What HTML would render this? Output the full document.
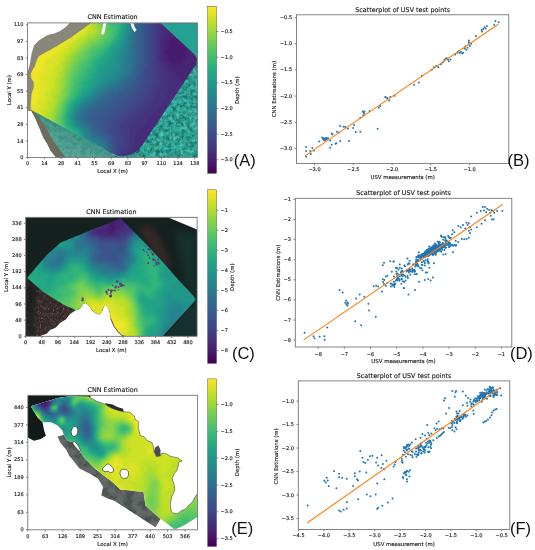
<!DOCTYPE html>
<html><head><meta charset="utf-8"><title>CNN Estimation figure</title>
<style>html,body{margin:0;padding:0;background:#fff;}svg{display:block}
text{font-family:'DejaVu Sans','Liberation Sans',sans-serif;fill:#1a1a1a;stroke:#1a1a1a;stroke-width:0.14px;text-anchor:middle}
.k{font-size:5.02px}.l{font-size:5.4px}.h{font-size:6.42px}
.b{font-family:'Liberation Sans',sans-serif;font-size:16.5px;fill:#111;stroke:none}
.e{text-anchor:end}.s{text-anchor:start}</style></head>
<body><svg width="535" height="550" viewBox="0 0 535 550">
<rect width="535" height="550" fill="#fff"/>
<defs>
<linearGradient id="vir" x1="0" y1="1" x2="0" y2="0"><stop offset="0.0" stop-color="#440154"/><stop offset="0.1" stop-color="#482475"/><stop offset="0.2" stop-color="#414487"/><stop offset="0.3" stop-color="#355f8d"/><stop offset="0.4" stop-color="#2a788e"/><stop offset="0.5" stop-color="#21918c"/><stop offset="0.6" stop-color="#22a884"/><stop offset="0.7" stop-color="#44bf70"/><stop offset="0.8" stop-color="#7ad151"/><stop offset="0.9" stop-color="#bddf26"/><stop offset="1.0" stop-color="#fde725"/></linearGradient>
<filter id="blurA" x="-5%" y="-5%" width="110%" height="110%" color-interpolation-filters="sRGB"><feGaussianBlur stdDeviation="1.3"/></filter>
<filter id="texA1" x="0" y="0" width="1" height="1" color-interpolation-filters="sRGB"><feTurbulence type="fractalNoise" baseFrequency="0.22" numOctaves="3" seed="4"/><feColorMatrix type="matrix" values="0 0 0 0 0.08  0 0 0 0 0.40  0 0 0 0 0.38  2.4 0 0 0 -0.9"/><feComposite in2="SourceGraphic" operator="in"/></filter>
<filter id="texA2" x="0" y="0" width="1" height="1" color-interpolation-filters="sRGB"><feTurbulence type="fractalNoise" baseFrequency="0.3" numOctaves="2" seed="11"/><feColorMatrix type="matrix" values="0 0 0 0 0.38  0 0 0 0 0.85  0 0 0 0 0.76  0 1.9 0 0 -0.85"/><feComposite in2="SourceGraphic" operator="in"/></filter>
<filter id="blurC" x="-20%" y="-20%" width="140%" height="140%" color-interpolation-filters="sRGB"><feGaussianBlur stdDeviation="3"/></filter>
<filter id="texC1" x="0" y="0" width="1" height="1" color-interpolation-filters="sRGB"><feTurbulence type="fractalNoise" baseFrequency="0.3" numOctaves="3" seed="7"/><feColorMatrix type="matrix" values="0 0 0 0 0.44  0 0 0 0 0.29  0 0 0 0 0.30  1.5 0 0 0 -0.62"/><feComposite in2="SourceGraphic" operator="in"/></filter>
<filter id="texC2" x="0" y="0" width="1" height="1" color-interpolation-filters="sRGB"><feTurbulence type="fractalNoise" baseFrequency="0.6" numOctaves="2" seed="3"/><feColorMatrix type="matrix" values="0 0 0 0 0.62  0 0 0 0 0.42  0 0 0 0 0.43  3 0 0 0 -1.8"/><feComposite in2="SourceGraphic" operator="in"/></filter>
<filter id="texE1" x="0" y="0" width="1" height="1" color-interpolation-filters="sRGB"><feTurbulence type="fractalNoise" baseFrequency="0.12" numOctaves="3" seed="2"/><feColorMatrix type="matrix" values="0 0 0 0 0.25  0 0 0 0 0.29  0 0 0 0 0.28  2.2 0 0 0 -0.85"/><feComposite in2="SourceGraphic" operator="in"/></filter>

</defs>
<g id="mapA"><clipPath id="axA"><rect x="27.6" y="22.9" width="169.9" height="134.5"/></clipPath>
<clipPath id="dpA"><polygon points="91.3,22.9 160.5,22.9 193.5,53.5 196.3,57.0 197.0,60.5 196.0,64.5 142.5,145.0 138.5,150.0 134.0,153.2 128.0,155.6 122.0,156.3 116.0,155.3 112.0,153.6 30.5,109.6 30.5,104.0 31.1,98.6 31.6,93.2 33.6,87.7 33.6,82.3 31.1,77.9 30.5,74.6 32.5,70.0 34.9,65.9 36.5,60.5 39.0,56.0 50.9,49.4 69.4,38.5 80.0,31.0"/></clipPath>
<g clip-path="url(#axA)">
<polygon points="69.8,22.9 66.0,26.7 60.2,30.9 54.3,33.5 47.6,35.1 39.1,40.2 34.1,45.2 31.6,53.6 29.9,63.7 28.7,68.8 27.6,72.0 27.6,111.0 31.5,111.0 40.0,90.0 60.0,60.0 95.0,22.9" fill="#898779"/>
<polygon points="158,22.9 197.5,22.9 197.5,64 190,56" fill="#25a193"/>
<polygon points="197.5,58.0 197.5,157.4 112.0,157.4 118.0,150.0 145.0,140.0 194.0,62.0" fill="#2fa697"/>
<polygon points="197.5,58.0 197.5,157.4 112.0,157.4 118.0,150.0 145.0,140.0 194.0,62.0" fill="#0e5a55" filter="url(#texA1)"/>
<polygon points="197.5,58.0 197.5,157.4 112.0,157.4 118.0,150.0 145.0,140.0 194.0,62.0" fill="#6fe3cf" filter="url(#texA2)"/>
<linearGradient id="gwA" gradientUnits="userSpaceOnUse" x1="72" y1="131" x2="60" y2="154"><stop offset="0" stop-color="#44988a"/><stop offset="1" stop-color="#60ad9e"/></linearGradient>
<polygon points="30.7,109.0 112.0,153.0 116.0,157.4 56.0,157.4 50.2,150.0 47.9,144.9 43.4,137.4 39.0,126.9 35.2,117.9" fill="url(#gwA)"/>
<polygon points="30.7,109.0 112.0,153.0 116.0,157.4 56.0,157.4 50.2,150.0 47.9,144.9 43.4,137.4 39.0,126.9 35.2,117.9" fill="#0e5a55" filter="url(#texA1)" opacity="0.35"/>
<polygon points="30.5,109.5 34.5,112.0 40.4,119.4 44.9,125.4 48.7,132.9 53.9,141.9 59.9,150.0 66.0,157.4 56.0,157.4 50.2,150.0 47.9,144.9 43.4,137.4 39.0,126.9 35.2,117.9" fill="#6d6b5c"/>
<g clip-path="url(#dpA)" filter="url(#blurA)">
<path fill="#471b6d" d="M174 34h3.3v3.3h-3.3zM171 37h9.3v3.3h-9.3zM168 40h15.3v3.3h-15.3zM168 43h18.3v3.3h-18.3zM168 46h21.3v3.3h-21.3zM165 49h21.3v3.3h-21.3zM165 52h21.3v3.3h-21.3zM168 55h18.3v3.3h-18.3zM168 58h15.3v3.3h-15.3zM171 61h12.3v3.3h-12.3z"/>
<path fill="#482475" d="M168 28h3.3v3.3h-3.3zM165 31h9.3v3.3h-9.3zM165 34h9.3v3.3h-9.3zM165 37h6.3v3.3h-6.3zM162 40h6.3v3.3h-6.3zM162 43h6.3v3.3h-6.3zM162 46h6.3v3.3h-6.3zM162 49h3.3v3.3h-3.3zM186 49h6.3v3.3h-6.3zM162 52h3.3v3.3h-3.3zM186 52h9.3v3.3h-9.3zM162 55h6.3v3.3h-6.3zM186 55h12.3v3.3h-12.3zM162 58h6.3v3.3h-6.3zM183 58h15.3v3.3h-15.3zM165 61h6.3v3.3h-6.3zM183 61h15.3v3.3h-15.3zM168 64h30.3v3.3h-30.3zM171 67h24.3v3.3h-24.3zM174 70h18.3v3.3h-18.3zM177 73h15.3v3.3h-15.3zM180 76h9.3v3.3h-9.3zM180 79h6.3v3.3h-6.3zM183 82h3.3v3.3h-3.3zM144 142h3.3v3.3h-3.3zM141 145h3.3v3.3h-3.3z"/>
<path fill="#462c7a" d="M162 22h3.3v3.3h-3.3zM162 25h6.3v3.3h-6.3zM162 28h6.3v3.3h-6.3zM162 31h3.3v3.3h-3.3zM159 34h6.3v3.3h-6.3zM159 37h6.3v3.3h-6.3zM159 40h3.3v3.3h-3.3zM159 43h3.3v3.3h-3.3zM159 46h3.3v3.3h-3.3zM159 49h3.3v3.3h-3.3zM159 52h3.3v3.3h-3.3zM159 55h3.3v3.3h-3.3zM159 58h3.3v3.3h-3.3zM162 61h3.3v3.3h-3.3zM162 64h6.3v3.3h-6.3zM165 67h6.3v3.3h-6.3zM165 70h9.3v3.3h-9.3zM168 73h9.3v3.3h-9.3zM168 76h12.3v3.3h-12.3zM168 79h12.3v3.3h-12.3zM168 82h15.3v3.3h-15.3zM168 85h15.3v3.3h-15.3zM168 88h12.3v3.3h-12.3zM168 91h12.3v3.3h-12.3zM165 94h12.3v3.3h-12.3zM165 97h12.3v3.3h-12.3zM162 100h12.3v3.3h-12.3zM159 103h12.3v3.3h-12.3zM159 106h12.3v3.3h-12.3zM156 109h12.3v3.3h-12.3zM153 112h12.3v3.3h-12.3zM150 115h15.3v3.3h-15.3zM147 118h15.3v3.3h-15.3zM147 121h12.3v3.3h-12.3zM144 124h15.3v3.3h-15.3zM138 127h18.3v3.3h-18.3zM135 130h18.3v3.3h-18.3zM135 133h18.3v3.3h-18.3zM135 136h15.3v3.3h-15.3zM135 139h12.3v3.3h-12.3zM135 142h9.3v3.3h-9.3zM135 145h6.3v3.3h-6.3zM132 148h9.3v3.3h-9.3zM129 151h9.3v3.3h-9.3zM129 154h3.3v3.3h-3.3z"/>
<path fill="#44347e" d="M159 22h3.3v3.3h-3.3zM156 25h6.3v3.3h-6.3zM156 28h6.3v3.3h-6.3zM156 31h6.3v3.3h-6.3zM156 34h3.3v3.3h-3.3zM156 37h3.3v3.3h-3.3zM156 40h3.3v3.3h-3.3zM156 43h3.3v3.3h-3.3zM156 46h3.3v3.3h-3.3zM156 49h3.3v3.3h-3.3zM156 52h3.3v3.3h-3.3zM156 55h3.3v3.3h-3.3zM156 58h3.3v3.3h-3.3zM156 61h6.3v3.3h-6.3zM159 64h3.3v3.3h-3.3zM159 67h6.3v3.3h-6.3zM159 70h6.3v3.3h-6.3zM159 73h9.3v3.3h-9.3zM159 76h9.3v3.3h-9.3zM159 79h9.3v3.3h-9.3zM159 82h9.3v3.3h-9.3zM159 85h9.3v3.3h-9.3zM156 88h12.3v3.3h-12.3zM156 91h12.3v3.3h-12.3zM153 94h12.3v3.3h-12.3zM153 97h12.3v3.3h-12.3zM150 100h12.3v3.3h-12.3zM150 103h9.3v3.3h-9.3zM147 106h12.3v3.3h-12.3zM144 109h12.3v3.3h-12.3zM141 112h12.3v3.3h-12.3zM138 115h12.3v3.3h-12.3zM135 118h12.3v3.3h-12.3zM132 121h15.3v3.3h-15.3zM129 124h15.3v3.3h-15.3zM129 127h9.3v3.3h-9.3zM129 130h6.3v3.3h-6.3zM129 133h6.3v3.3h-6.3zM129 136h6.3v3.3h-6.3zM129 139h6.3v3.3h-6.3zM129 142h6.3v3.3h-6.3zM129 145h6.3v3.3h-6.3zM126 148h6.3v3.3h-6.3zM123 151h6.3v3.3h-6.3zM120 154h9.3v3.3h-9.3z"/>
<path fill="#433c82" d="M153 22h6.3v3.3h-6.3zM153 25h3.3v3.3h-3.3zM153 28h3.3v3.3h-3.3zM153 31h3.3v3.3h-3.3zM153 34h3.3v3.3h-3.3zM153 37h3.3v3.3h-3.3zM153 40h3.3v3.3h-3.3zM153 43h3.3v3.3h-3.3zM153 46h3.3v3.3h-3.3zM153 49h3.3v3.3h-3.3zM153 52h3.3v3.3h-3.3zM153 55h3.3v3.3h-3.3zM153 58h3.3v3.3h-3.3zM153 61h3.3v3.3h-3.3zM153 64h6.3v3.3h-6.3zM153 67h6.3v3.3h-6.3zM153 70h6.3v3.3h-6.3zM153 73h6.3v3.3h-6.3zM153 76h6.3v3.3h-6.3zM153 79h6.3v3.3h-6.3zM153 82h6.3v3.3h-6.3zM150 85h9.3v3.3h-9.3zM150 88h6.3v3.3h-6.3zM147 91h9.3v3.3h-9.3zM147 94h6.3v3.3h-6.3zM144 97h9.3v3.3h-9.3zM144 100h6.3v3.3h-6.3zM141 103h9.3v3.3h-9.3zM138 106h9.3v3.3h-9.3zM135 109h9.3v3.3h-9.3zM132 112h9.3v3.3h-9.3zM129 115h9.3v3.3h-9.3zM126 118h9.3v3.3h-9.3zM123 121h9.3v3.3h-9.3zM120 124h9.3v3.3h-9.3zM120 127h9.3v3.3h-9.3zM120 130h9.3v3.3h-9.3zM120 133h9.3v3.3h-9.3zM123 136h6.3v3.3h-6.3zM123 139h6.3v3.3h-6.3zM123 142h6.3v3.3h-6.3zM120 145h9.3v3.3h-9.3zM120 148h6.3v3.3h-6.3zM117 151h6.3v3.3h-6.3zM117 154h3.3v3.3h-3.3z"/>
<path fill="#414487" d="M150 22h3.3v3.3h-3.3zM150 25h3.3v3.3h-3.3zM150 28h3.3v3.3h-3.3zM150 31h3.3v3.3h-3.3zM150 34h3.3v3.3h-3.3zM150 37h3.3v3.3h-3.3zM150 40h3.3v3.3h-3.3zM150 43h3.3v3.3h-3.3zM150 46h3.3v3.3h-3.3zM150 49h3.3v3.3h-3.3zM150 52h3.3v3.3h-3.3zM150 55h3.3v3.3h-3.3zM150 58h3.3v3.3h-3.3zM150 61h3.3v3.3h-3.3zM150 64h3.3v3.3h-3.3zM150 67h3.3v3.3h-3.3zM150 70h3.3v3.3h-3.3zM147 73h6.3v3.3h-6.3zM147 76h6.3v3.3h-6.3zM147 79h6.3v3.3h-6.3zM147 82h6.3v3.3h-6.3zM144 85h6.3v3.3h-6.3zM144 88h6.3v3.3h-6.3zM141 91h6.3v3.3h-6.3zM141 94h6.3v3.3h-6.3zM138 97h6.3v3.3h-6.3zM135 100h9.3v3.3h-9.3zM132 103h9.3v3.3h-9.3zM129 106h9.3v3.3h-9.3zM126 109h9.3v3.3h-9.3zM123 112h9.3v3.3h-9.3zM120 115h9.3v3.3h-9.3zM117 118h9.3v3.3h-9.3zM114 121h9.3v3.3h-9.3zM114 124h6.3v3.3h-6.3zM114 127h6.3v3.3h-6.3zM114 130h6.3v3.3h-6.3zM114 133h6.3v3.3h-6.3zM117 136h6.3v3.3h-6.3zM117 139h6.3v3.3h-6.3zM117 142h6.3v3.3h-6.3zM117 145h3.3v3.3h-3.3zM117 148h3.3v3.3h-3.3z"/>
<path fill="#3e4b88" d="M147 22h3.3v3.3h-3.3zM147 25h3.3v3.3h-3.3zM147 28h3.3v3.3h-3.3zM147 31h3.3v3.3h-3.3zM147 34h3.3v3.3h-3.3zM147 37h3.3v3.3h-3.3zM147 40h3.3v3.3h-3.3zM147 43h3.3v3.3h-3.3zM147 46h3.3v3.3h-3.3zM147 49h3.3v3.3h-3.3zM147 52h3.3v3.3h-3.3zM147 55h3.3v3.3h-3.3zM147 58h3.3v3.3h-3.3zM147 61h3.3v3.3h-3.3zM147 64h3.3v3.3h-3.3zM144 67h6.3v3.3h-6.3zM144 70h6.3v3.3h-6.3zM144 73h3.3v3.3h-3.3zM144 76h3.3v3.3h-3.3zM141 79h6.3v3.3h-6.3zM141 82h6.3v3.3h-6.3zM138 85h6.3v3.3h-6.3zM138 88h6.3v3.3h-6.3zM135 91h6.3v3.3h-6.3zM135 94h6.3v3.3h-6.3zM132 97h6.3v3.3h-6.3zM129 100h6.3v3.3h-6.3zM126 103h6.3v3.3h-6.3zM123 106h6.3v3.3h-6.3zM120 109h6.3v3.3h-6.3zM117 112h6.3v3.3h-6.3zM114 115h6.3v3.3h-6.3zM111 118h6.3v3.3h-6.3zM108 121h6.3v3.3h-6.3zM108 124h6.3v3.3h-6.3zM108 127h6.3v3.3h-6.3zM108 130h6.3v3.3h-6.3zM111 133h3.3v3.3h-3.3zM114 136h3.3v3.3h-3.3zM114 139h3.3v3.3h-3.3zM114 142h3.3v3.3h-3.3zM114 145h3.3v3.3h-3.3zM114 148h3.3v3.3h-3.3zM114 151h3.3v3.3h-3.3zM114 154h3.3v3.3h-3.3z"/>
<path fill="#3b528a" d="M144 22h3.3v3.3h-3.3zM144 25h3.3v3.3h-3.3zM144 28h3.3v3.3h-3.3zM144 31h3.3v3.3h-3.3zM144 34h3.3v3.3h-3.3zM144 37h3.3v3.3h-3.3zM144 40h3.3v3.3h-3.3zM144 43h3.3v3.3h-3.3zM144 46h3.3v3.3h-3.3zM144 49h3.3v3.3h-3.3zM144 52h3.3v3.3h-3.3zM144 55h3.3v3.3h-3.3zM144 58h3.3v3.3h-3.3zM144 61h3.3v3.3h-3.3zM141 64h6.3v3.3h-6.3zM141 67h3.3v3.3h-3.3zM141 70h3.3v3.3h-3.3zM141 73h3.3v3.3h-3.3zM138 76h6.3v3.3h-6.3zM138 79h3.3v3.3h-3.3zM135 82h6.3v3.3h-6.3zM135 85h3.3v3.3h-3.3zM132 88h6.3v3.3h-6.3zM132 91h3.3v3.3h-3.3zM129 94h6.3v3.3h-6.3zM123 97h9.3v3.3h-9.3zM120 100h9.3v3.3h-9.3zM117 103h9.3v3.3h-9.3zM117 106h6.3v3.3h-6.3zM114 109h6.3v3.3h-6.3zM108 112h9.3v3.3h-9.3zM105 115h9.3v3.3h-9.3zM102 118h9.3v3.3h-9.3zM102 121h6.3v3.3h-6.3zM102 124h6.3v3.3h-6.3zM102 127h6.3v3.3h-6.3zM105 130h3.3v3.3h-3.3zM108 133h3.3v3.3h-3.3zM111 136h3.3v3.3h-3.3zM111 139h3.3v3.3h-3.3zM111 142h3.3v3.3h-3.3zM111 145h3.3v3.3h-3.3zM111 148h3.3v3.3h-3.3zM111 151h3.3v3.3h-3.3zM111 154h3.3v3.3h-3.3z"/>
<path fill="#38588c" d="M141 22h3.3v3.3h-3.3zM141 25h3.3v3.3h-3.3zM141 28h3.3v3.3h-3.3zM141 31h3.3v3.3h-3.3zM141 34h3.3v3.3h-3.3zM141 37h3.3v3.3h-3.3zM141 40h3.3v3.3h-3.3zM141 43h3.3v3.3h-3.3zM141 46h3.3v3.3h-3.3zM141 49h3.3v3.3h-3.3zM141 52h3.3v3.3h-3.3zM141 55h3.3v3.3h-3.3zM141 58h3.3v3.3h-3.3zM141 61h3.3v3.3h-3.3zM138 64h3.3v3.3h-3.3zM138 67h3.3v3.3h-3.3zM138 70h3.3v3.3h-3.3zM138 73h3.3v3.3h-3.3zM135 76h3.3v3.3h-3.3zM135 79h3.3v3.3h-3.3zM132 82h3.3v3.3h-3.3zM129 85h6.3v3.3h-6.3zM126 88h6.3v3.3h-6.3zM123 91h9.3v3.3h-9.3zM117 94h12.3v3.3h-12.3zM114 97h9.3v3.3h-9.3zM111 100h9.3v3.3h-9.3zM111 103h6.3v3.3h-6.3zM105 106h12.3v3.3h-12.3zM102 109h12.3v3.3h-12.3zM96 112h12.3v3.3h-12.3zM93 115h12.3v3.3h-12.3zM93 118h9.3v3.3h-9.3zM96 121h6.3v3.3h-6.3zM96 124h6.3v3.3h-6.3zM99 127h3.3v3.3h-3.3zM99 130h6.3v3.3h-6.3zM102 133h6.3v3.3h-6.3zM108 136h3.3v3.3h-3.3zM108 139h3.3v3.3h-3.3z"/>
<path fill="#355f8d" d="M138 22h3.3v3.3h-3.3zM138 25h3.3v3.3h-3.3zM138 28h3.3v3.3h-3.3zM138 31h3.3v3.3h-3.3zM138 34h3.3v3.3h-3.3zM138 37h3.3v3.3h-3.3zM138 40h3.3v3.3h-3.3zM138 43h3.3v3.3h-3.3zM138 46h3.3v3.3h-3.3zM138 49h3.3v3.3h-3.3zM138 52h3.3v3.3h-3.3zM138 55h3.3v3.3h-3.3zM138 58h3.3v3.3h-3.3zM138 61h3.3v3.3h-3.3zM135 64h3.3v3.3h-3.3zM135 67h3.3v3.3h-3.3zM135 70h3.3v3.3h-3.3zM135 73h3.3v3.3h-3.3zM132 76h3.3v3.3h-3.3zM132 79h3.3v3.3h-3.3zM129 82h3.3v3.3h-3.3zM126 85h3.3v3.3h-3.3zM123 88h3.3v3.3h-3.3zM117 91h6.3v3.3h-6.3zM111 94h6.3v3.3h-6.3zM108 97h6.3v3.3h-6.3zM105 100h6.3v3.3h-6.3zM102 103h9.3v3.3h-9.3zM96 106h9.3v3.3h-9.3zM93 109h9.3v3.3h-9.3zM90 112h6.3v3.3h-6.3zM87 115h6.3v3.3h-6.3zM87 118h6.3v3.3h-6.3zM90 121h6.3v3.3h-6.3zM93 124h3.3v3.3h-3.3zM96 127h3.3v3.3h-3.3zM96 130h3.3v3.3h-3.3zM99 133h3.3v3.3h-3.3zM105 136h3.3v3.3h-3.3zM108 142h3.3v3.3h-3.3zM108 145h3.3v3.3h-3.3zM108 148h3.3v3.3h-3.3zM108 151h3.3v3.3h-3.3z"/>
<path fill="#32658d" d="M135 22h3.3v3.3h-3.3zM135 25h3.3v3.3h-3.3zM135 28h3.3v3.3h-3.3zM135 31h3.3v3.3h-3.3zM135 34h3.3v3.3h-3.3zM135 37h3.3v3.3h-3.3zM135 40h3.3v3.3h-3.3zM135 43h3.3v3.3h-3.3zM135 46h3.3v3.3h-3.3zM135 49h3.3v3.3h-3.3zM135 52h3.3v3.3h-3.3zM135 55h3.3v3.3h-3.3zM135 58h3.3v3.3h-3.3zM135 61h3.3v3.3h-3.3zM132 70h3.3v3.3h-3.3zM132 73h3.3v3.3h-3.3zM129 76h3.3v3.3h-3.3zM126 79h6.3v3.3h-6.3zM123 82h6.3v3.3h-6.3zM120 85h6.3v3.3h-6.3zM117 88h6.3v3.3h-6.3zM111 91h6.3v3.3h-6.3zM108 94h3.3v3.3h-3.3zM102 97h6.3v3.3h-6.3zM99 100h6.3v3.3h-6.3zM96 103h6.3v3.3h-6.3zM90 106h6.3v3.3h-6.3zM87 109h6.3v3.3h-6.3zM84 112h6.3v3.3h-6.3zM84 115h3.3v3.3h-3.3zM84 118h3.3v3.3h-3.3zM87 121h3.3v3.3h-3.3zM90 124h3.3v3.3h-3.3zM90 127h6.3v3.3h-6.3zM93 130h3.3v3.3h-3.3zM96 133h3.3v3.3h-3.3zM99 136h6.3v3.3h-6.3zM105 139h3.3v3.3h-3.3zM105 142h3.3v3.3h-3.3z"/>
<path fill="#306c8e" d="M132 40h3.3v3.3h-3.3zM132 43h3.3v3.3h-3.3zM132 46h3.3v3.3h-3.3zM132 49h3.3v3.3h-3.3zM132 52h3.3v3.3h-3.3zM132 55h3.3v3.3h-3.3zM132 58h3.3v3.3h-3.3zM132 61h3.3v3.3h-3.3zM132 64h3.3v3.3h-3.3zM132 67h3.3v3.3h-3.3zM129 73h3.3v3.3h-3.3zM126 76h3.3v3.3h-3.3zM123 79h3.3v3.3h-3.3zM120 82h3.3v3.3h-3.3zM117 85h3.3v3.3h-3.3zM111 88h6.3v3.3h-6.3zM108 91h3.3v3.3h-3.3zM102 94h6.3v3.3h-6.3zM99 97h3.3v3.3h-3.3zM96 100h3.3v3.3h-3.3zM93 103h3.3v3.3h-3.3zM87 106h3.3v3.3h-3.3zM84 109h3.3v3.3h-3.3zM81 112h3.3v3.3h-3.3zM81 115h3.3v3.3h-3.3zM81 118h3.3v3.3h-3.3zM84 121h3.3v3.3h-3.3zM87 124h3.3v3.3h-3.3zM90 130h3.3v3.3h-3.3zM93 133h3.3v3.3h-3.3zM96 136h3.3v3.3h-3.3zM102 139h3.3v3.3h-3.3zM105 145h3.3v3.3h-3.3zM105 148h3.3v3.3h-3.3zM105 151h3.3v3.3h-3.3z"/>
<path fill="#2d728e" d="M132 22h3.3v3.3h-3.3zM132 25h3.3v3.3h-3.3zM132 28h3.3v3.3h-3.3zM132 31h3.3v3.3h-3.3zM132 34h3.3v3.3h-3.3zM132 37h3.3v3.3h-3.3zM129 46h3.3v3.3h-3.3zM129 49h3.3v3.3h-3.3zM129 52h3.3v3.3h-3.3zM129 55h3.3v3.3h-3.3zM129 58h3.3v3.3h-3.3zM129 61h3.3v3.3h-3.3zM129 64h3.3v3.3h-3.3zM129 67h3.3v3.3h-3.3zM129 70h3.3v3.3h-3.3zM126 73h3.3v3.3h-3.3zM123 76h3.3v3.3h-3.3zM120 79h3.3v3.3h-3.3zM117 82h3.3v3.3h-3.3zM111 85h6.3v3.3h-6.3zM108 88h3.3v3.3h-3.3zM102 91h6.3v3.3h-6.3zM99 94h3.3v3.3h-3.3zM96 97h3.3v3.3h-3.3zM93 100h3.3v3.3h-3.3zM87 103h6.3v3.3h-6.3zM84 106h3.3v3.3h-3.3zM81 109h3.3v3.3h-3.3zM78 115h3.3v3.3h-3.3zM78 118h3.3v3.3h-3.3zM81 121h3.3v3.3h-3.3zM84 124h3.3v3.3h-3.3zM87 127h3.3v3.3h-3.3zM90 133h3.3v3.3h-3.3zM93 136h3.3v3.3h-3.3zM99 139h3.3v3.3h-3.3zM102 142h3.3v3.3h-3.3z"/>
<path fill="#2a788e" d="M129 37h3.3v3.3h-3.3zM129 40h3.3v3.3h-3.3zM129 43h3.3v3.3h-3.3zM126 52h3.3v3.3h-3.3zM126 55h3.3v3.3h-3.3zM126 58h3.3v3.3h-3.3zM126 61h3.3v3.3h-3.3zM126 64h3.3v3.3h-3.3zM126 67h3.3v3.3h-3.3zM126 70h3.3v3.3h-3.3zM123 73h3.3v3.3h-3.3zM120 76h3.3v3.3h-3.3zM117 79h3.3v3.3h-3.3zM114 82h3.3v3.3h-3.3zM108 85h3.3v3.3h-3.3zM105 88h3.3v3.3h-3.3zM99 91h3.3v3.3h-3.3zM96 94h3.3v3.3h-3.3zM93 97h3.3v3.3h-3.3zM90 100h3.3v3.3h-3.3zM84 103h3.3v3.3h-3.3zM81 106h3.3v3.3h-3.3zM78 109h3.3v3.3h-3.3zM78 112h3.3v3.3h-3.3zM78 121h3.3v3.3h-3.3zM81 124h3.3v3.3h-3.3zM84 127h3.3v3.3h-3.3zM87 130h3.3v3.3h-3.3zM90 136h3.3v3.3h-3.3zM96 139h3.3v3.3h-3.3zM99 142h3.3v3.3h-3.3zM102 145h3.3v3.3h-3.3zM102 148h3.3v3.3h-3.3z"/>
<path fill="#287e8e" d="M129 22h3.3v3.3h-3.3zM129 25h3.3v3.3h-3.3zM129 28h3.3v3.3h-3.3zM129 31h3.3v3.3h-3.3zM129 34h3.3v3.3h-3.3zM126 43h3.3v3.3h-3.3zM126 46h3.3v3.3h-3.3zM126 49h3.3v3.3h-3.3zM123 55h3.3v3.3h-3.3zM123 58h3.3v3.3h-3.3zM123 61h3.3v3.3h-3.3zM123 64h3.3v3.3h-3.3zM123 67h3.3v3.3h-3.3zM123 70h3.3v3.3h-3.3zM120 73h3.3v3.3h-3.3zM117 76h3.3v3.3h-3.3zM114 79h3.3v3.3h-3.3zM108 82h6.3v3.3h-6.3zM105 85h3.3v3.3h-3.3zM102 88h3.3v3.3h-3.3zM96 91h3.3v3.3h-3.3zM93 94h3.3v3.3h-3.3zM90 97h3.3v3.3h-3.3zM87 100h3.3v3.3h-3.3zM75 112h3.3v3.3h-3.3zM75 115h3.3v3.3h-3.3zM75 118h3.3v3.3h-3.3zM84 130h3.3v3.3h-3.3zM87 133h3.3v3.3h-3.3zM93 139h3.3v3.3h-3.3zM96 142h3.3v3.3h-3.3zM99 145h3.3v3.3h-3.3z"/>
<path fill="#26848d" d="M126 34h3.3v3.3h-3.3zM126 37h3.3v3.3h-3.3zM126 40h3.3v3.3h-3.3zM123 46h3.3v3.3h-3.3zM123 49h3.3v3.3h-3.3zM123 52h3.3v3.3h-3.3zM120 55h3.3v3.3h-3.3zM120 58h3.3v3.3h-3.3zM120 61h3.3v3.3h-3.3zM120 64h3.3v3.3h-3.3zM120 67h3.3v3.3h-3.3zM120 70h3.3v3.3h-3.3zM117 73h3.3v3.3h-3.3zM114 76h3.3v3.3h-3.3zM108 79h6.3v3.3h-6.3zM105 82h3.3v3.3h-3.3zM102 85h3.3v3.3h-3.3zM99 88h3.3v3.3h-3.3zM93 91h3.3v3.3h-3.3zM90 94h3.3v3.3h-3.3zM87 97h3.3v3.3h-3.3zM84 100h3.3v3.3h-3.3zM81 103h3.3v3.3h-3.3zM78 106h3.3v3.3h-3.3zM75 109h3.3v3.3h-3.3zM75 121h3.3v3.3h-3.3zM78 124h3.3v3.3h-3.3zM81 127h3.3v3.3h-3.3zM84 133h3.3v3.3h-3.3zM87 136h3.3v3.3h-3.3zM90 139h3.3v3.3h-3.3zM93 142h3.3v3.3h-3.3zM96 145h3.3v3.3h-3.3z"/>
<path fill="#238b8c" d="M126 25h3.3v3.3h-3.3zM126 28h3.3v3.3h-3.3zM126 31h3.3v3.3h-3.3zM123 40h3.3v3.3h-3.3zM123 43h3.3v3.3h-3.3zM120 49h3.3v3.3h-3.3zM120 52h3.3v3.3h-3.3zM117 55h3.3v3.3h-3.3zM117 58h3.3v3.3h-3.3zM117 61h3.3v3.3h-3.3zM117 64h3.3v3.3h-3.3zM117 67h3.3v3.3h-3.3zM114 70h6.3v3.3h-6.3zM111 73h6.3v3.3h-6.3zM108 76h6.3v3.3h-6.3zM105 79h3.3v3.3h-3.3zM102 82h3.3v3.3h-3.3zM99 85h3.3v3.3h-3.3zM96 88h3.3v3.3h-3.3zM84 97h3.3v3.3h-3.3zM81 100h3.3v3.3h-3.3zM78 103h3.3v3.3h-3.3zM75 106h3.3v3.3h-3.3zM72 112h3.3v3.3h-3.3zM72 115h3.3v3.3h-3.3zM72 118h3.3v3.3h-3.3zM75 124h3.3v3.3h-3.3zM81 130h3.3v3.3h-3.3zM84 136h3.3v3.3h-3.3zM87 139h3.3v3.3h-3.3zM90 142h3.3v3.3h-3.3z"/>
<path fill="#21918c" d="M126 22h3.3v3.3h-3.3zM123 34h3.3v3.3h-3.3zM123 37h3.3v3.3h-3.3zM120 43h3.3v3.3h-3.3zM120 46h3.3v3.3h-3.3zM117 49h3.3v3.3h-3.3zM117 52h3.3v3.3h-3.3zM114 55h3.3v3.3h-3.3zM114 58h3.3v3.3h-3.3zM114 61h3.3v3.3h-3.3zM111 64h6.3v3.3h-6.3zM111 67h6.3v3.3h-6.3zM108 70h6.3v3.3h-6.3zM105 73h6.3v3.3h-6.3zM102 76h6.3v3.3h-6.3zM102 79h3.3v3.3h-3.3zM99 82h3.3v3.3h-3.3zM96 85h3.3v3.3h-3.3zM93 88h3.3v3.3h-3.3zM90 91h3.3v3.3h-3.3zM87 94h3.3v3.3h-3.3zM72 109h3.3v3.3h-3.3zM72 121h3.3v3.3h-3.3zM78 127h3.3v3.3h-3.3zM84 139h3.3v3.3h-3.3z"/>
<path fill="#21978a" d="M123 28h3.3v3.3h-3.3zM123 31h3.3v3.3h-3.3zM120 40h3.3v3.3h-3.3zM117 46h3.3v3.3h-3.3zM114 49h3.3v3.3h-3.3zM114 52h3.3v3.3h-3.3zM111 55h3.3v3.3h-3.3zM111 58h3.3v3.3h-3.3zM108 61h6.3v3.3h-6.3zM108 64h3.3v3.3h-3.3zM105 67h6.3v3.3h-6.3zM102 70h6.3v3.3h-6.3zM99 73h6.3v3.3h-6.3zM99 76h3.3v3.3h-3.3zM96 79h6.3v3.3h-6.3zM96 82h3.3v3.3h-3.3zM93 85h3.3v3.3h-3.3zM90 88h3.3v3.3h-3.3zM87 91h3.3v3.3h-3.3zM84 94h3.3v3.3h-3.3zM81 97h3.3v3.3h-3.3zM78 100h3.3v3.3h-3.3zM75 103h3.3v3.3h-3.3zM72 106h3.3v3.3h-3.3zM69 115h3.3v3.3h-3.3zM69 118h3.3v3.3h-3.3zM72 124h3.3v3.3h-3.3zM81 133h3.3v3.3h-3.3zM81 136h3.3v3.3h-3.3z"/>
<path fill="#229c88" d="M123 22h3.3v3.3h-3.3zM123 25h3.3v3.3h-3.3zM120 37h3.3v3.3h-3.3zM117 43h3.3v3.3h-3.3zM114 46h3.3v3.3h-3.3zM111 49h3.3v3.3h-3.3zM111 52h3.3v3.3h-3.3zM108 55h3.3v3.3h-3.3zM105 58h6.3v3.3h-6.3zM105 61h3.3v3.3h-3.3zM102 64h6.3v3.3h-6.3zM99 67h6.3v3.3h-6.3zM99 70h3.3v3.3h-3.3zM96 73h3.3v3.3h-3.3zM96 76h3.3v3.3h-3.3zM93 79h3.3v3.3h-3.3zM93 82h3.3v3.3h-3.3zM90 85h3.3v3.3h-3.3zM87 88h3.3v3.3h-3.3zM84 91h3.3v3.3h-3.3zM81 94h3.3v3.3h-3.3zM78 97h3.3v3.3h-3.3zM75 100h3.3v3.3h-3.3zM69 112h3.3v3.3h-3.3zM69 121h3.3v3.3h-3.3zM75 127h3.3v3.3h-3.3zM78 130h3.3v3.3h-3.3z"/>
<path fill="#22a286" d="M120 31h3.3v3.3h-3.3zM120 34h3.3v3.3h-3.3zM117 40h3.3v3.3h-3.3zM114 43h3.3v3.3h-3.3zM111 46h3.3v3.3h-3.3zM108 52h3.3v3.3h-3.3zM105 55h3.3v3.3h-3.3zM102 58h3.3v3.3h-3.3zM102 61h3.3v3.3h-3.3zM99 64h3.3v3.3h-3.3zM96 67h3.3v3.3h-3.3zM96 70h3.3v3.3h-3.3zM93 73h3.3v3.3h-3.3zM93 76h3.3v3.3h-3.3zM90 79h3.3v3.3h-3.3zM90 82h3.3v3.3h-3.3zM87 85h3.3v3.3h-3.3zM84 88h3.3v3.3h-3.3zM81 91h3.3v3.3h-3.3zM72 103h3.3v3.3h-3.3zM69 109h3.3v3.3h-3.3zM69 124h3.3v3.3h-3.3zM72 127h3.3v3.3h-3.3zM78 133h3.3v3.3h-3.3z"/>
<path fill="#22a884" d="M120 22h3.3v3.3h-3.3zM120 25h3.3v3.3h-3.3zM120 28h3.3v3.3h-3.3zM117 34h3.3v3.3h-3.3zM117 37h3.3v3.3h-3.3zM114 40h3.3v3.3h-3.3zM111 43h3.3v3.3h-3.3zM108 46h3.3v3.3h-3.3zM108 49h3.3v3.3h-3.3zM105 52h3.3v3.3h-3.3zM102 55h3.3v3.3h-3.3zM99 58h3.3v3.3h-3.3zM96 61h6.3v3.3h-6.3zM96 64h3.3v3.3h-3.3zM93 67h3.3v3.3h-3.3zM93 70h3.3v3.3h-3.3zM90 73h3.3v3.3h-3.3zM90 76h3.3v3.3h-3.3zM87 79h3.3v3.3h-3.3zM84 82h6.3v3.3h-6.3zM84 85h3.3v3.3h-3.3zM81 88h3.3v3.3h-3.3zM78 94h3.3v3.3h-3.3zM75 97h3.3v3.3h-3.3zM72 100h3.3v3.3h-3.3zM69 106h3.3v3.3h-3.3zM66 112h3.3v3.3h-3.3zM66 115h3.3v3.3h-3.3zM66 118h3.3v3.3h-3.3zM66 121h3.3v3.3h-3.3zM75 130h3.3v3.3h-3.3zM78 136h3.3v3.3h-3.3z"/>
<path fill="#2aae7f" d="M117 22h3.3v3.3h-3.3zM117 28h3.3v3.3h-3.3zM117 31h3.3v3.3h-3.3zM114 37h3.3v3.3h-3.3zM111 40h3.3v3.3h-3.3zM105 49h3.3v3.3h-3.3zM102 52h3.3v3.3h-3.3zM99 55h3.3v3.3h-3.3zM96 58h3.3v3.3h-3.3zM93 61h3.3v3.3h-3.3zM93 64h3.3v3.3h-3.3zM90 67h3.3v3.3h-3.3zM87 70h6.3v3.3h-6.3zM87 73h3.3v3.3h-3.3zM84 76h6.3v3.3h-6.3zM84 79h3.3v3.3h-3.3zM81 82h3.3v3.3h-3.3zM81 85h3.3v3.3h-3.3zM78 88h3.3v3.3h-3.3zM78 91h3.3v3.3h-3.3zM75 94h3.3v3.3h-3.3zM69 103h3.3v3.3h-3.3zM66 109h3.3v3.3h-3.3zM66 124h3.3v3.3h-3.3zM69 127h3.3v3.3h-3.3zM72 130h3.3v3.3h-3.3zM75 133h3.3v3.3h-3.3z"/>
<path fill="#33b47a" d="M114 22h3.3v3.3h-3.3zM117 25h3.3v3.3h-3.3zM114 34h3.3v3.3h-3.3zM108 43h3.3v3.3h-3.3zM105 46h3.3v3.3h-3.3zM102 49h3.3v3.3h-3.3zM99 52h3.3v3.3h-3.3zM96 55h3.3v3.3h-3.3zM93 58h3.3v3.3h-3.3zM90 61h3.3v3.3h-3.3zM90 64h3.3v3.3h-3.3zM87 67h3.3v3.3h-3.3zM84 70h3.3v3.3h-3.3zM84 73h3.3v3.3h-3.3zM81 76h3.3v3.3h-3.3zM81 79h3.3v3.3h-3.3zM78 82h3.3v3.3h-3.3zM78 85h3.3v3.3h-3.3zM75 91h3.3v3.3h-3.3zM72 97h3.3v3.3h-3.3zM69 100h3.3v3.3h-3.3zM66 106h3.3v3.3h-3.3zM63 115h3.3v3.3h-3.3zM63 118h3.3v3.3h-3.3zM63 121h3.3v3.3h-3.3zM66 127h3.3v3.3h-3.3zM69 130h3.3v3.3h-3.3zM72 133h3.3v3.3h-3.3z"/>
<path fill="#3cb975" d="M108 22h6.3v3.3h-6.3zM114 25h3.3v3.3h-3.3zM114 28h3.3v3.3h-3.3zM114 31h3.3v3.3h-3.3zM111 37h3.3v3.3h-3.3zM108 40h3.3v3.3h-3.3zM105 43h3.3v3.3h-3.3zM102 46h3.3v3.3h-3.3zM99 49h3.3v3.3h-3.3zM96 52h3.3v3.3h-3.3zM93 55h3.3v3.3h-3.3zM90 58h3.3v3.3h-3.3zM87 61h3.3v3.3h-3.3zM87 64h3.3v3.3h-3.3zM84 67h3.3v3.3h-3.3zM81 70h3.3v3.3h-3.3zM81 73h3.3v3.3h-3.3zM78 76h3.3v3.3h-3.3zM78 79h3.3v3.3h-3.3zM75 82h3.3v3.3h-3.3zM75 85h3.3v3.3h-3.3zM75 88h3.3v3.3h-3.3zM72 91h3.3v3.3h-3.3zM72 94h3.3v3.3h-3.3zM69 97h3.3v3.3h-3.3zM66 103h3.3v3.3h-3.3zM63 112h3.3v3.3h-3.3zM63 124h3.3v3.3h-3.3z"/>
<path fill="#44bf70" d="M108 25h6.3v3.3h-6.3zM111 28h3.3v3.3h-3.3zM111 31h3.3v3.3h-3.3zM111 34h3.3v3.3h-3.3zM108 37h3.3v3.3h-3.3zM105 40h3.3v3.3h-3.3zM102 43h3.3v3.3h-3.3zM99 46h3.3v3.3h-3.3zM93 49h6.3v3.3h-6.3zM90 52h6.3v3.3h-6.3zM90 55h3.3v3.3h-3.3zM87 58h3.3v3.3h-3.3zM84 61h3.3v3.3h-3.3zM81 64h6.3v3.3h-6.3zM81 67h3.3v3.3h-3.3zM78 70h3.3v3.3h-3.3zM78 73h3.3v3.3h-3.3zM75 76h3.3v3.3h-3.3zM75 79h3.3v3.3h-3.3zM72 85h3.3v3.3h-3.3zM72 88h3.3v3.3h-3.3zM69 94h3.3v3.3h-3.3zM66 100h3.3v3.3h-3.3zM63 106h3.3v3.3h-3.3zM63 109h3.3v3.3h-3.3zM60 118h3.3v3.3h-3.3zM63 127h3.3v3.3h-3.3zM66 130h3.3v3.3h-3.3z"/>
<path fill="#52c468" d="M105 22h3.3v3.3h-3.3zM108 28h3.3v3.3h-3.3zM108 31h3.3v3.3h-3.3zM108 34h3.3v3.3h-3.3zM105 37h3.3v3.3h-3.3zM102 40h3.3v3.3h-3.3zM99 43h3.3v3.3h-3.3zM93 46h6.3v3.3h-6.3zM90 49h3.3v3.3h-3.3zM87 52h3.3v3.3h-3.3zM87 55h3.3v3.3h-3.3zM84 58h3.3v3.3h-3.3zM81 61h3.3v3.3h-3.3zM78 64h3.3v3.3h-3.3zM78 67h3.3v3.3h-3.3zM75 70h3.3v3.3h-3.3zM75 73h3.3v3.3h-3.3zM72 76h3.3v3.3h-3.3zM72 79h3.3v3.3h-3.3zM72 82h3.3v3.3h-3.3zM69 88h3.3v3.3h-3.3zM69 91h3.3v3.3h-3.3zM66 97h3.3v3.3h-3.3zM63 103h3.3v3.3h-3.3zM60 112h3.3v3.3h-3.3zM60 115h3.3v3.3h-3.3zM60 121h3.3v3.3h-3.3zM60 124h3.3v3.3h-3.3z"/>
<path fill="#5fc860" d="M102 22h3.3v3.3h-3.3zM105 25h3.3v3.3h-3.3zM105 28h3.3v3.3h-3.3zM105 31h3.3v3.3h-3.3zM105 34h3.3v3.3h-3.3zM102 37h3.3v3.3h-3.3zM99 40h3.3v3.3h-3.3zM93 43h6.3v3.3h-6.3zM90 46h3.3v3.3h-3.3zM87 49h3.3v3.3h-3.3zM84 52h3.3v3.3h-3.3zM84 55h3.3v3.3h-3.3zM81 58h3.3v3.3h-3.3zM78 61h3.3v3.3h-3.3zM75 64h3.3v3.3h-3.3zM75 67h3.3v3.3h-3.3zM72 70h3.3v3.3h-3.3zM72 73h3.3v3.3h-3.3zM69 79h3.3v3.3h-3.3zM69 82h3.3v3.3h-3.3zM69 85h3.3v3.3h-3.3zM66 94h3.3v3.3h-3.3zM63 100h3.3v3.3h-3.3zM60 109h3.3v3.3h-3.3zM57 118h3.3v3.3h-3.3zM57 121h3.3v3.3h-3.3z"/>
<path fill="#6ccc59" d="M102 25h3.3v3.3h-3.3zM102 28h3.3v3.3h-3.3zM102 34h3.3v3.3h-3.3zM99 37h3.3v3.3h-3.3zM96 40h3.3v3.3h-3.3zM90 43h3.3v3.3h-3.3zM87 46h3.3v3.3h-3.3zM84 49h3.3v3.3h-3.3zM81 52h3.3v3.3h-3.3zM78 55h6.3v3.3h-6.3zM78 58h3.3v3.3h-3.3zM75 61h3.3v3.3h-3.3zM72 64h3.3v3.3h-3.3zM72 67h3.3v3.3h-3.3zM69 73h3.3v3.3h-3.3zM69 76h3.3v3.3h-3.3zM66 82h3.3v3.3h-3.3zM66 85h3.3v3.3h-3.3zM66 88h3.3v3.3h-3.3zM66 91h3.3v3.3h-3.3zM63 97h3.3v3.3h-3.3zM60 103h3.3v3.3h-3.3zM60 106h3.3v3.3h-3.3zM57 112h3.3v3.3h-3.3zM57 115h3.3v3.3h-3.3zM57 124h3.3v3.3h-3.3z"/>
<path fill="#7ad151" d="M99 22h3.3v3.3h-3.3zM99 25h3.3v3.3h-3.3zM102 31h3.3v3.3h-3.3zM99 34h3.3v3.3h-3.3zM96 37h3.3v3.3h-3.3zM90 40h6.3v3.3h-6.3zM87 43h3.3v3.3h-3.3zM84 46h3.3v3.3h-3.3zM81 49h3.3v3.3h-3.3zM78 52h3.3v3.3h-3.3zM75 55h3.3v3.3h-3.3zM75 58h3.3v3.3h-3.3zM72 61h3.3v3.3h-3.3zM69 67h3.3v3.3h-3.3zM69 70h3.3v3.3h-3.3zM66 73h3.3v3.3h-3.3zM66 76h3.3v3.3h-3.3zM66 79h3.3v3.3h-3.3zM63 88h3.3v3.3h-3.3zM63 91h3.3v3.3h-3.3zM63 94h3.3v3.3h-3.3zM60 100h3.3v3.3h-3.3zM57 106h3.3v3.3h-3.3zM57 109h3.3v3.3h-3.3zM54 115h3.3v3.3h-3.3zM54 118h3.3v3.3h-3.3zM54 121h3.3v3.3h-3.3z"/>
<path fill="#8bd446" d="M96 22h3.3v3.3h-3.3zM99 28h3.3v3.3h-3.3zM99 31h3.3v3.3h-3.3zM96 34h3.3v3.3h-3.3zM93 37h3.3v3.3h-3.3zM87 40h3.3v3.3h-3.3zM84 43h3.3v3.3h-3.3zM81 46h3.3v3.3h-3.3zM78 49h3.3v3.3h-3.3zM75 52h3.3v3.3h-3.3zM72 55h3.3v3.3h-3.3zM72 58h3.3v3.3h-3.3zM69 61h3.3v3.3h-3.3zM69 64h3.3v3.3h-3.3zM66 67h3.3v3.3h-3.3zM66 70h3.3v3.3h-3.3zM63 76h3.3v3.3h-3.3zM63 79h3.3v3.3h-3.3zM63 82h3.3v3.3h-3.3zM63 85h3.3v3.3h-3.3zM60 91h3.3v3.3h-3.3zM60 94h3.3v3.3h-3.3zM60 97h3.3v3.3h-3.3zM57 100h3.3v3.3h-3.3zM57 103h3.3v3.3h-3.3zM54 109h3.3v3.3h-3.3zM54 112h3.3v3.3h-3.3z"/>
<path fill="#9cd83c" d="M96 25h3.3v3.3h-3.3zM96 28h3.3v3.3h-3.3zM96 31h3.3v3.3h-3.3zM93 34h3.3v3.3h-3.3zM87 37h6.3v3.3h-6.3zM84 40h3.3v3.3h-3.3zM81 43h3.3v3.3h-3.3zM78 46h3.3v3.3h-3.3zM75 49h3.3v3.3h-3.3zM72 52h3.3v3.3h-3.3zM69 55h3.3v3.3h-3.3zM69 58h3.3v3.3h-3.3zM66 61h3.3v3.3h-3.3zM66 64h3.3v3.3h-3.3zM63 67h3.3v3.3h-3.3zM63 70h3.3v3.3h-3.3zM63 73h3.3v3.3h-3.3zM60 79h3.3v3.3h-3.3zM60 82h3.3v3.3h-3.3zM60 85h3.3v3.3h-3.3zM60 88h3.3v3.3h-3.3zM57 94h3.3v3.3h-3.3zM57 97h3.3v3.3h-3.3zM54 103h3.3v3.3h-3.3zM54 106h3.3v3.3h-3.3zM51 112h3.3v3.3h-3.3zM51 115h3.3v3.3h-3.3zM51 118h3.3v3.3h-3.3zM51 121h3.3v3.3h-3.3z"/>
<path fill="#acdc31" d="M93 22h3.3v3.3h-3.3zM93 25h3.3v3.3h-3.3zM93 28h3.3v3.3h-3.3zM93 31h3.3v3.3h-3.3zM87 34h6.3v3.3h-6.3zM84 37h3.3v3.3h-3.3zM81 40h3.3v3.3h-3.3zM78 43h3.3v3.3h-3.3zM75 46h3.3v3.3h-3.3zM72 49h3.3v3.3h-3.3zM69 52h3.3v3.3h-3.3zM66 55h3.3v3.3h-3.3zM66 58h3.3v3.3h-3.3zM63 61h3.3v3.3h-3.3zM63 64h3.3v3.3h-3.3zM60 70h3.3v3.3h-3.3zM60 73h3.3v3.3h-3.3zM60 76h3.3v3.3h-3.3zM57 79h3.3v3.3h-3.3zM57 82h3.3v3.3h-3.3zM57 85h3.3v3.3h-3.3zM57 88h3.3v3.3h-3.3zM57 91h3.3v3.3h-3.3zM54 94h3.3v3.3h-3.3zM54 97h3.3v3.3h-3.3zM54 100h3.3v3.3h-3.3zM51 103h3.3v3.3h-3.3zM51 106h3.3v3.3h-3.3zM51 109h3.3v3.3h-3.3zM48 112h3.3v3.3h-3.3zM48 115h3.3v3.3h-3.3zM48 118h3.3v3.3h-3.3z"/>
<path fill="#bddf26" d="M90 22h3.3v3.3h-3.3zM90 25h3.3v3.3h-3.3zM90 28h3.3v3.3h-3.3zM87 31h6.3v3.3h-6.3zM84 34h3.3v3.3h-3.3zM78 37h6.3v3.3h-6.3zM75 40h6.3v3.3h-6.3zM72 43h6.3v3.3h-6.3zM69 46h6.3v3.3h-6.3zM69 49h3.3v3.3h-3.3zM66 52h3.3v3.3h-3.3zM63 55h3.3v3.3h-3.3zM63 58h3.3v3.3h-3.3zM60 61h3.3v3.3h-3.3zM60 64h3.3v3.3h-3.3zM57 67h6.3v3.3h-6.3zM57 70h3.3v3.3h-3.3zM57 73h3.3v3.3h-3.3zM54 76h6.3v3.3h-6.3zM54 79h3.3v3.3h-3.3zM54 82h3.3v3.3h-3.3zM54 85h3.3v3.3h-3.3zM51 88h6.3v3.3h-6.3zM51 91h6.3v3.3h-6.3zM51 94h3.3v3.3h-3.3zM51 97h3.3v3.3h-3.3zM48 100h6.3v3.3h-6.3zM48 103h3.3v3.3h-3.3zM48 106h3.3v3.3h-3.3zM45 109h6.3v3.3h-6.3zM45 112h3.3v3.3h-3.3zM45 115h3.3v3.3h-3.3zM45 118h3.3v3.3h-3.3z"/>
<path fill="#cde126" d="M87 22h3.3v3.3h-3.3zM87 25h3.3v3.3h-3.3zM87 28h3.3v3.3h-3.3zM84 31h3.3v3.3h-3.3zM78 34h6.3v3.3h-6.3zM75 37h3.3v3.3h-3.3zM72 40h3.3v3.3h-3.3zM69 43h3.3v3.3h-3.3zM66 46h3.3v3.3h-3.3zM63 49h6.3v3.3h-6.3zM60 52h6.3v3.3h-6.3zM60 55h3.3v3.3h-3.3zM57 58h6.3v3.3h-6.3zM57 61h3.3v3.3h-3.3zM54 64h6.3v3.3h-6.3zM54 67h3.3v3.3h-3.3zM51 70h6.3v3.3h-6.3zM51 73h6.3v3.3h-6.3zM48 76h6.3v3.3h-6.3zM48 79h6.3v3.3h-6.3zM48 82h6.3v3.3h-6.3zM48 85h6.3v3.3h-6.3zM48 88h3.3v3.3h-3.3zM45 91h6.3v3.3h-6.3zM45 94h6.3v3.3h-6.3zM45 97h6.3v3.3h-6.3zM45 100h3.3v3.3h-3.3zM42 103h6.3v3.3h-6.3zM42 106h6.3v3.3h-6.3zM39 109h6.3v3.3h-6.3zM39 112h6.3v3.3h-6.3zM39 115h6.3v3.3h-6.3z"/>
<path fill="#dde326" d="M84 25h3.3v3.3h-3.3zM81 28h6.3v3.3h-6.3zM78 31h6.3v3.3h-6.3zM75 34h3.3v3.3h-3.3zM69 37h6.3v3.3h-6.3zM66 40h6.3v3.3h-6.3zM63 43h6.3v3.3h-6.3zM60 46h6.3v3.3h-6.3zM57 49h6.3v3.3h-6.3zM54 52h6.3v3.3h-6.3zM51 55h9.3v3.3h-9.3zM45 58h12.3v3.3h-12.3zM45 61h12.3v3.3h-12.3zM42 64h12.3v3.3h-12.3zM42 67h12.3v3.3h-12.3zM42 70h9.3v3.3h-9.3zM39 73h12.3v3.3h-12.3zM39 76h9.3v3.3h-9.3zM39 79h9.3v3.3h-9.3zM39 82h9.3v3.3h-9.3zM39 85h9.3v3.3h-9.3zM39 88h9.3v3.3h-9.3zM39 91h6.3v3.3h-6.3zM39 94h6.3v3.3h-6.3zM39 97h6.3v3.3h-6.3zM36 100h9.3v3.3h-9.3zM36 103h6.3v3.3h-6.3zM33 106h9.3v3.3h-9.3zM33 109h6.3v3.3h-6.3zM33 112h6.3v3.3h-6.3z"/>
<path fill="#ede525" d="M78 28h3.3v3.3h-3.3zM75 31h3.3v3.3h-3.3zM72 34h3.3v3.3h-3.3zM66 37h3.3v3.3h-3.3zM60 40h6.3v3.3h-6.3zM57 43h6.3v3.3h-6.3zM51 46h9.3v3.3h-9.3zM45 49h12.3v3.3h-12.3zM39 52h15.3v3.3h-15.3zM36 55h15.3v3.3h-15.3zM36 58h9.3v3.3h-9.3zM33 61h12.3v3.3h-12.3zM33 64h9.3v3.3h-9.3zM30 67h12.3v3.3h-12.3zM30 70h12.3v3.3h-12.3zM30 73h9.3v3.3h-9.3zM30 76h9.3v3.3h-9.3zM30 79h9.3v3.3h-9.3zM33 82h6.3v3.3h-6.3zM33 85h6.3v3.3h-6.3zM30 88h9.3v3.3h-9.3zM30 91h9.3v3.3h-9.3zM30 94h9.3v3.3h-9.3zM30 97h9.3v3.3h-9.3zM30 100h6.3v3.3h-6.3zM30 103h6.3v3.3h-6.3zM30 106h3.3v3.3h-3.3zM30 109h3.3v3.3h-3.3z"/>
</g>
<line x1="105.1" y1="22.3" x2="102.6" y2="34.3" stroke="#fff" stroke-width="2.8"/>
<path d="M131.8,22 Q132.3,27.5 135.6,31" stroke="#fff" stroke-width="2.9" fill="none"/>
</g></g>
<rect x="27.60" y="22.90" width="169.90" height="134.50" fill="none" stroke="#6e6e6e" stroke-width="0.85"/>
<line x1="27.70" y1="157.40" x2="27.70" y2="159.20" stroke="#6e6e6e" stroke-width="0.85"/>
<text x="27.70" y="165.30" class="k">0</text>
<line x1="44.40" y1="157.40" x2="44.40" y2="159.20" stroke="#6e6e6e" stroke-width="0.85"/>
<text x="44.40" y="165.30" class="k">14</text>
<line x1="61.10" y1="157.40" x2="61.10" y2="159.20" stroke="#6e6e6e" stroke-width="0.85"/>
<text x="61.10" y="165.30" class="k">28</text>
<line x1="77.80" y1="157.40" x2="77.80" y2="159.20" stroke="#6e6e6e" stroke-width="0.85"/>
<text x="77.80" y="165.30" class="k">41</text>
<line x1="94.50" y1="157.40" x2="94.50" y2="159.20" stroke="#6e6e6e" stroke-width="0.85"/>
<text x="94.50" y="165.30" class="k">55</text>
<line x1="111.20" y1="157.40" x2="111.20" y2="159.20" stroke="#6e6e6e" stroke-width="0.85"/>
<text x="111.20" y="165.30" class="k">69</text>
<line x1="127.90" y1="157.40" x2="127.90" y2="159.20" stroke="#6e6e6e" stroke-width="0.85"/>
<text x="127.90" y="165.30" class="k">83</text>
<line x1="144.60" y1="157.40" x2="144.60" y2="159.20" stroke="#6e6e6e" stroke-width="0.85"/>
<text x="144.60" y="165.30" class="k">97</text>
<line x1="161.30" y1="157.40" x2="161.30" y2="159.20" stroke="#6e6e6e" stroke-width="0.85"/>
<text x="161.30" y="165.30" class="k">110</text>
<line x1="178.00" y1="157.40" x2="178.00" y2="159.20" stroke="#6e6e6e" stroke-width="0.85"/>
<text x="178.00" y="165.30" class="k">124</text>
<line x1="194.70" y1="157.40" x2="194.70" y2="159.20" stroke="#6e6e6e" stroke-width="0.85"/>
<text x="194.70" y="165.30" class="k">138</text>
<line x1="25.80" y1="157.50" x2="27.60" y2="157.50" stroke="#6e6e6e" stroke-width="0.85"/>
<text x="23.50" y="159.08" class="k e">0</text>
<line x1="25.80" y1="140.92" x2="27.60" y2="140.92" stroke="#6e6e6e" stroke-width="0.85"/>
<text x="23.50" y="142.50" class="k e">14</text>
<line x1="25.80" y1="124.34" x2="27.60" y2="124.34" stroke="#6e6e6e" stroke-width="0.85"/>
<text x="23.50" y="125.92" class="k e">28</text>
<line x1="25.80" y1="107.76" x2="27.60" y2="107.76" stroke="#6e6e6e" stroke-width="0.85"/>
<text x="23.50" y="109.34" class="k e">41</text>
<line x1="25.80" y1="91.18" x2="27.60" y2="91.18" stroke="#6e6e6e" stroke-width="0.85"/>
<text x="23.50" y="92.76" class="k e">55</text>
<line x1="25.80" y1="74.60" x2="27.60" y2="74.60" stroke="#6e6e6e" stroke-width="0.85"/>
<text x="23.50" y="76.18" class="k e">69</text>
<line x1="25.80" y1="58.02" x2="27.60" y2="58.02" stroke="#6e6e6e" stroke-width="0.85"/>
<text x="23.50" y="59.60" class="k e">83</text>
<line x1="25.80" y1="41.44" x2="27.60" y2="41.44" stroke="#6e6e6e" stroke-width="0.85"/>
<text x="23.50" y="43.02" class="k e">97</text>
<line x1="25.80" y1="24.86" x2="27.60" y2="24.86" stroke="#6e6e6e" stroke-width="0.85"/>
<text x="23.50" y="26.44" class="k e">110</text>
<text x="112.55" y="19.30" class="h">CNN Estimation</text>
<text x="112.55" y="172.90" class="l">Local X (m)</text>
<text x="10.80" y="90.15" class="l" transform="rotate(-90 10.80 90.15)">Local Y (m)</text>
<rect x="207.70" y="6.30" width="8.80" height="167.00" fill="url(#vir)" stroke="#333" stroke-width="0.4"/>
<line x1="216.50" y1="31.50" x2="218.30" y2="31.50" stroke="#6e6e6e" stroke-width="0.85"/>
<text x="220.50" y="33.08" class="k s">−0.5</text>
<line x1="216.50" y1="57.15" x2="218.30" y2="57.15" stroke="#6e6e6e" stroke-width="0.85"/>
<text x="220.50" y="58.73" class="k s">−1.0</text>
<line x1="216.50" y1="82.80" x2="218.30" y2="82.80" stroke="#6e6e6e" stroke-width="0.85"/>
<text x="220.50" y="84.38" class="k s">−1.5</text>
<line x1="216.50" y1="108.45" x2="218.30" y2="108.45" stroke="#6e6e6e" stroke-width="0.85"/>
<text x="220.50" y="110.03" class="k s">−2.0</text>
<line x1="216.50" y1="134.10" x2="218.30" y2="134.10" stroke="#6e6e6e" stroke-width="0.85"/>
<text x="220.50" y="135.68" class="k s">−2.5</text>
<line x1="216.50" y1="159.75" x2="218.30" y2="159.75" stroke="#6e6e6e" stroke-width="0.85"/>
<text x="220.50" y="161.33" class="k s">−3.0</text>
<text x="238.60" y="90.30" class="l" transform="rotate(-90 238.60 90.30)">Depth (m)</text>
<text x="233.70" y="165.80" class="b s">(A)</text>
<rect x="296.50" y="14.80" width="212.30" height="148.60" fill="none" stroke="#6e6e6e" stroke-width="0.85"/>
<line x1="314.50" y1="163.40" x2="314.50" y2="165.20" stroke="#6e6e6e" stroke-width="0.85"/>
<text x="314.50" y="171.10" class="k">−3.0</text>
<line x1="353.30" y1="163.40" x2="353.30" y2="165.20" stroke="#6e6e6e" stroke-width="0.85"/>
<text x="353.30" y="171.10" class="k">−2.5</text>
<line x1="392.10" y1="163.40" x2="392.10" y2="165.20" stroke="#6e6e6e" stroke-width="0.85"/>
<text x="392.10" y="171.10" class="k">−2.0</text>
<line x1="430.90" y1="163.40" x2="430.90" y2="165.20" stroke="#6e6e6e" stroke-width="0.85"/>
<text x="430.90" y="171.10" class="k">−1.5</text>
<line x1="469.70" y1="163.40" x2="469.70" y2="165.20" stroke="#6e6e6e" stroke-width="0.85"/>
<text x="469.70" y="171.10" class="k">−1.0</text>
<line x1="294.70" y1="17.50" x2="296.50" y2="17.50" stroke="#6e6e6e" stroke-width="0.85"/>
<text x="292.10" y="19.08" class="k e">−0.5</text>
<line x1="294.70" y1="43.70" x2="296.50" y2="43.70" stroke="#6e6e6e" stroke-width="0.85"/>
<text x="292.10" y="45.28" class="k e">−1.0</text>
<line x1="294.70" y1="69.90" x2="296.50" y2="69.90" stroke="#6e6e6e" stroke-width="0.85"/>
<text x="292.10" y="71.48" class="k e">−1.5</text>
<line x1="294.70" y1="96.10" x2="296.50" y2="96.10" stroke="#6e6e6e" stroke-width="0.85"/>
<text x="292.10" y="97.68" class="k e">−2.0</text>
<line x1="294.70" y1="122.30" x2="296.50" y2="122.30" stroke="#6e6e6e" stroke-width="0.85"/>
<text x="292.10" y="123.88" class="k e">−2.5</text>
<line x1="294.70" y1="148.50" x2="296.50" y2="148.50" stroke="#6e6e6e" stroke-width="0.85"/>
<text x="292.10" y="150.08" class="k e">−3.0</text>
<text x="402.65" y="11.60" class="h">Scatterplot of USV test points</text>
<text x="402.65" y="179.20" class="l">USV measurements (m)</text>
<text x="276.40" y="89.10" class="l" transform="rotate(-90 276.40 89.10)">CNN Estimations (m)</text>
<g id="ptsB" fill="#1f77b4"><circle cx="306.1" cy="146.9" r="1.0"/><circle cx="306.1" cy="150.9" r="1.0"/><circle cx="306.1" cy="156.8" r="1.0"/><circle cx="310.3" cy="150.9" r="1.0"/><circle cx="310.8" cy="153.9" r="1.0"/><circle cx="312.3" cy="148.0" r="1.0"/><circle cx="314.0" cy="150.6" r="1.0"/><circle cx="319.2" cy="141.5" r="1.0"/><circle cx="322.1" cy="137.6" r="1.0"/><circle cx="322.9" cy="138.8" r="1.0"/><circle cx="323.8" cy="138.3" r="1.0"/><circle cx="324.6" cy="139.1" r="1.0"/><circle cx="325.4" cy="138.5" r="1.0"/><circle cx="326.3" cy="137.9" r="1.0"/><circle cx="327.1" cy="138.8" r="1.0"/><circle cx="323.8" cy="140.0" r="1.0"/><circle cx="324.9" cy="140.5" r="1.0"/><circle cx="325.9" cy="139.6" r="1.0"/><circle cx="328.0" cy="138.3" r="1.0"/><circle cx="330.2" cy="140.5" r="1.0"/><circle cx="330.2" cy="147.7" r="1.0"/><circle cx="331.7" cy="144.7" r="1.0"/><circle cx="331.7" cy="133.4" r="1.0"/><circle cx="332.5" cy="134.6" r="1.0"/><circle cx="335.5" cy="143.8" r="1.0"/><circle cx="336.4" cy="143.2" r="1.0"/><circle cx="336.9" cy="131.7" r="1.0"/><circle cx="338.9" cy="132.4" r="1.0"/><circle cx="340.2" cy="141.0" r="1.0"/><circle cx="340.2" cy="126.0" r="1.0"/><circle cx="343.6" cy="126.7" r="1.0"/><circle cx="345.3" cy="127.0" r="1.0"/><circle cx="347.8" cy="128.4" r="1.0"/><circle cx="349.0" cy="141.0" r="1.0"/><circle cx="353.2" cy="127.9" r="1.0"/><circle cx="354.0" cy="125.0" r="1.0"/><circle cx="355.7" cy="132.1" r="1.0"/><circle cx="360.4" cy="131.7" r="1.0"/><circle cx="360.4" cy="117.8" r="1.0"/><circle cx="362.8" cy="111.5" r="1.0"/><circle cx="363.6" cy="112.4" r="1.0"/><circle cx="364.1" cy="113.6" r="1.0"/><circle cx="363.3" cy="115.2" r="1.0"/><circle cx="364.5" cy="111.5" r="1.0"/><circle cx="369.5" cy="111.0" r="1.0"/><circle cx="377.6" cy="128.7" r="1.0"/><circle cx="378.9" cy="107.7" r="1.0"/><circle cx="380.1" cy="106.0" r="1.0"/><circle cx="385.7" cy="97.6" r="1.0"/><circle cx="385.3" cy="97.1" r="1.0"/><circle cx="387.3" cy="98.1" r="1.0"/><circle cx="389.2" cy="100.5" r="1.0"/><circle cx="390.2" cy="97.1" r="1.0"/><circle cx="394.6" cy="95.7" r="1.0"/><circle cx="414.0" cy="84.7" r="1.0"/><circle cx="418.9" cy="82.6" r="1.0"/><circle cx="421.8" cy="75.8" r="1.0"/><circle cx="431.8" cy="69.7" r="1.0"/><circle cx="433.9" cy="67.2" r="1.0"/><circle cx="436.4" cy="66.0" r="1.0"/><circle cx="438.3" cy="67.2" r="1.0"/><circle cx="440.8" cy="64.3" r="1.0"/><circle cx="442.7" cy="62.4" r="1.0"/><circle cx="444.4" cy="60.0" r="1.0"/><circle cx="445.6" cy="58.7" r="1.0"/><circle cx="446.8" cy="58.3" r="1.0"/><circle cx="448.0" cy="59.5" r="1.0"/><circle cx="448.8" cy="61.2" r="1.0"/><circle cx="450.5" cy="59.5" r="1.0"/><circle cx="455.3" cy="54.4" r="1.0"/><circle cx="457.3" cy="52.7" r="1.0"/><circle cx="458.3" cy="51.5" r="1.0"/><circle cx="459.7" cy="52.7" r="1.0"/><circle cx="460.9" cy="51.9" r="1.0"/><circle cx="462.1" cy="53.4" r="1.0"/><circle cx="463.1" cy="52.7" r="1.0"/><circle cx="464.6" cy="48.5" r="1.0"/><circle cx="465.1" cy="46.6" r="1.0"/><circle cx="466.3" cy="49.8" r="1.0"/><circle cx="467.5" cy="47.8" r="1.0"/><circle cx="468.7" cy="44.2" r="1.0"/><circle cx="468.9" cy="40.5" r="1.0"/><circle cx="468.9" cy="42.2" r="1.0"/><circle cx="469.9" cy="46.1" r="1.0"/><circle cx="471.1" cy="43.7" r="1.0"/><circle cx="476.0" cy="36.1" r="1.0"/><circle cx="481.6" cy="30.1" r="1.0"/><circle cx="482.1" cy="31.5" r="1.0"/><circle cx="483.3" cy="29.1" r="1.0"/><circle cx="484.5" cy="27.2" r="1.0"/><circle cx="485.7" cy="28.4" r="1.0"/><circle cx="486.9" cy="25.9" r="1.0"/><circle cx="494.2" cy="24.7" r="1.0"/><circle cx="495.4" cy="21.1" r="1.0"/><circle cx="498.6" cy="22.3" r="1.0"/></g>
<line x1="305.40" y1="155.60" x2="497.90" y2="24.50" stroke="#ff7f0e" stroke-width="1.1" stroke-linecap="round"/>
<text x="507.50" y="165.60" class="b s">(B)</text>
<g id="mapC"><clipPath id="axC"><rect x="25.7" y="217.3" width="171.4" height="119.0"/></clipPath>
<clipPath id="dpC"><polygon points="27.0,277.7 47.2,254.4 60.7,242.6 89.3,230.8 120.6,218.2 141.6,239.2 163.5,262.8 175.3,276.2 193.8,296.3 195.7,299.2 193.8,302.3 163.5,335.4 163.0,336.3 125.0,336.3 121.5,335.6 117.6,331.6 113.7,326.4 110.4,318.6 109.7,312.0 107.8,306.8 105.2,304.8 103.8,306.8 101.9,312.0 99.3,314.4 95.3,313.3 91.4,309.4 88.1,304.8 85.5,302.9 82.9,304.2 80.5,308.0 77.7,310.0 75.8,310.2 64.0,305.1 43.9,292.5"/></clipPath>
<g clip-path="url(#axC)">
<rect x="25.7" y="217.3" width="171.4" height="119.0" fill="#15211f"/>
<polygon points="138.0,228.0 150.0,226.0 160.0,238.0 166.0,252.0 172.0,268.0 166.0,268.0 150.0,250.0" fill="#3a2b29" filter="url(#blurC)" opacity="0.85"/>
<polygon points="175,230 197.1,232 197.1,300 185,285" fill="#17302c" filter="url(#blurC)"/>
<polygon points="165,336.3 197.1,300 197.1,336.3" fill="#16312d"/>
<polygon points="25.7,277.0 27.0,277.7 43.9,292.5 64.0,305.1 75.8,310.2 70.0,314.0 65.7,319.4 60.0,323.0 55.6,327.8 50.0,330.0 47.0,333.5 41.3,335.4 41.0,336.3 25.7,336.3" fill="#2d2928"/>
<polygon points="25.7,277.0 27.0,277.7 43.9,292.5 64.0,305.1 75.8,310.2 70.0,314.0 65.7,319.4 60.0,323.0 55.6,327.8 50.0,330.0 47.0,333.5 41.3,335.4 41.0,336.3 25.7,336.3" fill="#c47a78" filter="url(#texC1)"/>
<polygon points="38,300 64,305.1 75.8,310.2 65.7,319.4 55.6,327.8 41.3,335.4 36,336.3 34,318" fill="#c47a78" filter="url(#texC2)"/>
<polygon points="25.7,277 27,277.7 36,286 32,336.3 25.7,336.3" fill="#121b1a" opacity="0.8" filter="url(#blurC)"/>
<polygon points="79,310.8 81,308.8 82.8,309.6 82,312 79.8,312.3" fill="#0c1414"/>
<polygon points="41.0,336.4 41.3,335.4 47.0,333.5 50.0,330.0 55.6,327.8 60.0,323.0 65.7,319.4 70.0,314.0 75.8,310.2 77.7,310.0 80.5,308.0 82.9,304.2 85.5,302.9 88.1,304.8 91.4,309.4 95.3,313.3 99.3,314.4 101.9,312.0 103.8,306.8 105.2,304.8 107.8,306.8 109.7,312.0 110.4,318.6 113.7,326.4 117.6,331.6 121.5,335.6 125.0,336.3 125.0,336.4" fill="#fff"/>
<polygon points="167.7,217.3 197.1,217.3 197.1,229.4" fill="#fff"/>
<g clip-path="url(#dpC)" filter="url(#blurA)">
<path fill="#471b6d" d="M112 219h3.3v3.3h-3.3zM109 222h6.3v3.3h-6.3zM109 225h6.3v3.3h-6.3zM109 228h6.3v3.3h-6.3zM109 231h3.3v3.3h-3.3z"/>
<path fill="#482475" d="M118 216h3.3v3.3h-3.3zM109 219h3.3v3.3h-3.3zM115 219h9.3v3.3h-9.3zM106 222h3.3v3.3h-3.3zM115 222h9.3v3.3h-9.3zM106 225h3.3v3.3h-3.3zM115 225h6.3v3.3h-6.3zM100 228h9.3v3.3h-9.3zM115 228h3.3v3.3h-3.3zM97 231h12.3v3.3h-12.3zM112 231h3.3v3.3h-3.3z"/>
<path fill="#462c7a" d="M124 222h3.3v3.3h-3.3zM103 225h3.3v3.3h-3.3zM121 225h6.3v3.3h-6.3zM94 228h6.3v3.3h-6.3zM118 228h6.3v3.3h-6.3zM91 231h6.3v3.3h-6.3zM115 231h3.3v3.3h-3.3zM103 234h12.3v3.3h-12.3z"/>
<path fill="#44347e" d="M103 222h3.3v3.3h-3.3zM97 225h6.3v3.3h-6.3zM127 225h3.3v3.3h-3.3zM91 228h3.3v3.3h-3.3zM124 228h6.3v3.3h-6.3zM118 231h9.3v3.3h-9.3zM97 234h6.3v3.3h-6.3zM115 234h6.3v3.3h-6.3z"/>
<path fill="#433c82" d="M94 225h3.3v3.3h-3.3zM130 228h3.3v3.3h-3.3zM127 231h3.3v3.3h-3.3zM91 234h6.3v3.3h-6.3zM121 234h6.3v3.3h-6.3zM100 237h21.3v3.3h-21.3z"/>
<path fill="#414487" d="M88 231h3.3v3.3h-3.3zM130 231h3.3v3.3h-3.3zM121 237h3.3v3.3h-3.3zM118 240h3.3v3.3h-3.3z"/>
<path fill="#3e4b88" d="M88 228h3.3v3.3h-3.3zM88 234h3.3v3.3h-3.3zM127 234h3.3v3.3h-3.3zM97 237h3.3v3.3h-3.3zM124 237h3.3v3.3h-3.3zM100 240h18.3v3.3h-18.3zM121 240h3.3v3.3h-3.3zM118 243h3.3v3.3h-3.3z"/>
<path fill="#3b528a" d="M91 237h6.3v3.3h-6.3zM97 240h3.3v3.3h-3.3zM124 240h3.3v3.3h-3.3zM97 243h15.3v3.3h-15.3zM115 243h3.3v3.3h-3.3zM121 243h3.3v3.3h-3.3zM100 246h9.3v3.3h-9.3zM115 246h9.3v3.3h-9.3zM103 249h9.3v3.3h-9.3zM118 249h6.3v3.3h-6.3zM106 252h6.3v3.3h-6.3zM106 255h9.3v3.3h-9.3zM112 258h6.3v3.3h-6.3z"/>
<path fill="#38588c" d="M85 231h3.3v3.3h-3.3zM133 231h3.3v3.3h-3.3zM85 234h3.3v3.3h-3.3zM130 234h3.3v3.3h-3.3zM88 237h3.3v3.3h-3.3zM127 237h3.3v3.3h-3.3zM94 240h3.3v3.3h-3.3zM112 243h3.3v3.3h-3.3zM124 243h3.3v3.3h-3.3zM97 246h3.3v3.3h-3.3zM109 246h6.3v3.3h-6.3zM124 246h3.3v3.3h-3.3zM100 249h3.3v3.3h-3.3zM112 249h6.3v3.3h-6.3zM100 252h6.3v3.3h-6.3zM112 252h12.3v3.3h-12.3zM97 255h9.3v3.3h-9.3zM115 255h6.3v3.3h-6.3zM97 258h15.3v3.3h-15.3zM118 258h3.3v3.3h-3.3zM112 261h9.3v3.3h-9.3z"/>
<path fill="#355f8d" d="M85 237h3.3v3.3h-3.3zM91 240h3.3v3.3h-3.3zM94 243h3.3v3.3h-3.3zM94 246h3.3v3.3h-3.3zM97 249h3.3v3.3h-3.3zM124 249h3.3v3.3h-3.3zM94 252h6.3v3.3h-6.3zM124 252h3.3v3.3h-3.3zM94 255h3.3v3.3h-3.3zM121 255h3.3v3.3h-3.3zM94 258h3.3v3.3h-3.3zM109 261h3.3v3.3h-3.3zM112 264h9.3v3.3h-9.3z"/>
<path fill="#32658d" d="M88 240h3.3v3.3h-3.3zM127 240h3.3v3.3h-3.3zM91 243h3.3v3.3h-3.3zM94 249h3.3v3.3h-3.3zM91 255h3.3v3.3h-3.3zM124 255h3.3v3.3h-3.3zM121 258h3.3v3.3h-3.3zM97 261h12.3v3.3h-12.3zM121 261h3.3v3.3h-3.3zM109 264h3.3v3.3h-3.3zM121 264h3.3v3.3h-3.3zM118 267h3.3v3.3h-3.3z"/>
<path fill="#306c8e" d="M82 231h3.3v3.3h-3.3zM82 234h3.3v3.3h-3.3zM133 234h3.3v3.3h-3.3zM82 237h3.3v3.3h-3.3zM130 237h3.3v3.3h-3.3zM82 240h6.3v3.3h-6.3zM88 243h3.3v3.3h-3.3zM127 243h3.3v3.3h-3.3zM91 246h3.3v3.3h-3.3zM91 249h3.3v3.3h-3.3zM91 252h3.3v3.3h-3.3zM127 252h3.3v3.3h-3.3zM127 255h3.3v3.3h-3.3zM91 258h3.3v3.3h-3.3zM124 258h3.3v3.3h-3.3zM94 261h3.3v3.3h-3.3zM124 261h3.3v3.3h-3.3zM106 264h3.3v3.3h-3.3zM112 267h6.3v3.3h-6.3zM121 267h3.3v3.3h-3.3z"/>
<path fill="#2d728e" d="M79 237h3.3v3.3h-3.3zM79 240h3.3v3.3h-3.3zM79 243h9.3v3.3h-9.3zM88 246h3.3v3.3h-3.3zM127 246h3.3v3.3h-3.3zM88 249h3.3v3.3h-3.3zM127 249h3.3v3.3h-3.3zM88 252h3.3v3.3h-3.3zM58 255h3.3v3.3h-3.3zM55 258h6.3v3.3h-6.3zM127 258h3.3v3.3h-3.3zM55 261h3.3v3.3h-3.3zM91 261h3.3v3.3h-3.3zM94 264h12.3v3.3h-12.3zM124 264h3.3v3.3h-3.3zM106 267h6.3v3.3h-6.3z"/>
<path fill="#2a788e" d="M79 234h3.3v3.3h-3.3zM76 240h3.3v3.3h-3.3zM130 240h3.3v3.3h-3.3zM76 243h3.3v3.3h-3.3zM76 246h12.3v3.3h-12.3zM58 252h6.3v3.3h-6.3zM55 255h3.3v3.3h-3.3zM61 255h3.3v3.3h-3.3zM88 255h3.3v3.3h-3.3zM130 255h3.3v3.3h-3.3zM52 258h3.3v3.3h-3.3zM61 258h3.3v3.3h-3.3zM88 258h3.3v3.3h-3.3zM52 261h3.3v3.3h-3.3zM58 261h3.3v3.3h-3.3zM127 261h3.3v3.3h-3.3zM52 264h6.3v3.3h-6.3zM100 267h6.3v3.3h-6.3zM124 267h3.3v3.3h-3.3zM106 270h18.3v3.3h-18.3z"/>
<path fill="#287e8e" d="M136 234h3.3v3.3h-3.3zM76 237h3.3v3.3h-3.3zM133 237h3.3v3.3h-3.3zM130 243h3.3v3.3h-3.3zM76 249h12.3v3.3h-12.3zM55 252h3.3v3.3h-3.3zM64 252h3.3v3.3h-3.3zM85 252h3.3v3.3h-3.3zM130 252h3.3v3.3h-3.3zM49 255h6.3v3.3h-6.3zM64 255h3.3v3.3h-3.3zM46 258h6.3v3.3h-6.3zM130 258h3.3v3.3h-3.3zM49 261h3.3v3.3h-3.3zM61 261h3.3v3.3h-3.3zM88 261h3.3v3.3h-3.3zM49 264h3.3v3.3h-3.3zM58 264h3.3v3.3h-3.3zM91 264h3.3v3.3h-3.3zM127 264h3.3v3.3h-3.3zM94 267h6.3v3.3h-6.3zM103 270h3.3v3.3h-3.3zM178 309h3.3v3.3h-3.3zM178 315h3.3v3.3h-3.3zM178 318h3.3v3.3h-3.3zM175 321h3.3v3.3h-3.3zM172 324h3.3v3.3h-3.3zM166 327h6.3v3.3h-6.3zM166 330h3.3v3.3h-3.3zM163 333h3.3v3.3h-3.3z"/>
<path fill="#26848d" d="M76 234h3.3v3.3h-3.3zM73 237h3.3v3.3h-3.3zM73 240h3.3v3.3h-3.3zM133 240h3.3v3.3h-3.3zM73 243h3.3v3.3h-3.3zM73 246h3.3v3.3h-3.3zM130 246h3.3v3.3h-3.3zM55 249h12.3v3.3h-12.3zM73 249h3.3v3.3h-3.3zM130 249h3.3v3.3h-3.3zM49 252h6.3v3.3h-6.3zM67 252h3.3v3.3h-3.3zM73 252h12.3v3.3h-12.3zM43 255h6.3v3.3h-6.3zM67 255h3.3v3.3h-3.3zM85 255h3.3v3.3h-3.3zM43 258h3.3v3.3h-3.3zM64 258h3.3v3.3h-3.3zM43 261h6.3v3.3h-6.3zM130 261h3.3v3.3h-3.3zM46 264h3.3v3.3h-3.3zM88 264h3.3v3.3h-3.3zM52 267h6.3v3.3h-6.3zM91 267h3.3v3.3h-3.3zM127 267h3.3v3.3h-3.3zM97 270h6.3v3.3h-6.3zM124 270h3.3v3.3h-3.3zM103 273h18.3v3.3h-18.3zM172 306h9.3v3.3h-9.3zM169 309h9.3v3.3h-9.3zM181 309h3.3v3.3h-3.3zM169 312h15.3v3.3h-15.3zM169 315h9.3v3.3h-9.3zM181 315h3.3v3.3h-3.3zM169 318h9.3v3.3h-9.3zM169 321h6.3v3.3h-6.3zM166 324h6.3v3.3h-6.3zM163 327h3.3v3.3h-3.3zM163 330h3.3v3.3h-3.3z"/>
<path fill="#238b8c" d="M73 234h3.3v3.3h-3.3zM70 237h3.3v3.3h-3.3zM136 237h3.3v3.3h-3.3zM70 240h3.3v3.3h-3.3zM70 246h3.3v3.3h-3.3zM49 249h6.3v3.3h-6.3zM67 249h6.3v3.3h-6.3zM46 252h3.3v3.3h-3.3zM70 252h3.3v3.3h-3.3zM70 255h15.3v3.3h-15.3zM133 255h3.3v3.3h-3.3zM85 258h3.3v3.3h-3.3zM133 258h3.3v3.3h-3.3zM64 261h3.3v3.3h-3.3zM43 264h3.3v3.3h-3.3zM61 264h3.3v3.3h-3.3zM49 267h3.3v3.3h-3.3zM58 267h3.3v3.3h-3.3zM94 270h3.3v3.3h-3.3zM100 273h3.3v3.3h-3.3zM121 273h3.3v3.3h-3.3zM109 276h3.3v3.3h-3.3zM172 303h12.3v3.3h-12.3zM169 306h3.3v3.3h-3.3zM181 306h3.3v3.3h-3.3zM166 309h3.3v3.3h-3.3zM184 309h3.3v3.3h-3.3zM166 312h3.3v3.3h-3.3zM184 312h3.3v3.3h-3.3zM166 315h3.3v3.3h-3.3zM166 318h3.3v3.3h-3.3zM166 321h3.3v3.3h-3.3zM163 324h3.3v3.3h-3.3zM160 330h3.3v3.3h-3.3zM160 333h3.3v3.3h-3.3zM160 336h3.3v3.3h-3.3z"/>
<path fill="#21918c" d="M139 237h3.3v3.3h-3.3zM136 240h3.3v3.3h-3.3zM67 243h6.3v3.3h-6.3zM133 243h3.3v3.3h-3.3zM52 246h18.3v3.3h-18.3zM133 252h3.3v3.3h-3.3zM40 258h3.3v3.3h-3.3zM67 258h3.3v3.3h-3.3zM82 258h3.3v3.3h-3.3zM40 261h3.3v3.3h-3.3zM85 261h3.3v3.3h-3.3zM133 261h3.3v3.3h-3.3zM130 264h3.3v3.3h-3.3zM43 267h6.3v3.3h-6.3zM88 267h3.3v3.3h-3.3zM49 270h9.3v3.3h-9.3zM91 270h3.3v3.3h-3.3zM127 270h3.3v3.3h-3.3zM97 273h3.3v3.3h-3.3zM124 273h3.3v3.3h-3.3zM106 276h3.3v3.3h-3.3zM112 276h3.3v3.3h-3.3zM178 279h3.3v3.3h-3.3zM178 282h6.3v3.3h-6.3zM181 285h6.3v3.3h-6.3zM187 288h3.3v3.3h-3.3zM166 294h6.3v3.3h-6.3zM166 297h12.3v3.3h-12.3zM166 300h18.3v3.3h-18.3zM187 300h3.3v3.3h-3.3zM166 303h6.3v3.3h-6.3zM184 303h9.3v3.3h-9.3zM166 306h3.3v3.3h-3.3zM184 306h6.3v3.3h-6.3zM187 309h3.3v3.3h-3.3zM163 312h3.3v3.3h-3.3zM163 315h3.3v3.3h-3.3zM163 318h3.3v3.3h-3.3zM163 321h3.3v3.3h-3.3zM160 327h3.3v3.3h-3.3zM157 336h3.3v3.3h-3.3z"/>
<path fill="#21978a" d="M67 237h3.3v3.3h-3.3zM64 240h6.3v3.3h-6.3zM139 240h6.3v3.3h-6.3zM64 243h3.3v3.3h-3.3zM136 243h3.3v3.3h-3.3zM133 246h3.3v3.3h-3.3zM133 249h3.3v3.3h-3.3zM70 258h12.3v3.3h-12.3zM67 261h3.3v3.3h-3.3zM82 261h3.3v3.3h-3.3zM40 264h3.3v3.3h-3.3zM64 264h3.3v3.3h-3.3zM85 264h3.3v3.3h-3.3zM61 267h3.3v3.3h-3.3zM130 267h3.3v3.3h-3.3zM46 270h3.3v3.3h-3.3zM163 270h9.3v3.3h-9.3zM94 273h3.3v3.3h-3.3zM163 273h9.3v3.3h-9.3zM103 276h3.3v3.3h-3.3zM115 276h6.3v3.3h-6.3zM163 276h9.3v3.3h-9.3zM175 282h3.3v3.3h-3.3zM172 285h9.3v3.3h-9.3zM169 288h18.3v3.3h-18.3zM163 291h30.3v3.3h-30.3zM163 294h3.3v3.3h-3.3zM172 294h24.3v3.3h-24.3zM163 297h3.3v3.3h-3.3zM178 297h18.3v3.3h-18.3zM163 300h3.3v3.3h-3.3zM184 300h3.3v3.3h-3.3zM190 300h6.3v3.3h-6.3zM163 303h3.3v3.3h-3.3zM163 306h3.3v3.3h-3.3zM163 309h3.3v3.3h-3.3zM160 312h3.3v3.3h-3.3zM160 315h3.3v3.3h-3.3zM160 318h3.3v3.3h-3.3zM160 321h3.3v3.3h-3.3zM160 324h3.3v3.3h-3.3zM157 330h3.3v3.3h-3.3zM157 333h3.3v3.3h-3.3zM154 336h3.3v3.3h-3.3z"/>
<path fill="#229c88" d="M61 240h3.3v3.3h-3.3zM55 243h9.3v3.3h-9.3zM139 243h9.3v3.3h-9.3zM136 246h3.3v3.3h-3.3zM136 252h3.3v3.3h-3.3zM136 255h3.3v3.3h-3.3zM136 258h3.3v3.3h-3.3zM160 258h3.3v3.3h-3.3zM37 261h3.3v3.3h-3.3zM79 261h3.3v3.3h-3.3zM136 261h3.3v3.3h-3.3zM163 261h3.3v3.3h-3.3zM37 264h3.3v3.3h-3.3zM133 264h3.3v3.3h-3.3zM166 264h3.3v3.3h-3.3zM40 267h3.3v3.3h-3.3zM85 267h3.3v3.3h-3.3zM163 267h9.3v3.3h-9.3zM43 270h3.3v3.3h-3.3zM58 270h3.3v3.3h-3.3zM88 270h3.3v3.3h-3.3zM130 270h3.3v3.3h-3.3zM49 273h6.3v3.3h-6.3zM91 273h3.3v3.3h-3.3zM127 273h3.3v3.3h-3.3zM160 273h3.3v3.3h-3.3zM172 273h3.3v3.3h-3.3zM94 276h9.3v3.3h-9.3zM121 276h3.3v3.3h-3.3zM172 276h6.3v3.3h-6.3zM106 279h6.3v3.3h-6.3zM163 279h15.3v3.3h-15.3zM166 282h9.3v3.3h-9.3zM166 285h6.3v3.3h-6.3zM163 288h6.3v3.3h-6.3zM160 291h3.3v3.3h-3.3zM160 294h3.3v3.3h-3.3zM160 297h3.3v3.3h-3.3zM157 300h6.3v3.3h-6.3zM160 303h3.3v3.3h-3.3zM160 306h3.3v3.3h-3.3zM157 309h6.3v3.3h-6.3zM157 312h3.3v3.3h-3.3zM157 324h3.3v3.3h-3.3zM157 327h3.3v3.3h-3.3zM154 330h3.3v3.3h-3.3zM151 333h6.3v3.3h-6.3zM151 336h3.3v3.3h-3.3z"/>
<path fill="#22a286" d="M58 240h3.3v3.3h-3.3zM139 246h12.3v3.3h-12.3zM136 249h6.3v3.3h-6.3zM139 255h3.3v3.3h-3.3zM157 255h3.3v3.3h-3.3zM139 258h3.3v3.3h-3.3zM157 258h3.3v3.3h-3.3zM70 261h9.3v3.3h-9.3zM139 261h3.3v3.3h-3.3zM157 261h6.3v3.3h-6.3zM34 264h3.3v3.3h-3.3zM67 264h3.3v3.3h-3.3zM82 264h3.3v3.3h-3.3zM136 264h3.3v3.3h-3.3zM163 264h3.3v3.3h-3.3zM37 267h3.3v3.3h-3.3zM64 267h3.3v3.3h-3.3zM133 267h6.3v3.3h-6.3zM160 267h3.3v3.3h-3.3zM37 270h6.3v3.3h-6.3zM61 270h3.3v3.3h-3.3zM133 270h6.3v3.3h-6.3zM160 270h3.3v3.3h-3.3zM28 273h3.3v3.3h-3.3zM37 273h12.3v3.3h-12.3zM55 273h3.3v3.3h-3.3zM130 273h9.3v3.3h-9.3zM49 276h3.3v3.3h-3.3zM124 276h6.3v3.3h-6.3zM160 276h3.3v3.3h-3.3zM46 279h3.3v3.3h-3.3zM103 279h3.3v3.3h-3.3zM112 279h3.3v3.3h-3.3zM46 282h3.3v3.3h-3.3zM163 282h3.3v3.3h-3.3zM163 285h3.3v3.3h-3.3zM160 288h3.3v3.3h-3.3zM157 291h3.3v3.3h-3.3zM157 294h3.3v3.3h-3.3zM139 297h6.3v3.3h-6.3zM154 297h6.3v3.3h-6.3zM142 300h15.3v3.3h-15.3zM145 303h15.3v3.3h-15.3zM148 306h12.3v3.3h-12.3zM148 309h9.3v3.3h-9.3zM154 312h3.3v3.3h-3.3zM157 315h3.3v3.3h-3.3zM157 318h3.3v3.3h-3.3zM157 321h3.3v3.3h-3.3zM154 324h3.3v3.3h-3.3zM151 327h6.3v3.3h-6.3zM148 330h6.3v3.3h-6.3zM148 333h3.3v3.3h-3.3zM148 336h3.3v3.3h-3.3z"/>
<path fill="#22a884" d="M142 249h12.3v3.3h-12.3zM139 252h6.3v3.3h-6.3zM154 255h3.3v3.3h-3.3zM154 258h3.3v3.3h-3.3zM142 261h3.3v3.3h-3.3zM154 261h3.3v3.3h-3.3zM79 264h3.3v3.3h-3.3zM139 264h3.3v3.3h-3.3zM157 264h6.3v3.3h-6.3zM34 267h3.3v3.3h-3.3zM67 267h3.3v3.3h-3.3zM82 267h3.3v3.3h-3.3zM139 267h3.3v3.3h-3.3zM31 270h6.3v3.3h-6.3zM64 270h3.3v3.3h-3.3zM85 270h3.3v3.3h-3.3zM139 270h6.3v3.3h-6.3zM157 270h3.3v3.3h-3.3zM31 273h6.3v3.3h-6.3zM58 273h3.3v3.3h-3.3zM88 273h3.3v3.3h-3.3zM139 273h6.3v3.3h-6.3zM157 273h3.3v3.3h-3.3zM25 276h24.3v3.3h-24.3zM52 276h6.3v3.3h-6.3zM91 276h3.3v3.3h-3.3zM130 276h15.3v3.3h-15.3zM157 276h3.3v3.3h-3.3zM34 279h12.3v3.3h-12.3zM49 279h6.3v3.3h-6.3zM94 279h9.3v3.3h-9.3zM115 279h6.3v3.3h-6.3zM139 279h9.3v3.3h-9.3zM160 279h3.3v3.3h-3.3zM37 282h9.3v3.3h-9.3zM49 282h6.3v3.3h-6.3zM145 282h3.3v3.3h-3.3zM160 282h3.3v3.3h-3.3zM37 285h15.3v3.3h-15.3zM160 285h3.3v3.3h-3.3zM37 288h15.3v3.3h-15.3zM157 288h3.3v3.3h-3.3zM154 291h3.3v3.3h-3.3zM139 294h6.3v3.3h-6.3zM154 294h3.3v3.3h-3.3zM145 297h9.3v3.3h-9.3zM139 300h3.3v3.3h-3.3zM142 303h3.3v3.3h-3.3zM142 306h6.3v3.3h-6.3zM145 309h3.3v3.3h-3.3zM145 312h9.3v3.3h-9.3zM154 315h3.3v3.3h-3.3zM154 321h3.3v3.3h-3.3zM151 324h3.3v3.3h-3.3zM148 327h3.3v3.3h-3.3zM145 330h3.3v3.3h-3.3zM145 333h3.3v3.3h-3.3zM145 336h3.3v3.3h-3.3z"/>
<path fill="#2aae7f" d="M145 252h12.3v3.3h-12.3zM142 255h3.3v3.3h-3.3zM151 255h3.3v3.3h-3.3zM142 258h3.3v3.3h-3.3zM151 258h3.3v3.3h-3.3zM145 261h3.3v3.3h-3.3zM151 261h3.3v3.3h-3.3zM70 264h9.3v3.3h-9.3zM142 264h6.3v3.3h-6.3zM154 264h3.3v3.3h-3.3zM70 267h3.3v3.3h-3.3zM79 267h3.3v3.3h-3.3zM142 267h6.3v3.3h-6.3zM157 267h3.3v3.3h-3.3zM67 270h3.3v3.3h-3.3zM82 270h3.3v3.3h-3.3zM145 270h3.3v3.3h-3.3zM61 273h12.3v3.3h-12.3zM145 273h6.3v3.3h-6.3zM58 276h6.3v3.3h-6.3zM67 276h6.3v3.3h-6.3zM88 276h3.3v3.3h-3.3zM145 276h9.3v3.3h-9.3zM28 279h6.3v3.3h-6.3zM55 279h9.3v3.3h-9.3zM91 279h3.3v3.3h-3.3zM121 279h18.3v3.3h-18.3zM148 279h3.3v3.3h-3.3zM157 279h3.3v3.3h-3.3zM31 282h6.3v3.3h-6.3zM55 282h9.3v3.3h-9.3zM106 282h6.3v3.3h-6.3zM139 282h6.3v3.3h-6.3zM148 282h3.3v3.3h-3.3zM34 285h3.3v3.3h-3.3zM52 285h6.3v3.3h-6.3zM145 285h6.3v3.3h-6.3zM157 285h3.3v3.3h-3.3zM52 288h3.3v3.3h-3.3zM154 288h3.3v3.3h-3.3zM40 291h15.3v3.3h-15.3zM139 291h6.3v3.3h-6.3zM151 291h3.3v3.3h-3.3zM145 294h9.3v3.3h-9.3zM139 303h3.3v3.3h-3.3zM142 309h3.3v3.3h-3.3zM142 312h3.3v3.3h-3.3zM145 315h9.3v3.3h-9.3zM154 318h3.3v3.3h-3.3zM151 321h3.3v3.3h-3.3zM148 324h3.3v3.3h-3.3zM145 327h3.3v3.3h-3.3z"/>
<path fill="#33b47a" d="M145 255h6.3v3.3h-6.3zM145 258h6.3v3.3h-6.3zM148 261h3.3v3.3h-3.3zM148 264h6.3v3.3h-6.3zM73 267h6.3v3.3h-6.3zM148 267h9.3v3.3h-9.3zM70 270h12.3v3.3h-12.3zM148 270h9.3v3.3h-9.3zM73 273h6.3v3.3h-6.3zM85 273h3.3v3.3h-3.3zM151 273h6.3v3.3h-6.3zM64 276h3.3v3.3h-3.3zM73 276h3.3v3.3h-3.3zM154 276h3.3v3.3h-3.3zM64 279h9.3v3.3h-9.3zM88 279h3.3v3.3h-3.3zM151 279h6.3v3.3h-6.3zM64 282h3.3v3.3h-3.3zM94 282h12.3v3.3h-12.3zM112 282h3.3v3.3h-3.3zM133 282h6.3v3.3h-6.3zM151 282h9.3v3.3h-9.3zM58 285h6.3v3.3h-6.3zM139 285h6.3v3.3h-6.3zM151 285h6.3v3.3h-6.3zM55 288h3.3v3.3h-3.3zM139 288h15.3v3.3h-15.3zM55 291h3.3v3.3h-3.3zM136 291h3.3v3.3h-3.3zM145 291h6.3v3.3h-6.3zM46 294h15.3v3.3h-15.3zM136 294h3.3v3.3h-3.3zM52 297h3.3v3.3h-3.3zM136 297h3.3v3.3h-3.3zM136 300h3.3v3.3h-3.3zM139 306h3.3v3.3h-3.3zM142 315h3.3v3.3h-3.3zM145 318h9.3v3.3h-9.3zM145 321h6.3v3.3h-6.3zM145 324h3.3v3.3h-3.3zM142 333h3.3v3.3h-3.3zM142 336h3.3v3.3h-3.3z"/>
<path fill="#3cb975" d="M79 273h6.3v3.3h-6.3zM76 276h3.3v3.3h-3.3zM85 276h3.3v3.3h-3.3zM73 279h3.3v3.3h-3.3zM67 282h3.3v3.3h-3.3zM91 282h3.3v3.3h-3.3zM115 282h18.3v3.3h-18.3zM64 285h3.3v3.3h-3.3zM94 285h6.3v3.3h-6.3zM136 285h3.3v3.3h-3.3zM58 288h6.3v3.3h-6.3zM136 288h3.3v3.3h-3.3zM58 291h6.3v3.3h-6.3zM61 294h3.3v3.3h-3.3zM49 297h3.3v3.3h-3.3zM55 297h6.3v3.3h-6.3zM139 309h3.3v3.3h-3.3zM139 312h3.3v3.3h-3.3zM142 318h3.3v3.3h-3.3zM142 321h3.3v3.3h-3.3zM142 324h3.3v3.3h-3.3zM142 327h3.3v3.3h-3.3zM142 330h3.3v3.3h-3.3z"/>
<path fill="#44bf70" d="M79 276h6.3v3.3h-6.3zM76 279h3.3v3.3h-3.3zM85 279h3.3v3.3h-3.3zM70 282h3.3v3.3h-3.3zM88 282h3.3v3.3h-3.3zM67 285h3.3v3.3h-3.3zM91 285h3.3v3.3h-3.3zM100 285h9.3v3.3h-9.3zM127 285h9.3v3.3h-9.3zM64 288h6.3v3.3h-6.3zM97 288h3.3v3.3h-3.3zM133 288h3.3v3.3h-3.3zM64 291h9.3v3.3h-9.3zM133 291h3.3v3.3h-3.3zM64 294h6.3v3.3h-6.3zM133 294h3.3v3.3h-3.3zM61 297h3.3v3.3h-3.3zM55 300h3.3v3.3h-3.3zM136 303h3.3v3.3h-3.3zM139 315h3.3v3.3h-3.3zM139 318h3.3v3.3h-3.3z"/>
<path fill="#52c468" d="M79 279h6.3v3.3h-6.3zM73 282h3.3v3.3h-3.3zM85 282h3.3v3.3h-3.3zM70 285h3.3v3.3h-3.3zM88 285h3.3v3.3h-3.3zM109 285h9.3v3.3h-9.3zM121 285h6.3v3.3h-6.3zM70 288h3.3v3.3h-3.3zM94 288h3.3v3.3h-3.3zM100 288h3.3v3.3h-3.3zM127 288h6.3v3.3h-6.3zM73 291h3.3v3.3h-3.3zM97 291h3.3v3.3h-3.3zM70 294h3.3v3.3h-3.3zM64 297h6.3v3.3h-6.3zM133 297h3.3v3.3h-3.3zM58 300h12.3v3.3h-12.3zM136 306h3.3v3.3h-3.3zM139 321h3.3v3.3h-3.3zM139 324h3.3v3.3h-3.3zM139 333h3.3v3.3h-3.3zM139 336h3.3v3.3h-3.3z"/>
<path fill="#5fc860" d="M76 282h3.3v3.3h-3.3zM82 282h3.3v3.3h-3.3zM73 285h3.3v3.3h-3.3zM118 285h3.3v3.3h-3.3zM73 288h3.3v3.3h-3.3zM91 288h3.3v3.3h-3.3zM103 288h3.3v3.3h-3.3zM124 288h3.3v3.3h-3.3zM94 291h3.3v3.3h-3.3zM100 291h3.3v3.3h-3.3zM127 291h6.3v3.3h-6.3zM73 294h3.3v3.3h-3.3zM130 294h3.3v3.3h-3.3zM70 297h3.3v3.3h-3.3zM70 300h3.3v3.3h-3.3zM133 300h3.3v3.3h-3.3zM61 303h9.3v3.3h-9.3zM64 306h6.3v3.3h-6.3zM136 309h3.3v3.3h-3.3zM136 312h3.3v3.3h-3.3zM136 315h3.3v3.3h-3.3zM139 327h3.3v3.3h-3.3zM139 330h3.3v3.3h-3.3z"/>
<path fill="#6ccc59" d="M79 282h3.3v3.3h-3.3zM76 285h3.3v3.3h-3.3zM82 285h6.3v3.3h-6.3zM76 288h3.3v3.3h-3.3zM88 288h3.3v3.3h-3.3zM106 288h3.3v3.3h-3.3zM115 288h9.3v3.3h-9.3zM76 291h3.3v3.3h-3.3zM76 294h3.3v3.3h-3.3zM97 294h3.3v3.3h-3.3zM73 297h3.3v3.3h-3.3zM130 297h3.3v3.3h-3.3zM70 303h3.3v3.3h-3.3zM133 303h3.3v3.3h-3.3zM70 306h3.3v3.3h-3.3zM133 306h3.3v3.3h-3.3zM136 318h3.3v3.3h-3.3zM136 321h3.3v3.3h-3.3zM136 324h3.3v3.3h-3.3z"/>
<path fill="#7ad151" d="M79 285h3.3v3.3h-3.3zM79 288h9.3v3.3h-9.3zM109 288h6.3v3.3h-6.3zM79 291h3.3v3.3h-3.3zM88 291h6.3v3.3h-6.3zM103 291h3.3v3.3h-3.3zM121 291h6.3v3.3h-6.3zM94 294h3.3v3.3h-3.3zM100 294h3.3v3.3h-3.3zM127 294h3.3v3.3h-3.3zM76 297h3.3v3.3h-3.3zM73 300h3.3v3.3h-3.3zM130 300h3.3v3.3h-3.3zM73 303h3.3v3.3h-3.3zM73 306h3.3v3.3h-3.3zM73 309h3.3v3.3h-3.3zM133 309h3.3v3.3h-3.3zM133 312h3.3v3.3h-3.3zM136 327h3.3v3.3h-3.3zM136 336h3.3v3.3h-3.3z"/>
<path fill="#8bd446" d="M82 291h6.3v3.3h-6.3zM106 291h3.3v3.3h-3.3zM112 291h9.3v3.3h-9.3zM79 294h6.3v3.3h-6.3zM91 294h3.3v3.3h-3.3zM103 294h3.3v3.3h-3.3zM124 294h3.3v3.3h-3.3zM79 297h3.3v3.3h-3.3zM127 297h3.3v3.3h-3.3zM76 300h3.3v3.3h-3.3zM76 303h3.3v3.3h-3.3zM130 303h3.3v3.3h-3.3zM76 306h3.3v3.3h-3.3zM133 315h3.3v3.3h-3.3zM133 318h3.3v3.3h-3.3zM133 321h3.3v3.3h-3.3zM133 324h3.3v3.3h-3.3zM136 330h3.3v3.3h-3.3zM136 333h3.3v3.3h-3.3z"/>
<path fill="#9cd83c" d="M109 291h3.3v3.3h-3.3zM85 294h6.3v3.3h-6.3zM115 294h9.3v3.3h-9.3zM82 297h3.3v3.3h-3.3zM94 297h9.3v3.3h-9.3zM124 297h3.3v3.3h-3.3zM79 300h6.3v3.3h-6.3zM127 300h3.3v3.3h-3.3zM79 303h3.3v3.3h-3.3zM130 306h3.3v3.3h-3.3zM76 309h3.3v3.3h-3.3zM130 309h3.3v3.3h-3.3zM130 312h3.3v3.3h-3.3zM130 315h3.3v3.3h-3.3zM133 327h3.3v3.3h-3.3z"/>
<path fill="#acdc31" d="M106 294h9.3v3.3h-9.3zM85 297h9.3v3.3h-9.3zM103 297h3.3v3.3h-3.3zM115 297h9.3v3.3h-9.3zM85 300h3.3v3.3h-3.3zM124 300h3.3v3.3h-3.3zM82 303h3.3v3.3h-3.3zM127 303h3.3v3.3h-3.3zM79 306h3.3v3.3h-3.3zM127 306h3.3v3.3h-3.3zM127 309h3.3v3.3h-3.3zM127 312h3.3v3.3h-3.3zM130 318h3.3v3.3h-3.3zM130 321h3.3v3.3h-3.3zM130 324h3.3v3.3h-3.3zM133 330h3.3v3.3h-3.3zM133 333h3.3v3.3h-3.3zM133 336h3.3v3.3h-3.3z"/>
<path fill="#bddf26" d="M106 297h9.3v3.3h-9.3zM97 300h6.3v3.3h-6.3zM115 300h9.3v3.3h-9.3zM85 303h3.3v3.3h-3.3zM118 303h9.3v3.3h-9.3zM124 306h3.3v3.3h-3.3zM124 309h3.3v3.3h-3.3zM124 312h3.3v3.3h-3.3zM124 315h6.3v3.3h-6.3zM127 318h3.3v3.3h-3.3zM130 327h3.3v3.3h-3.3zM130 330h3.3v3.3h-3.3zM130 333h3.3v3.3h-3.3zM124 336h9.3v3.3h-9.3z"/>
<path fill="#cde126" d="M88 300h9.3v3.3h-9.3zM103 300h12.3v3.3h-12.3zM88 303h3.3v3.3h-3.3zM97 303h3.3v3.3h-3.3zM112 303h6.3v3.3h-6.3zM112 306h12.3v3.3h-12.3zM115 309h9.3v3.3h-9.3zM118 312h6.3v3.3h-6.3zM121 315h3.3v3.3h-3.3zM127 321h3.3v3.3h-3.3zM127 324h3.3v3.3h-3.3zM127 327h3.3v3.3h-3.3zM127 330h3.3v3.3h-3.3zM124 333h6.3v3.3h-6.3zM121 336h3.3v3.3h-3.3z"/>
<path fill="#dde326" d="M91 303h6.3v3.3h-6.3zM100 303h12.3v3.3h-12.3zM88 306h3.3v3.3h-3.3zM94 306h9.3v3.3h-9.3zM109 306h3.3v3.3h-3.3zM91 309h12.3v3.3h-12.3zM109 309h6.3v3.3h-6.3zM94 312h9.3v3.3h-9.3zM112 312h6.3v3.3h-6.3zM115 315h6.3v3.3h-6.3zM118 318h9.3v3.3h-9.3zM124 321h3.3v3.3h-3.3zM124 324h3.3v3.3h-3.3zM124 327h3.3v3.3h-3.3zM121 330h6.3v3.3h-6.3zM121 333h3.3v3.3h-3.3z"/>
<path fill="#ede525" d="M91 306h3.3v3.3h-3.3zM103 306h6.3v3.3h-6.3zM106 309h3.3v3.3h-3.3zM109 312h3.3v3.3h-3.3zM109 315h6.3v3.3h-6.3zM112 318h6.3v3.3h-6.3zM115 321h9.3v3.3h-9.3zM118 324h6.3v3.3h-6.3zM115 327h9.3v3.3h-9.3zM115 330h6.3v3.3h-6.3zM118 333h3.3v3.3h-3.3z"/>
<path fill="#fde725" d="M109 318h3.3v3.3h-3.3zM109 321h6.3v3.3h-6.3zM112 324h6.3v3.3h-6.3zM112 327h3.3v3.3h-3.3z"/>
</g>
<polyline points="110.8,318.6 114.1,326.4 118,331.6 121.9,335.6 125,336.3" fill="none" stroke="#6a5c50" stroke-width="1"/>
<g fill="#55407f"><circle cx="148.1" cy="255.2" r="1.0"/><circle cx="153.4" cy="259.5" r="1.2"/><circle cx="152.5" cy="255.2" r="0.5"/><circle cx="149.6" cy="257.9" r="0.9"/><circle cx="144.4" cy="251.1" r="0.7"/><circle cx="153.0" cy="254.1" r="1.3"/><circle cx="151.3" cy="252.3" r="0.8"/><circle cx="148.3" cy="249.3" r="1.1"/><circle cx="148.3" cy="263.0" r="1.0"/><circle cx="147.1" cy="252.5" r="0.6"/><circle cx="150.0" cy="249.4" r="1.1"/><circle cx="145.4" cy="246.3" r="0.6"/><circle cx="143.4" cy="249.7" r="1.0"/><circle cx="155.2" cy="260.2" r="1.0"/><circle cx="158.1" cy="259.4" r="0.9"/><circle cx="158.7" cy="263.6" r="0.8"/><circle cx="158.4" cy="262.6" r="1.0"/><circle cx="156.3" cy="262.8" r="1.1"/><circle cx="156.6" cy="264.5" r="1.1"/><circle cx="159.2" cy="263.8" r="0.6"/><circle cx="154.2" cy="265.9" r="0.7"/><circle cx="116.0" cy="286.7" r="0.7"/><circle cx="112.9" cy="290.3" r="0.9"/><circle cx="115.7" cy="286.0" r="0.8"/><circle cx="115.0" cy="290.4" r="1.0"/><circle cx="108.4" cy="289.8" r="1.1"/><circle cx="121.5" cy="283.6" r="0.6"/><circle cx="118.4" cy="287.0" r="0.9"/><circle cx="120.2" cy="283.8" r="1.2"/><circle cx="120.8" cy="285.4" r="1.0"/><circle cx="118.4" cy="286.8" r="0.6"/><circle cx="115.5" cy="287.4" r="1.1"/><circle cx="118.9" cy="287.6" r="0.7"/><circle cx="112.7" cy="285.6" r="0.8"/><circle cx="118.3" cy="289.9" r="0.6"/><circle cx="106.4" cy="291.8" r="1.2"/><circle cx="110.5" cy="293.2" r="0.8"/><circle cx="111.7" cy="289.8" r="0.6"/><circle cx="107.5" cy="294.0" r="0.8"/><circle cx="110.4" cy="296.0" r="1.2"/><circle cx="111.3" cy="291.8" r="1.1"/><circle cx="111.0" cy="290.6" r="1.2"/><circle cx="111.1" cy="295.2" r="1.0"/><circle cx="110.7" cy="296.3" r="1.2"/><circle cx="106.9" cy="293.5" r="0.7"/><circle cx="121.2" cy="285.1" r="0.6"/><circle cx="124.2" cy="285.5" r="0.8"/><circle cx="122.4" cy="285.2" r="1.3"/><circle cx="117.2" cy="281.6" r="1.3"/><circle cx="120.0" cy="284.6" r="1.0"/><circle cx="121.3" cy="286.4" r="0.8"/><circle cx="82.7" cy="298.7" r="1.2"/><circle cx="82.8" cy="300.2" r="0.7"/><circle cx="82.3" cy="300.5" r="1.1"/></g>
</g></g>
<rect x="25.70" y="217.30" width="171.40" height="119.00" fill="none" stroke="#6e6e6e" stroke-width="0.85"/>
<line x1="25.55" y1="336.30" x2="25.55" y2="338.10" stroke="#6e6e6e" stroke-width="0.85"/>
<text x="25.55" y="344.30" class="k">0</text>
<line x1="41.79" y1="336.30" x2="41.79" y2="338.10" stroke="#6e6e6e" stroke-width="0.85"/>
<text x="41.79" y="344.30" class="k">48</text>
<line x1="58.03" y1="336.30" x2="58.03" y2="338.10" stroke="#6e6e6e" stroke-width="0.85"/>
<text x="58.03" y="344.30" class="k">96</text>
<line x1="74.27" y1="336.30" x2="74.27" y2="338.10" stroke="#6e6e6e" stroke-width="0.85"/>
<text x="74.27" y="344.30" class="k">144</text>
<line x1="90.51" y1="336.30" x2="90.51" y2="338.10" stroke="#6e6e6e" stroke-width="0.85"/>
<text x="90.51" y="344.30" class="k">192</text>
<line x1="106.75" y1="336.30" x2="106.75" y2="338.10" stroke="#6e6e6e" stroke-width="0.85"/>
<text x="106.75" y="344.30" class="k">240</text>
<line x1="122.99" y1="336.30" x2="122.99" y2="338.10" stroke="#6e6e6e" stroke-width="0.85"/>
<text x="122.99" y="344.30" class="k">288</text>
<line x1="139.23" y1="336.30" x2="139.23" y2="338.10" stroke="#6e6e6e" stroke-width="0.85"/>
<text x="139.23" y="344.30" class="k">336</text>
<line x1="155.47" y1="336.30" x2="155.47" y2="338.10" stroke="#6e6e6e" stroke-width="0.85"/>
<text x="155.47" y="344.30" class="k">384</text>
<line x1="171.71" y1="336.30" x2="171.71" y2="338.10" stroke="#6e6e6e" stroke-width="0.85"/>
<text x="171.71" y="344.30" class="k">432</text>
<line x1="187.95" y1="336.30" x2="187.95" y2="338.10" stroke="#6e6e6e" stroke-width="0.85"/>
<text x="187.95" y="344.30" class="k">480</text>
<line x1="23.90" y1="336.30" x2="25.70" y2="336.30" stroke="#6e6e6e" stroke-width="0.85"/>
<text x="21.60" y="337.88" class="k e">0</text>
<line x1="23.90" y1="320.15" x2="25.70" y2="320.15" stroke="#6e6e6e" stroke-width="0.85"/>
<text x="21.60" y="321.73" class="k e">48</text>
<line x1="23.90" y1="304.00" x2="25.70" y2="304.00" stroke="#6e6e6e" stroke-width="0.85"/>
<text x="21.60" y="305.58" class="k e">96</text>
<line x1="23.90" y1="287.85" x2="25.70" y2="287.85" stroke="#6e6e6e" stroke-width="0.85"/>
<text x="21.60" y="289.43" class="k e">144</text>
<line x1="23.90" y1="271.70" x2="25.70" y2="271.70" stroke="#6e6e6e" stroke-width="0.85"/>
<text x="21.60" y="273.28" class="k e">192</text>
<line x1="23.90" y1="255.55" x2="25.70" y2="255.55" stroke="#6e6e6e" stroke-width="0.85"/>
<text x="21.60" y="257.13" class="k e">240</text>
<line x1="23.90" y1="239.40" x2="25.70" y2="239.40" stroke="#6e6e6e" stroke-width="0.85"/>
<text x="21.60" y="240.98" class="k e">288</text>
<line x1="23.90" y1="223.25" x2="25.70" y2="223.25" stroke="#6e6e6e" stroke-width="0.85"/>
<text x="21.60" y="224.83" class="k e">336</text>
<text x="111.40" y="213.60" class="h">CNN Estimation</text>
<text x="111.40" y="352.00" class="l">Local X (m)</text>
<text x="8.45" y="276.80" class="l" transform="rotate(-90 8.45 276.80)">Local Y (m)</text>
<rect x="207.70" y="189.80" width="8.80" height="173.50" fill="url(#vir)" stroke="#333" stroke-width="0.4"/>
<line x1="216.50" y1="210.20" x2="218.30" y2="210.20" stroke="#6e6e6e" stroke-width="0.85"/>
<text x="220.50" y="211.78" class="k s">−1</text>
<line x1="216.50" y1="230.25" x2="218.30" y2="230.25" stroke="#6e6e6e" stroke-width="0.85"/>
<text x="220.50" y="231.83" class="k s">−2</text>
<line x1="216.50" y1="250.30" x2="218.30" y2="250.30" stroke="#6e6e6e" stroke-width="0.85"/>
<text x="220.50" y="251.88" class="k s">−3</text>
<line x1="216.50" y1="270.35" x2="218.30" y2="270.35" stroke="#6e6e6e" stroke-width="0.85"/>
<text x="220.50" y="271.93" class="k s">−4</text>
<line x1="216.50" y1="290.40" x2="218.30" y2="290.40" stroke="#6e6e6e" stroke-width="0.85"/>
<text x="220.50" y="291.98" class="k s">−5</text>
<line x1="216.50" y1="310.45" x2="218.30" y2="310.45" stroke="#6e6e6e" stroke-width="0.85"/>
<text x="220.50" y="312.03" class="k s">−6</text>
<line x1="216.50" y1="330.50" x2="218.30" y2="330.50" stroke="#6e6e6e" stroke-width="0.85"/>
<text x="220.50" y="332.08" class="k s">−7</text>
<line x1="216.50" y1="350.55" x2="218.30" y2="350.55" stroke="#6e6e6e" stroke-width="0.85"/>
<text x="220.50" y="352.13" class="k s">−8</text>
<text x="234.20" y="277.20" class="l" transform="rotate(-90 234.20 277.20)">Depth (m)</text>
<text x="231.90" y="359.30" class="b s">(C)</text>
<rect x="295.30" y="198.30" width="216.50" height="148.70" fill="none" stroke="#6e6e6e" stroke-width="0.85"/>
<line x1="318.20" y1="347.00" x2="318.20" y2="348.80" stroke="#6e6e6e" stroke-width="0.85"/>
<text x="318.20" y="355.70" class="k">−8</text>
<line x1="344.37" y1="347.00" x2="344.37" y2="348.80" stroke="#6e6e6e" stroke-width="0.85"/>
<text x="344.37" y="355.70" class="k">−7</text>
<line x1="370.54" y1="347.00" x2="370.54" y2="348.80" stroke="#6e6e6e" stroke-width="0.85"/>
<text x="370.54" y="355.70" class="k">−6</text>
<line x1="396.71" y1="347.00" x2="396.71" y2="348.80" stroke="#6e6e6e" stroke-width="0.85"/>
<text x="396.71" y="355.70" class="k">−5</text>
<line x1="422.88" y1="347.00" x2="422.88" y2="348.80" stroke="#6e6e6e" stroke-width="0.85"/>
<text x="422.88" y="355.70" class="k">−4</text>
<line x1="449.05" y1="347.00" x2="449.05" y2="348.80" stroke="#6e6e6e" stroke-width="0.85"/>
<text x="449.05" y="355.70" class="k">−3</text>
<line x1="475.22" y1="347.00" x2="475.22" y2="348.80" stroke="#6e6e6e" stroke-width="0.85"/>
<text x="475.22" y="355.70" class="k">−2</text>
<line x1="501.39" y1="347.00" x2="501.39" y2="348.80" stroke="#6e6e6e" stroke-width="0.85"/>
<text x="501.39" y="355.70" class="k">−1</text>
<line x1="293.50" y1="199.40" x2="295.30" y2="199.40" stroke="#6e6e6e" stroke-width="0.85"/>
<text x="290.90" y="200.98" class="k e">−1</text>
<line x1="293.50" y1="219.50" x2="295.30" y2="219.50" stroke="#6e6e6e" stroke-width="0.85"/>
<text x="290.90" y="221.08" class="k e">−2</text>
<line x1="293.50" y1="239.60" x2="295.30" y2="239.60" stroke="#6e6e6e" stroke-width="0.85"/>
<text x="290.90" y="241.18" class="k e">−3</text>
<line x1="293.50" y1="259.70" x2="295.30" y2="259.70" stroke="#6e6e6e" stroke-width="0.85"/>
<text x="290.90" y="261.28" class="k e">−4</text>
<line x1="293.50" y1="279.80" x2="295.30" y2="279.80" stroke="#6e6e6e" stroke-width="0.85"/>
<text x="290.90" y="281.38" class="k e">−5</text>
<line x1="293.50" y1="299.90" x2="295.30" y2="299.90" stroke="#6e6e6e" stroke-width="0.85"/>
<text x="290.90" y="301.48" class="k e">−6</text>
<line x1="293.50" y1="320.00" x2="295.30" y2="320.00" stroke="#6e6e6e" stroke-width="0.85"/>
<text x="290.90" y="321.58" class="k e">−7</text>
<line x1="293.50" y1="340.10" x2="295.30" y2="340.10" stroke="#6e6e6e" stroke-width="0.85"/>
<text x="290.90" y="341.68" class="k e">−8</text>
<text x="403.55" y="194.80" class="h">Scatterplot of USV test points</text>
<text x="403.55" y="363.30" class="l">USV measurements (m)</text>
<text x="280.10" y="272.65" class="l" transform="rotate(-90 280.10 272.65)">CNN Estimations (m)</text>
<g id="ptsD" fill="#1f77b4"><circle cx="304.6" cy="332.7" r="1.0"/><circle cx="313.5" cy="336.2" r="1.0"/><circle cx="314.5" cy="338.3" r="1.0"/><circle cx="319.6" cy="336.8" r="1.0"/><circle cx="324.4" cy="336.2" r="1.0"/><circle cx="324.8" cy="339.7" r="1.0"/><circle cx="327.2" cy="327.6" r="1.0"/><circle cx="339.6" cy="290.0" r="1.0"/><circle cx="342.7" cy="292.4" r="1.0"/><circle cx="346.0" cy="300.6" r="1.0"/><circle cx="345.3" cy="302.7" r="1.0"/><circle cx="346.4" cy="304.3" r="1.0"/><circle cx="347.4" cy="305.8" r="1.0"/><circle cx="348.0" cy="303.7" r="1.0"/><circle cx="347.4" cy="302.3" r="1.0"/><circle cx="355.2" cy="321.2" r="1.0"/><circle cx="356.2" cy="298.6" r="1.0"/><circle cx="359.7" cy="294.5" r="1.0"/><circle cx="361.2" cy="325.3" r="1.0"/><circle cx="364.3" cy="296.7" r="1.0"/><circle cx="368.4" cy="303.7" r="1.0"/><circle cx="369.0" cy="310.5" r="1.0"/><circle cx="375.8" cy="316.7" r="1.0"/><circle cx="373.7" cy="286.2" r="1.0"/><circle cx="376.2" cy="285.8" r="1.0"/><circle cx="378.2" cy="286.5" r="1.0"/><circle cx="381.9" cy="291.6" r="1.0"/><circle cx="382.8" cy="279.3" r="1.0"/><circle cx="384.4" cy="280.1" r="1.0"/><circle cx="385.8" cy="276.6" r="1.0"/><circle cx="385.8" cy="285.8" r="1.0"/><circle cx="387.5" cy="282.8" r="1.0"/><circle cx="390.6" cy="283.8" r="1.0"/><circle cx="391.0" cy="286.5" r="1.0"/><circle cx="392.6" cy="285.4" r="1.0"/><circle cx="394.3" cy="286.9" r="1.0"/><circle cx="394.7" cy="283.8" r="1.0"/><circle cx="393.7" cy="281.7" r="1.0"/><circle cx="395.7" cy="280.7" r="1.0"/><circle cx="396.7" cy="279.3" r="1.0"/><circle cx="397.8" cy="277.6" r="1.0"/><circle cx="398.8" cy="274.5" r="1.0"/><circle cx="399.8" cy="276.6" r="1.0"/><circle cx="401.3" cy="279.3" r="1.0"/><circle cx="402.9" cy="281.3" r="1.0"/><circle cx="403.9" cy="287.9" r="1.0"/><circle cx="404.6" cy="275.6" r="1.0"/><circle cx="402.9" cy="271.4" r="1.0"/><circle cx="399.8" cy="267.7" r="1.0"/><circle cx="396.3" cy="267.7" r="1.0"/><circle cx="396.3" cy="271.4" r="1.0"/><circle cx="393.7" cy="261.6" r="1.0"/><circle cx="390.2" cy="261.2" r="1.0"/><circle cx="384.0" cy="262.8" r="1.0"/><circle cx="382.8" cy="265.3" r="1.0"/><circle cx="405.0" cy="266.3" r="1.0"/><circle cx="403.9" cy="288.2" r="1.0"/><circle cx="408.5" cy="294.5" r="1.0"/><circle cx="415.0" cy="289.9" r="1.0"/><circle cx="419.0" cy="281.7" r="1.0"/><circle cx="424.8" cy="279.9" r="1.0"/><circle cx="428.2" cy="279.0" r="1.0"/><circle cx="430.6" cy="280.6" r="1.0"/><circle cx="432.9" cy="277.6" r="1.0"/><circle cx="429.4" cy="267.8" r="1.0"/><circle cx="434.0" cy="263.2" r="1.0"/><circle cx="427.1" cy="272.5" r="1.0"/><circle cx="422.4" cy="270.2" r="1.0"/><circle cx="450.7" cy="245.8" r="1.0"/><circle cx="452.6" cy="245.4" r="1.0"/><circle cx="454.4" cy="245.1" r="1.0"/><circle cx="455.6" cy="245.8" r="1.0"/><circle cx="443.3" cy="254.4" r="1.0"/><circle cx="445.6" cy="253.9" r="1.0"/><circle cx="453.0" cy="252.3" r="1.0"/><circle cx="458.4" cy="226.1" r="1.0"/><circle cx="460.7" cy="227.3" r="1.0"/><circle cx="463.0" cy="225.0" r="1.0"/><circle cx="465.3" cy="228.4" r="1.0"/><circle cx="466.5" cy="222.7" r="1.0"/><circle cx="467.6" cy="225.0" r="1.0"/><circle cx="468.8" cy="223.3" r="1.0"/><circle cx="470.0" cy="227.3" r="1.0"/><circle cx="471.1" cy="229.6" r="1.0"/><circle cx="468.8" cy="230.8" r="1.0"/><circle cx="461.8" cy="238.9" r="1.0"/><circle cx="464.2" cy="239.3" r="1.0"/><circle cx="466.5" cy="238.9" r="1.0"/><circle cx="468.8" cy="237.7" r="1.0"/><circle cx="470.0" cy="233.1" r="1.0"/><circle cx="452.6" cy="230.3" r="1.0"/><circle cx="452.1" cy="234.2" r="1.0"/><circle cx="450.7" cy="237.7" r="1.0"/><circle cx="441.0" cy="235.4" r="1.0"/><circle cx="445.2" cy="237.3" r="1.0"/><circle cx="471.1" cy="216.4" r="1.0"/><circle cx="476.9" cy="212.7" r="1.0"/><circle cx="480.8" cy="211.1" r="1.0"/><circle cx="482.7" cy="207.1" r="1.0"/><circle cx="485.0" cy="207.1" r="1.0"/><circle cx="483.9" cy="210.4" r="1.0"/><circle cx="486.2" cy="212.2" r="1.0"/><circle cx="487.3" cy="208.7" r="1.0"/><circle cx="489.2" cy="209.9" r="1.0"/><circle cx="490.1" cy="212.7" r="1.0"/><circle cx="491.5" cy="209.9" r="1.0"/><circle cx="493.1" cy="211.1" r="1.0"/><circle cx="494.3" cy="212.7" r="1.0"/><circle cx="497.1" cy="211.1" r="1.0"/><circle cx="502.4" cy="211.1" r="1.0"/><circle cx="490.8" cy="215.7" r="1.0"/><circle cx="492.0" cy="219.2" r="1.0"/><circle cx="493.6" cy="219.6" r="1.0"/><circle cx="485.0" cy="220.3" r="1.0"/><circle cx="481.5" cy="223.8" r="1.0"/><circle cx="476.9" cy="227.3" r="1.0"/><circle cx="393.5" cy="261.4" r="1.0"/><circle cx="399.7" cy="264.4" r="1.0"/><circle cx="397.0" cy="267.8" r="1.0"/><circle cx="404.4" cy="265.5" r="1.0"/><circle cx="407.4" cy="258.6" r="1.0"/><circle cx="408.5" cy="263.2" r="1.0"/><circle cx="434.4" cy="246.0" r="1.0"/><circle cx="440.7" cy="247.9" r="1.0"/><circle cx="416.7" cy="257.1" r="1.0"/><circle cx="434.1" cy="248.4" r="1.0"/><circle cx="432.2" cy="248.0" r="1.0"/><circle cx="441.4" cy="246.9" r="1.0"/><circle cx="435.7" cy="251.8" r="1.0"/><circle cx="436.0" cy="245.5" r="1.0"/><circle cx="435.0" cy="245.8" r="1.0"/><circle cx="440.3" cy="245.1" r="1.0"/><circle cx="431.2" cy="249.3" r="1.0"/><circle cx="442.8" cy="243.1" r="1.0"/><circle cx="429.8" cy="251.2" r="1.0"/><circle cx="438.2" cy="247.8" r="1.0"/><circle cx="437.4" cy="248.5" r="1.0"/><circle cx="449.5" cy="237.9" r="1.0"/><circle cx="428.5" cy="250.7" r="1.0"/><circle cx="439.9" cy="249.0" r="1.0"/><circle cx="431.5" cy="248.6" r="1.0"/><circle cx="428.1" cy="255.4" r="1.0"/><circle cx="440.1" cy="247.1" r="1.0"/><circle cx="428.8" cy="253.7" r="1.0"/><circle cx="434.8" cy="249.6" r="1.0"/><circle cx="440.6" cy="245.7" r="1.0"/><circle cx="438.9" cy="246.4" r="1.0"/><circle cx="436.7" cy="249.6" r="1.0"/><circle cx="421.9" cy="256.6" r="1.0"/><circle cx="429.0" cy="250.8" r="1.0"/><circle cx="433.6" cy="254.4" r="1.0"/><circle cx="428.3" cy="256.3" r="1.0"/><circle cx="420.1" cy="257.7" r="1.0"/><circle cx="435.7" cy="250.2" r="1.0"/><circle cx="440.2" cy="247.8" r="1.0"/><circle cx="430.2" cy="250.6" r="1.0"/><circle cx="439.9" cy="244.9" r="1.0"/><circle cx="422.1" cy="253.9" r="1.0"/><circle cx="427.2" cy="255.6" r="1.0"/><circle cx="435.6" cy="250.5" r="1.0"/><circle cx="430.5" cy="252.3" r="1.0"/><circle cx="437.9" cy="245.9" r="1.0"/><circle cx="436.1" cy="246.0" r="1.0"/><circle cx="430.2" cy="250.8" r="1.0"/><circle cx="425.1" cy="257.0" r="1.0"/><circle cx="430.0" cy="252.2" r="1.0"/><circle cx="437.9" cy="248.2" r="1.0"/><circle cx="438.6" cy="246.1" r="1.0"/><circle cx="430.2" cy="251.8" r="1.0"/><circle cx="418.5" cy="255.4" r="1.0"/><circle cx="422.0" cy="254.5" r="1.0"/><circle cx="435.4" cy="245.8" r="1.0"/><circle cx="432.5" cy="254.5" r="1.0"/><circle cx="431.9" cy="253.2" r="1.0"/><circle cx="426.1" cy="254.1" r="1.0"/><circle cx="425.8" cy="253.9" r="1.0"/><circle cx="437.6" cy="241.8" r="1.0"/><circle cx="437.3" cy="248.0" r="1.0"/><circle cx="426.9" cy="249.8" r="1.0"/><circle cx="433.4" cy="248.3" r="1.0"/><circle cx="435.4" cy="248.6" r="1.0"/><circle cx="445.6" cy="241.0" r="1.0"/><circle cx="425.9" cy="255.4" r="1.0"/><circle cx="437.2" cy="251.5" r="1.0"/><circle cx="440.5" cy="246.2" r="1.0"/><circle cx="443.2" cy="239.7" r="1.0"/><circle cx="427.3" cy="251.1" r="1.0"/><circle cx="428.6" cy="248.9" r="1.0"/><circle cx="438.1" cy="246.0" r="1.0"/><circle cx="420.8" cy="255.2" r="1.0"/><circle cx="437.2" cy="249.9" r="1.0"/><circle cx="453.1" cy="245.6" r="1.0"/><circle cx="435.4" cy="245.5" r="1.0"/><circle cx="417.5" cy="261.3" r="1.0"/><circle cx="426.7" cy="253.1" r="1.0"/><circle cx="428.7" cy="252.6" r="1.0"/><circle cx="442.0" cy="244.6" r="1.0"/><circle cx="430.9" cy="248.4" r="1.0"/><circle cx="420.0" cy="257.4" r="1.0"/><circle cx="435.7" cy="253.8" r="1.0"/><circle cx="436.0" cy="251.2" r="1.0"/><circle cx="428.0" cy="249.8" r="1.0"/><circle cx="425.1" cy="253.2" r="1.0"/><circle cx="448.8" cy="237.0" r="1.0"/><circle cx="438.7" cy="243.5" r="1.0"/><circle cx="441.3" cy="245.8" r="1.0"/><circle cx="432.3" cy="250.5" r="1.0"/><circle cx="429.2" cy="254.1" r="1.0"/><circle cx="428.3" cy="249.5" r="1.0"/><circle cx="424.0" cy="256.7" r="1.0"/><circle cx="446.0" cy="242.0" r="1.0"/><circle cx="433.1" cy="251.0" r="1.0"/><circle cx="443.9" cy="243.5" r="1.0"/><circle cx="432.0" cy="254.2" r="1.0"/><circle cx="439.1" cy="250.8" r="1.0"/><circle cx="433.2" cy="246.2" r="1.0"/><circle cx="425.4" cy="260.3" r="1.0"/><circle cx="446.6" cy="240.5" r="1.0"/><circle cx="432.7" cy="254.8" r="1.0"/><circle cx="423.8" cy="253.6" r="1.0"/><circle cx="438.0" cy="245.6" r="1.0"/><circle cx="433.3" cy="249.4" r="1.0"/><circle cx="438.2" cy="251.0" r="1.0"/><circle cx="435.2" cy="250.7" r="1.0"/><circle cx="417.7" cy="260.2" r="1.0"/><circle cx="425.3" cy="251.5" r="1.0"/><circle cx="426.3" cy="253.6" r="1.0"/><circle cx="438.7" cy="242.2" r="1.0"/><circle cx="433.1" cy="248.6" r="1.0"/><circle cx="432.5" cy="253.6" r="1.0"/><circle cx="439.6" cy="249.8" r="1.0"/><circle cx="431.4" cy="249.1" r="1.0"/><circle cx="432.2" cy="251.4" r="1.0"/><circle cx="433.4" cy="246.6" r="1.0"/><circle cx="434.6" cy="249.8" r="1.0"/><circle cx="455.6" cy="240.8" r="1.0"/><circle cx="426.6" cy="253.6" r="1.0"/><circle cx="421.5" cy="256.1" r="1.0"/><circle cx="437.7" cy="250.7" r="1.0"/><circle cx="427.0" cy="252.1" r="1.0"/><circle cx="416.8" cy="260.5" r="1.0"/><circle cx="424.6" cy="254.1" r="1.0"/><circle cx="426.7" cy="254.1" r="1.0"/><circle cx="418.0" cy="255.7" r="1.0"/><circle cx="448.1" cy="236.1" r="1.0"/><circle cx="427.7" cy="259.3" r="1.0"/><circle cx="454.3" cy="232.3" r="1.0"/><circle cx="431.2" cy="252.4" r="1.0"/><circle cx="445.5" cy="238.8" r="1.0"/><circle cx="432.8" cy="252.7" r="1.0"/><circle cx="436.4" cy="246.7" r="1.0"/><circle cx="430.6" cy="247.5" r="1.0"/><circle cx="431.4" cy="250.4" r="1.0"/><circle cx="434.6" cy="247.4" r="1.0"/><circle cx="438.6" cy="249.5" r="1.0"/><circle cx="435.3" cy="249.7" r="1.0"/><circle cx="434.0" cy="249.5" r="1.0"/><circle cx="428.5" cy="254.2" r="1.0"/><circle cx="435.8" cy="254.7" r="1.0"/><circle cx="446.2" cy="242.5" r="1.0"/><circle cx="426.1" cy="251.3" r="1.0"/><circle cx="443.1" cy="244.2" r="1.0"/><circle cx="434.8" cy="243.6" r="1.0"/><circle cx="441.4" cy="245.9" r="1.0"/><circle cx="424.3" cy="254.5" r="1.0"/><circle cx="435.7" cy="248.5" r="1.0"/><circle cx="431.2" cy="251.1" r="1.0"/><circle cx="431.8" cy="251.4" r="1.0"/><circle cx="441.3" cy="236.7" r="1.0"/><circle cx="432.0" cy="251.4" r="1.0"/><circle cx="435.3" cy="247.5" r="1.0"/><circle cx="420.5" cy="259.5" r="1.0"/><circle cx="444.7" cy="237.6" r="1.0"/><circle cx="439.8" cy="244.6" r="1.0"/><circle cx="431.6" cy="247.9" r="1.0"/><circle cx="432.8" cy="254.2" r="1.0"/><circle cx="440.5" cy="250.4" r="1.0"/><circle cx="443.3" cy="244.6" r="1.0"/><circle cx="447.6" cy="241.7" r="1.0"/><circle cx="439.5" cy="244.9" r="1.0"/><circle cx="433.1" cy="247.9" r="1.0"/><circle cx="439.5" cy="242.2" r="1.0"/><circle cx="439.3" cy="245.3" r="1.0"/><circle cx="443.7" cy="245.3" r="1.0"/><circle cx="448.6" cy="241.9" r="1.0"/><circle cx="421.4" cy="257.7" r="1.0"/><circle cx="423.8" cy="254.7" r="1.0"/><circle cx="446.1" cy="243.3" r="1.0"/><circle cx="426.7" cy="251.2" r="1.0"/><circle cx="432.1" cy="247.0" r="1.0"/><circle cx="428.8" cy="253.9" r="1.0"/><circle cx="443.3" cy="245.1" r="1.0"/><circle cx="416.4" cy="262.2" r="1.0"/><circle cx="434.7" cy="250.3" r="1.0"/><circle cx="443.1" cy="237.1" r="1.0"/><circle cx="429.9" cy="254.1" r="1.0"/><circle cx="423.5" cy="261.1" r="1.0"/><circle cx="437.6" cy="249.7" r="1.0"/><circle cx="430.3" cy="254.4" r="1.0"/><circle cx="442.1" cy="244.7" r="1.0"/><circle cx="435.8" cy="249.1" r="1.0"/><circle cx="426.7" cy="253.9" r="1.0"/><circle cx="432.9" cy="251.4" r="1.0"/><circle cx="439.8" cy="242.4" r="1.0"/><circle cx="434.7" cy="253.5" r="1.0"/><circle cx="426.7" cy="251.9" r="1.0"/><circle cx="436.3" cy="250.5" r="1.0"/><circle cx="435.5" cy="252.5" r="1.0"/><circle cx="441.4" cy="247.1" r="1.0"/><circle cx="441.1" cy="251.8" r="1.0"/><circle cx="429.1" cy="246.6" r="1.0"/><circle cx="445.3" cy="240.5" r="1.0"/><circle cx="436.3" cy="252.0" r="1.0"/><circle cx="419.5" cy="255.4" r="1.0"/><circle cx="420.1" cy="256.3" r="1.0"/><circle cx="437.7" cy="248.6" r="1.0"/><circle cx="433.7" cy="245.3" r="1.0"/><circle cx="415.9" cy="261.8" r="1.0"/><circle cx="430.6" cy="253.2" r="1.0"/><circle cx="439.2" cy="246.4" r="1.0"/><circle cx="439.7" cy="246.3" r="1.0"/><circle cx="436.7" cy="245.5" r="1.0"/><circle cx="432.5" cy="251.1" r="1.0"/><circle cx="439.3" cy="244.7" r="1.0"/><circle cx="437.2" cy="246.5" r="1.0"/><circle cx="433.8" cy="252.1" r="1.0"/><circle cx="416.4" cy="257.3" r="1.0"/><circle cx="418.8" cy="252.5" r="1.0"/><circle cx="429.4" cy="254.9" r="1.0"/><circle cx="431.7" cy="251.7" r="1.0"/><circle cx="443.8" cy="247.0" r="1.0"/><circle cx="435.0" cy="253.0" r="1.0"/><circle cx="443.5" cy="245.2" r="1.0"/><circle cx="439.0" cy="245.9" r="1.0"/><circle cx="437.7" cy="248.0" r="1.0"/><circle cx="449.0" cy="247.1" r="1.0"/><circle cx="435.0" cy="250.0" r="1.0"/><circle cx="437.1" cy="249.4" r="1.0"/><circle cx="441.7" cy="244.4" r="1.0"/><circle cx="448.7" cy="243.7" r="1.0"/><circle cx="439.5" cy="246.3" r="1.0"/><circle cx="439.5" cy="248.5" r="1.0"/><circle cx="442.3" cy="247.4" r="1.0"/><circle cx="446.1" cy="247.5" r="1.0"/><circle cx="440.5" cy="245.3" r="1.0"/><circle cx="449.7" cy="243.8" r="1.0"/><circle cx="450.3" cy="244.6" r="1.0"/><circle cx="442.7" cy="247.3" r="1.0"/><circle cx="456.2" cy="245.1" r="1.0"/><circle cx="443.8" cy="246.6" r="1.0"/><circle cx="449.5" cy="243.1" r="1.0"/><circle cx="445.3" cy="245.8" r="1.0"/><circle cx="444.8" cy="244.8" r="1.0"/><circle cx="432.6" cy="247.2" r="1.0"/><circle cx="436.2" cy="248.3" r="1.0"/><circle cx="442.4" cy="249.7" r="1.0"/><circle cx="449.6" cy="242.9" r="1.0"/><circle cx="445.2" cy="245.2" r="1.0"/><circle cx="441.6" cy="247.4" r="1.0"/><circle cx="446.9" cy="244.7" r="1.0"/><circle cx="449.3" cy="242.7" r="1.0"/><circle cx="444.5" cy="249.9" r="1.0"/><circle cx="445.3" cy="247.9" r="1.0"/><circle cx="444.1" cy="247.1" r="1.0"/><circle cx="442.9" cy="246.4" r="1.0"/><circle cx="438.7" cy="248.8" r="1.0"/><circle cx="438.4" cy="249.2" r="1.0"/><circle cx="450.1" cy="244.7" r="1.0"/><circle cx="441.8" cy="247.7" r="1.0"/><circle cx="441.8" cy="248.4" r="1.0"/><circle cx="431.9" cy="250.0" r="1.0"/><circle cx="430.4" cy="248.8" r="1.0"/><circle cx="452.1" cy="244.8" r="1.0"/><circle cx="438.2" cy="246.1" r="1.0"/><circle cx="424.9" cy="252.2" r="1.0"/><circle cx="458.3" cy="241.9" r="1.0"/><circle cx="440.1" cy="248.3" r="1.0"/><circle cx="433.6" cy="249.5" r="1.0"/><circle cx="443.9" cy="246.2" r="1.0"/><circle cx="448.3" cy="245.3" r="1.0"/><circle cx="447.1" cy="244.2" r="1.0"/><circle cx="449.5" cy="246.7" r="1.0"/><circle cx="424.6" cy="253.3" r="1.0"/><circle cx="434.9" cy="247.6" r="1.0"/><circle cx="435.0" cy="247.1" r="1.0"/><circle cx="435.7" cy="247.6" r="1.0"/><circle cx="431.7" cy="252.7" r="1.0"/><circle cx="427.1" cy="251.6" r="1.0"/><circle cx="427.8" cy="253.4" r="1.0"/><circle cx="423.3" cy="256.8" r="1.0"/><circle cx="428.0" cy="254.5" r="1.0"/><circle cx="418.6" cy="257.5" r="1.0"/><circle cx="421.6" cy="255.5" r="1.0"/><circle cx="430.3" cy="250.7" r="1.0"/><circle cx="428.2" cy="252.2" r="1.0"/><circle cx="429.5" cy="249.9" r="1.0"/><circle cx="432.9" cy="250.4" r="1.0"/><circle cx="431.5" cy="251.2" r="1.0"/><circle cx="432.2" cy="253.1" r="1.0"/><circle cx="428.8" cy="251.5" r="1.0"/><circle cx="425.4" cy="252.6" r="1.0"/><circle cx="423.4" cy="254.1" r="1.0"/><circle cx="429.4" cy="252.2" r="1.0"/><circle cx="429.0" cy="250.6" r="1.0"/><circle cx="433.8" cy="249.9" r="1.0"/><circle cx="428.2" cy="251.3" r="1.0"/><circle cx="431.9" cy="250.3" r="1.0"/><circle cx="423.2" cy="255.7" r="1.0"/><circle cx="429.8" cy="249.8" r="1.0"/><circle cx="429.1" cy="249.4" r="1.0"/><circle cx="436.0" cy="249.3" r="1.0"/><circle cx="428.6" cy="252.8" r="1.0"/><circle cx="418.3" cy="257.1" r="1.0"/><circle cx="427.3" cy="251.2" r="1.0"/><circle cx="434.0" cy="251.9" r="1.0"/><circle cx="423.8" cy="254.0" r="1.0"/><circle cx="431.6" cy="252.8" r="1.0"/><circle cx="424.4" cy="255.4" r="1.0"/><circle cx="435.8" cy="244.5" r="1.0"/><circle cx="423.6" cy="254.8" r="1.0"/><circle cx="427.8" cy="254.0" r="1.0"/><circle cx="429.0" cy="248.9" r="1.0"/><circle cx="409.4" cy="268.8" r="1.0"/><circle cx="415.9" cy="264.2" r="1.0"/><circle cx="401.9" cy="279.1" r="1.0"/><circle cx="413.8" cy="270.7" r="1.0"/><circle cx="392.8" cy="285.2" r="1.0"/><circle cx="397.8" cy="280.4" r="1.0"/><circle cx="394.9" cy="283.4" r="1.0"/><circle cx="396.4" cy="274.1" r="1.0"/><circle cx="412.9" cy="270.3" r="1.0"/><circle cx="404.1" cy="281.9" r="1.0"/><circle cx="402.5" cy="276.3" r="1.0"/><circle cx="407.2" cy="270.0" r="1.0"/><circle cx="409.1" cy="269.2" r="1.0"/><circle cx="405.6" cy="280.5" r="1.0"/><circle cx="391.9" cy="271.8" r="1.0"/><circle cx="425.8" cy="272.6" r="1.0"/><circle cx="398.5" cy="269.6" r="1.0"/><circle cx="402.9" cy="274.5" r="1.0"/><circle cx="402.1" cy="271.1" r="1.0"/><circle cx="412.4" cy="272.0" r="1.0"/><circle cx="394.8" cy="284.6" r="1.0"/><circle cx="424.4" cy="262.3" r="1.0"/><circle cx="403.0" cy="275.1" r="1.0"/><circle cx="407.8" cy="264.4" r="1.0"/><circle cx="406.8" cy="271.4" r="1.0"/><circle cx="421.8" cy="262.3" r="1.0"/><circle cx="418.3" cy="260.3" r="1.0"/><circle cx="412.0" cy="271.3" r="1.0"/><circle cx="399.1" cy="279.3" r="1.0"/><circle cx="416.0" cy="265.5" r="1.0"/><circle cx="391.5" cy="283.4" r="1.0"/><circle cx="397.7" cy="277.8" r="1.0"/><circle cx="401.8" cy="268.5" r="1.0"/><circle cx="393.3" cy="284.6" r="1.0"/><circle cx="396.1" cy="268.3" r="1.0"/><circle cx="413.6" cy="270.0" r="1.0"/><circle cx="397.1" cy="273.5" r="1.0"/><circle cx="414.2" cy="269.9" r="1.0"/><circle cx="427.8" cy="261.2" r="1.0"/><circle cx="409.2" cy="270.8" r="1.0"/><circle cx="414.7" cy="270.9" r="1.0"/><circle cx="415.9" cy="264.7" r="1.0"/><circle cx="401.4" cy="274.6" r="1.0"/><circle cx="416.4" cy="273.9" r="1.0"/><circle cx="401.3" cy="274.9" r="1.0"/><circle cx="408.4" cy="271.0" r="1.0"/><circle cx="409.5" cy="260.7" r="1.0"/><circle cx="397.3" cy="275.9" r="1.0"/><circle cx="384.0" cy="284.0" r="1.0"/><circle cx="397.9" cy="278.3" r="1.0"/><circle cx="415.3" cy="266.4" r="1.0"/><circle cx="397.2" cy="279.4" r="1.0"/><circle cx="413.2" cy="264.4" r="1.0"/><circle cx="399.6" cy="280.8" r="1.0"/><circle cx="405.7" cy="277.0" r="1.0"/><circle cx="407.6" cy="276.0" r="1.0"/><circle cx="397.2" cy="279.6" r="1.0"/><circle cx="401.7" cy="270.9" r="1.0"/><circle cx="394.2" cy="285.0" r="1.0"/><circle cx="400.9" cy="272.3" r="1.0"/><circle cx="407.9" cy="277.9" r="1.0"/><circle cx="383.2" cy="282.0" r="1.0"/><circle cx="401.4" cy="283.8" r="1.0"/><circle cx="410.4" cy="274.5" r="1.0"/><circle cx="393.9" cy="276.6" r="1.0"/><circle cx="410.2" cy="271.2" r="1.0"/><circle cx="410.6" cy="269.8" r="1.0"/><circle cx="409.0" cy="272.5" r="1.0"/><circle cx="414.7" cy="271.8" r="1.0"/><circle cx="387.3" cy="275.7" r="1.0"/><circle cx="424.8" cy="265.5" r="1.0"/><circle cx="409.5" cy="263.8" r="1.0"/><circle cx="420.0" cy="267.7" r="1.0"/><circle cx="427.4" cy="261.1" r="1.0"/><circle cx="414.4" cy="264.3" r="1.0"/><circle cx="417.3" cy="264.7" r="1.0"/><circle cx="416.6" cy="274.3" r="1.0"/><circle cx="428.5" cy="262.8" r="1.0"/><circle cx="414.9" cy="270.8" r="1.0"/><circle cx="421.7" cy="264.7" r="1.0"/><circle cx="425.0" cy="263.2" r="1.0"/><circle cx="422.5" cy="264.9" r="1.0"/><circle cx="416.2" cy="259.6" r="1.0"/><circle cx="417.2" cy="263.8" r="1.0"/><circle cx="414.7" cy="274.2" r="1.0"/><circle cx="428.6" cy="263.6" r="1.0"/><circle cx="421.5" cy="268.3" r="1.0"/><circle cx="418.2" cy="266.0" r="1.0"/><circle cx="413.3" cy="270.1" r="1.0"/><circle cx="415.7" cy="261.8" r="1.0"/><circle cx="417.4" cy="265.5" r="1.0"/><circle cx="428.1" cy="262.1" r="1.0"/><circle cx="418.3" cy="266.2" r="1.0"/><circle cx="417.7" cy="264.8" r="1.0"/><circle cx="412.3" cy="268.6" r="1.0"/></g>
<line x1="304.10" y1="339.60" x2="502.20" y2="204.70" stroke="#ff7f0e" stroke-width="1.1" stroke-linecap="round"/>
<text x="509.90" y="359.30" class="b s">(D)</text>
<g id="mapE"><clipPath id="axE"><rect x="27.8" y="395.3" width="169.6" height="134.49999999999994"/></clipPath>
<clipPath id="dpE"><polygon points="30.7,406.3 57.6,397.9 69.4,396.2 88.4,396.5 96.2,401.0 105.2,404.3 113.0,408.8 122.0,411.6 129.9,412.2 134.3,416.1 135.5,420.0 138.3,421.2 138.3,427.9 140.3,435.7 144.0,436.5 147.0,440.5 152.0,442.5 153.5,447.0 154.0,452.0 156.5,456.5 160.5,455.9 162.0,453.0 165.5,453.4 171.0,456.5 177.3,457.6 182.3,461.0 179.0,462.0 177.3,470.1 174.0,474.0 172.2,478.5 174.0,484.0 174.8,490.3 172.0,496.0 170.6,502.0 170.5,507.0 171.4,511.3 174.0,513.5 177.3,513.8 181.0,511.0 185.7,508.8 189.0,505.0 192.4,502.0 194.5,498.0 196.6,494.5 197.4,494.0 197.4,517.0 184.0,525.6 175.6,529.3 173.9,529.0 165.5,522.2 160.5,518.9 145.3,505.4 143.6,492.0 120.1,489.4 114.0,483.6 110.0,480.2 103.1,475.1 94.7,468.4 86.2,460.0 82.9,455.9 79.5,450.9 72.8,442.5 67.7,440.8 63.5,434.9 62.7,430.7 57.6,425.6 50.9,422.3 42.5,422.3 37.5,417.2"/></clipPath>
<g clip-path="url(#axE)">
<polygon points="27.8,395.3 92.0,395.3 89.6,397.0 69.4,396.2 57.6,397.9 30.7,406.3 37.5,417.2 42.5,422.3 44.2,430.7 45.9,435.7 40.8,439.1 34.1,440.8 29.0,438.3 27.8,437.0" fill="#101b1a"/>
<polygon points="63.5,434.9 67.7,440.8 72.8,442.5 79.5,450.9 82.9,455.9 86.2,460.0 94.7,468.4 103.1,475.1 110.0,480.2 114.0,483.6 120.1,489.4 143.6,492.0 145.3,505.4 160.5,518.9 155.4,527.3 114.0,500.4 106.4,497.9 101.4,495.3 103.1,486.9 98.0,478.5 89.6,473.5 79.5,468.4 72.8,460.0 69.4,455.9 66.0,449.2 60.2,442.5 57.6,436.6" fill="#646967"/>
<polygon points="63.5,434.9 67.7,440.8 72.8,442.5 79.5,450.9 82.9,455.9 86.2,460.0 94.7,468.4 103.1,475.1 110.0,480.2 114.0,483.6 120.1,489.4 143.6,492.0 145.3,505.4 160.5,518.9 155.4,527.3 114.0,500.4 106.4,497.9 101.4,495.3 103.1,486.9 98.0,478.5 89.6,473.5 79.5,468.4 72.8,460.0 69.4,455.9 66.0,449.2 60.2,442.5 57.6,436.6" fill="#2d3331" filter="url(#texE1)"/>
<g clip-path="url(#dpE)" filter="url(#blurA)">
<path fill="#471b6d" d="M42 400h6.3v3.3h-6.3zM42 403h6.3v3.3h-6.3z"/>
<path fill="#482475" d="M39 403h3.3v3.3h-3.3z"/>
<path fill="#462c7a" d="M39 400h3.3v3.3h-3.3zM48 400h3.3v3.3h-3.3zM42 406h3.3v3.3h-3.3z"/>
<path fill="#44347e" d="M48 403h3.3v3.3h-3.3zM45 406h3.3v3.3h-3.3z"/>
<path fill="#433c82" d="M36 403h3.3v3.3h-3.3z"/>
<path fill="#414487" d="M39 406h3.3v3.3h-3.3zM45 409h3.3v3.3h-3.3z"/>
<path fill="#3e4b88" d="M63 406h3.3v3.3h-3.3zM60 409h6.3v3.3h-6.3z"/>
<path fill="#3b528a" d="M60 406h3.3v3.3h-3.3zM42 409h3.3v3.3h-3.3z"/>
<path fill="#38588c" d="M51 397h3.3v3.3h-3.3zM51 400h3.3v3.3h-3.3zM66 409h3.3v3.3h-3.3zM45 412h6.3v3.3h-6.3z"/>
<path fill="#355f8d" d="M63 403h3.3v3.3h-3.3zM36 406h3.3v3.3h-3.3zM66 406h3.3v3.3h-3.3zM51 412h3.3v3.3h-3.3zM84 427h6.3v3.3h-6.3zM84 430h3.3v3.3h-3.3z"/>
<path fill="#32658d" d="M48 406h3.3v3.3h-3.3zM48 409h3.3v3.3h-3.3zM57 409h3.3v3.3h-3.3zM54 412h3.3v3.3h-3.3zM63 412h6.3v3.3h-6.3zM84 421h3.3v3.3h-3.3zM84 424h6.3v3.3h-6.3zM87 430h3.3v3.3h-3.3zM84 433h6.3v3.3h-6.3z"/>
<path fill="#306c8e" d="M60 403h3.3v3.3h-3.3zM69 409h3.3v3.3h-3.3zM57 412h6.3v3.3h-6.3zM51 415h3.3v3.3h-3.3zM84 418h3.3v3.3h-3.3zM81 421h3.3v3.3h-3.3zM87 421h3.3v3.3h-3.3zM81 424h3.3v3.3h-3.3zM81 427h3.3v3.3h-3.3zM81 430h3.3v3.3h-3.3zM84 436h6.3v3.3h-6.3z"/>
<path fill="#2d728e" d="M54 397h3.3v3.3h-3.3zM63 400h3.3v3.3h-3.3zM66 403h3.3v3.3h-3.3zM42 412h3.3v3.3h-3.3zM69 412h3.3v3.3h-3.3zM48 415h3.3v3.3h-3.3zM54 415h3.3v3.3h-3.3zM81 418h3.3v3.3h-3.3zM87 418h3.3v3.3h-3.3zM81 433h3.3v3.3h-3.3z"/>
<path fill="#2a788e" d="M57 406h3.3v3.3h-3.3zM39 409h3.3v3.3h-3.3zM66 415h3.3v3.3h-3.3zM84 415h3.3v3.3h-3.3zM78 424h3.3v3.3h-3.3zM78 427h3.3v3.3h-3.3zM90 427h3.3v3.3h-3.3zM90 430h3.3v3.3h-3.3zM90 433h3.3v3.3h-3.3zM87 439h3.3v3.3h-3.3z"/>
<path fill="#287e8e" d="M63 397h3.3v3.3h-3.3zM54 400h3.3v3.3h-3.3zM60 400h3.3v3.3h-3.3zM66 400h3.3v3.3h-3.3zM33 403h3.3v3.3h-3.3zM51 403h3.3v3.3h-3.3zM69 406h3.3v3.3h-3.3zM72 412h3.3v3.3h-3.3zM84 412h3.3v3.3h-3.3zM45 415h3.3v3.3h-3.3zM69 415h3.3v3.3h-3.3zM81 415h3.3v3.3h-3.3zM87 415h3.3v3.3h-3.3zM51 418h6.3v3.3h-6.3zM78 418h3.3v3.3h-3.3zM78 421h3.3v3.3h-3.3zM90 424h3.3v3.3h-3.3zM78 430h3.3v3.3h-3.3zM81 436h3.3v3.3h-3.3zM90 436h3.3v3.3h-3.3zM84 439h3.3v3.3h-3.3z"/>
<path fill="#26848d" d="M63 394h3.3v3.3h-3.3zM57 397h6.3v3.3h-6.3zM66 397h3.3v3.3h-3.3zM72 409h3.3v3.3h-3.3zM81 412h3.3v3.3h-3.3zM87 412h3.3v3.3h-3.3zM72 415h3.3v3.3h-3.3zM78 415h3.3v3.3h-3.3zM90 421h3.3v3.3h-3.3zM78 433h3.3v3.3h-3.3zM90 439h3.3v3.3h-3.3z"/>
<path fill="#238b8c" d="M66 394h3.3v3.3h-3.3zM57 400h3.3v3.3h-3.3zM57 403h3.3v3.3h-3.3zM33 406h3.3v3.3h-3.3zM81 409h9.3v3.3h-9.3zM75 412h6.3v3.3h-6.3zM75 415h3.3v3.3h-3.3zM90 415h3.3v3.3h-3.3zM48 418h3.3v3.3h-3.3zM66 418h3.3v3.3h-3.3zM75 418h3.3v3.3h-3.3zM90 418h3.3v3.3h-3.3zM51 421h3.3v3.3h-3.3zM75 421h3.3v3.3h-3.3zM75 424h3.3v3.3h-3.3zM75 427h3.3v3.3h-3.3zM78 436h3.3v3.3h-3.3zM81 439h3.3v3.3h-3.3zM87 442h6.3v3.3h-6.3zM93 445h3.3v3.3h-3.3z"/>
<path fill="#21918c" d="M78 406h9.3v3.3h-9.3zM75 409h6.3v3.3h-6.3zM90 412h3.3v3.3h-3.3zM42 415h3.3v3.3h-3.3zM57 415h3.3v3.3h-3.3zM63 415h3.3v3.3h-3.3zM69 418h6.3v3.3h-6.3zM54 421h3.3v3.3h-3.3zM60 427h6.3v3.3h-6.3zM60 430h6.3v3.3h-6.3zM75 430h3.3v3.3h-3.3zM84 442h3.3v3.3h-3.3zM93 442h3.3v3.3h-3.3zM90 445h3.3v3.3h-3.3zM96 445h3.3v3.3h-3.3zM93 448h6.3v3.3h-6.3z"/>
<path fill="#21978a" d="M69 397h3.3v3.3h-3.3zM69 403h3.3v3.3h-3.3zM78 403h6.3v3.3h-6.3zM72 406h6.3v3.3h-6.3zM87 406h3.3v3.3h-3.3zM36 409h3.3v3.3h-3.3zM90 409h3.3v3.3h-3.3zM45 418h3.3v3.3h-3.3zM48 421h3.3v3.3h-3.3zM72 421h3.3v3.3h-3.3zM72 424h3.3v3.3h-3.3zM93 424h3.3v3.3h-3.3zM57 427h3.3v3.3h-3.3zM72 427h3.3v3.3h-3.3zM93 427h3.3v3.3h-3.3zM93 430h3.3v3.3h-3.3zM75 433h3.3v3.3h-3.3zM93 439h3.3v3.3h-3.3zM99 448h3.3v3.3h-3.3zM96 451h6.3v3.3h-6.3z"/>
<path fill="#229c88" d="M69 400h3.3v3.3h-3.3zM51 409h6.3v3.3h-6.3zM66 421h6.3v3.3h-6.3zM93 421h3.3v3.3h-3.3zM54 424h3.3v3.3h-3.3zM69 424h3.3v3.3h-3.3zM66 427h3.3v3.3h-3.3zM66 430h3.3v3.3h-3.3zM72 430h3.3v3.3h-3.3zM63 433h3.3v3.3h-3.3zM93 433h3.3v3.3h-3.3zM75 436h3.3v3.3h-3.3zM93 436h3.3v3.3h-3.3zM78 439h3.3v3.3h-3.3zM81 442h3.3v3.3h-3.3zM87 445h3.3v3.3h-3.3zM99 445h3.3v3.3h-3.3zM90 448h3.3v3.3h-3.3zM102 451h3.3v3.3h-3.3z"/>
<path fill="#22a286" d="M69 394h3.3v3.3h-3.3zM54 403h3.3v3.3h-3.3zM84 403h3.3v3.3h-3.3zM90 406h3.3v3.3h-3.3zM93 409h3.3v3.3h-3.3zM39 412h3.3v3.3h-3.3zM93 412h3.3v3.3h-3.3zM93 415h3.3v3.3h-3.3zM93 418h3.3v3.3h-3.3zM57 424h3.3v3.3h-3.3zM63 424h6.3v3.3h-6.3zM69 427h3.3v3.3h-3.3zM69 430h3.3v3.3h-3.3zM66 433h3.3v3.3h-3.3zM72 433h3.3v3.3h-3.3zM96 442h3.3v3.3h-3.3zM102 448h3.3v3.3h-3.3zM93 451h3.3v3.3h-3.3zM99 454h3.3v3.3h-3.3z"/>
<path fill="#22a884" d="M30 403h3.3v3.3h-3.3zM87 403h3.3v3.3h-3.3zM93 406h3.3v3.3h-3.3zM33 409h3.3v3.3h-3.3zM60 415h3.3v3.3h-3.3zM42 418h3.3v3.3h-3.3zM45 421h3.3v3.3h-3.3zM60 424h3.3v3.3h-3.3zM69 433h3.3v3.3h-3.3zM63 436h3.3v3.3h-3.3zM75 439h3.3v3.3h-3.3zM78 442h3.3v3.3h-3.3zM84 445h3.3v3.3h-3.3zM102 445h3.3v3.3h-3.3zM87 448h3.3v3.3h-3.3zM90 451h3.3v3.3h-3.3zM96 454h3.3v3.3h-3.3z"/>
<path fill="#2aae7f" d="M81 400h3.3v3.3h-3.3zM75 403h3.3v3.3h-3.3zM90 403h3.3v3.3h-3.3zM57 418h3.3v3.3h-3.3zM63 418h3.3v3.3h-3.3zM57 421h3.3v3.3h-3.3zM63 421h3.3v3.3h-3.3zM66 436h9.3v3.3h-9.3zM96 439h3.3v3.3h-3.3zM99 442h3.3v3.3h-3.3zM81 445h3.3v3.3h-3.3zM105 448h3.3v3.3h-3.3zM93 454h3.3v3.3h-3.3zM102 454h3.3v3.3h-3.3z"/>
<path fill="#33b47a" d="M78 400h3.3v3.3h-3.3zM30 406h3.3v3.3h-3.3zM96 409h3.3v3.3h-3.3zM96 412h3.3v3.3h-3.3zM96 415h3.3v3.3h-3.3zM96 418h3.3v3.3h-3.3zM96 421h3.3v3.3h-3.3zM96 424h3.3v3.3h-3.3zM96 427h3.3v3.3h-3.3zM120 427h6.3v3.3h-6.3zM66 439h3.3v3.3h-3.3zM72 439h3.3v3.3h-3.3zM75 442h3.3v3.3h-3.3zM78 445h3.3v3.3h-3.3zM105 445h9.3v3.3h-9.3zM84 448h3.3v3.3h-3.3zM108 448h3.3v3.3h-3.3zM87 451h3.3v3.3h-3.3zM105 451h3.3v3.3h-3.3z"/>
<path fill="#3cb975" d="M72 394h3.3v3.3h-3.3zM84 400h3.3v3.3h-3.3zM72 403h3.3v3.3h-3.3zM93 403h3.3v3.3h-3.3zM96 406h3.3v3.3h-3.3zM39 415h3.3v3.3h-3.3zM126 427h3.3v3.3h-3.3zM96 430h3.3v3.3h-3.3zM123 430h3.3v3.3h-3.3zM96 433h3.3v3.3h-3.3zM96 436h3.3v3.3h-3.3zM69 439h3.3v3.3h-3.3zM72 442h3.3v3.3h-3.3zM102 442h3.3v3.3h-3.3zM75 445h3.3v3.3h-3.3zM114 445h3.3v3.3h-3.3zM81 448h3.3v3.3h-3.3zM111 448h3.3v3.3h-3.3zM84 451h3.3v3.3h-3.3zM90 454h3.3v3.3h-3.3zM96 457h6.3v3.3h-6.3zM174 526h9.3v3.3h-9.3zM174 529h3.3v3.3h-3.3z"/>
<path fill="#44bf70" d="M72 397h3.3v3.3h-3.3zM87 400h3.3v3.3h-3.3zM96 403h3.3v3.3h-3.3zM51 406h3.3v3.3h-3.3zM42 421h3.3v3.3h-3.3zM120 424h6.3v3.3h-6.3zM120 430h3.3v3.3h-3.3zM99 439h3.3v3.3h-3.3zM69 442h3.3v3.3h-3.3zM105 442h9.3v3.3h-9.3zM78 448h3.3v3.3h-3.3zM81 451h3.3v3.3h-3.3zM84 454h6.3v3.3h-6.3zM105 454h3.3v3.3h-3.3zM93 457h3.3v3.3h-3.3zM180 517h9.3v3.3h-9.3zM195 517h3.3v3.3h-3.3zM180 520h15.3v3.3h-15.3zM171 523h18.3v3.3h-18.3zM168 526h6.3v3.3h-6.3z"/>
<path fill="#52c468" d="M90 400h3.3v3.3h-3.3zM54 406h3.3v3.3h-3.3zM99 406h3.3v3.3h-3.3zM30 409h3.3v3.3h-3.3zM99 409h3.3v3.3h-3.3zM99 412h3.3v3.3h-3.3zM99 415h3.3v3.3h-3.3zM99 418h3.3v3.3h-3.3zM60 421h3.3v3.3h-3.3zM99 421h3.3v3.3h-3.3zM99 424h3.3v3.3h-3.3zM126 424h3.3v3.3h-3.3zM117 427h3.3v3.3h-3.3zM117 430h3.3v3.3h-3.3zM126 430h3.3v3.3h-3.3zM114 442h3.3v3.3h-3.3zM75 448h3.3v3.3h-3.3zM114 448h3.3v3.3h-3.3zM78 451h3.3v3.3h-3.3zM108 451h3.3v3.3h-3.3zM81 454h3.3v3.3h-3.3zM90 457h3.3v3.3h-3.3zM102 457h3.3v3.3h-3.3zM96 460h3.3v3.3h-3.3zM183 514h15.3v3.3h-15.3zM189 517h6.3v3.3h-6.3zM174 520h6.3v3.3h-6.3zM168 523h3.3v3.3h-3.3z"/>
<path fill="#5fc860" d="M75 394h3.3v3.3h-3.3zM78 397h6.3v3.3h-6.3zM72 400h6.3v3.3h-6.3zM93 400h3.3v3.3h-3.3zM99 403h3.3v3.3h-3.3zM36 412h3.3v3.3h-3.3zM117 424h3.3v3.3h-3.3zM99 427h3.3v3.3h-3.3zM129 427h3.3v3.3h-3.3zM99 430h3.3v3.3h-3.3zM120 433h6.3v3.3h-6.3zM102 439h3.3v3.3h-3.3zM84 457h6.3v3.3h-6.3zM93 460h3.3v3.3h-3.3zM183 511h15.3v3.3h-15.3zM180 514h3.3v3.3h-3.3zM177 517h3.3v3.3h-3.3zM171 520h3.3v3.3h-3.3z"/>
<path fill="#6ccc59" d="M75 397h3.3v3.3h-3.3zM84 397h3.3v3.3h-3.3zM96 400h3.3v3.3h-3.3zM102 418h3.3v3.3h-3.3zM102 421h3.3v3.3h-3.3zM120 421h3.3v3.3h-3.3zM102 424h3.3v3.3h-3.3zM114 424h3.3v3.3h-3.3zM114 427h3.3v3.3h-3.3zM114 430h3.3v3.3h-3.3zM129 430h3.3v3.3h-3.3zM99 433h3.3v3.3h-3.3zM117 433h3.3v3.3h-3.3zM99 436h3.3v3.3h-3.3zM105 439h12.3v3.3h-12.3zM117 442h3.3v3.3h-3.3zM117 445h3.3v3.3h-3.3zM117 448h3.3v3.3h-3.3zM111 451h3.3v3.3h-3.3zM90 460h3.3v3.3h-3.3zM99 460h3.3v3.3h-3.3zM150 496h3.3v3.3h-3.3zM150 499h3.3v3.3h-3.3zM150 502h3.3v3.3h-3.3zM195 505h3.3v3.3h-3.3zM186 508h12.3v3.3h-12.3zM180 511h3.3v3.3h-3.3zM177 514h3.3v3.3h-3.3zM174 517h3.3v3.3h-3.3zM168 520h3.3v3.3h-3.3zM165 523h3.3v3.3h-3.3z"/>
<path fill="#7ad151" d="M78 394h3.3v3.3h-3.3zM102 406h3.3v3.3h-3.3zM102 412h3.3v3.3h-3.3zM102 415h3.3v3.3h-3.3zM39 418h3.3v3.3h-3.3zM60 418h3.3v3.3h-3.3zM117 421h3.3v3.3h-3.3zM123 421h3.3v3.3h-3.3zM105 424h3.3v3.3h-3.3zM129 424h3.3v3.3h-3.3zM102 427h6.3v3.3h-6.3zM102 430h3.3v3.3h-3.3zM114 433h3.3v3.3h-3.3zM126 433h3.3v3.3h-3.3zM114 436h9.3v3.3h-9.3zM117 439h3.3v3.3h-3.3zM114 451h3.3v3.3h-3.3zM108 454h3.3v3.3h-3.3zM105 457h3.3v3.3h-3.3zM84 460h6.3v3.3h-6.3zM93 463h6.3v3.3h-6.3zM153 481h3.3v3.3h-3.3zM150 484h6.3v3.3h-6.3zM150 487h6.3v3.3h-6.3zM150 490h6.3v3.3h-6.3zM150 493h6.3v3.3h-6.3zM147 496h3.3v3.3h-3.3zM153 496h3.3v3.3h-3.3zM147 499h3.3v3.3h-3.3zM153 499h3.3v3.3h-3.3zM195 499h3.3v3.3h-3.3zM147 502h3.3v3.3h-3.3zM153 502h3.3v3.3h-3.3zM192 502h6.3v3.3h-6.3zM147 505h9.3v3.3h-9.3zM186 505h9.3v3.3h-9.3zM147 508h9.3v3.3h-9.3zM180 508h6.3v3.3h-6.3zM177 511h3.3v3.3h-3.3zM174 514h3.3v3.3h-3.3zM171 517h3.3v3.3h-3.3zM165 520h3.3v3.3h-3.3z"/>
<path fill="#8bd446" d="M81 394h3.3v3.3h-3.3zM87 397h3.3v3.3h-3.3zM99 400h3.3v3.3h-3.3zM102 403h3.3v3.3h-3.3zM102 409h3.3v3.3h-3.3zM33 412h3.3v3.3h-3.3zM105 418h3.3v3.3h-3.3zM105 421h12.3v3.3h-12.3zM126 421h3.3v3.3h-3.3zM108 424h6.3v3.3h-6.3zM108 427h6.3v3.3h-6.3zM105 430h9.3v3.3h-9.3zM102 433h3.3v3.3h-3.3zM111 433h3.3v3.3h-3.3zM102 436h12.3v3.3h-12.3zM123 436h3.3v3.3h-3.3zM120 439h3.3v3.3h-3.3zM120 442h3.3v3.3h-3.3zM120 445h3.3v3.3h-3.3zM90 463h3.3v3.3h-3.3zM99 463h3.3v3.3h-3.3zM96 466h3.3v3.3h-3.3zM150 478h6.3v3.3h-6.3zM150 481h3.3v3.3h-3.3zM156 481h3.3v3.3h-3.3zM156 484h3.3v3.3h-3.3zM147 487h3.3v3.3h-3.3zM156 487h3.3v3.3h-3.3zM147 490h3.3v3.3h-3.3zM156 490h3.3v3.3h-3.3zM147 493h3.3v3.3h-3.3zM156 493h3.3v3.3h-3.3zM195 493h3.3v3.3h-3.3zM156 496h3.3v3.3h-3.3zM192 496h6.3v3.3h-6.3zM144 499h3.3v3.3h-3.3zM156 499h3.3v3.3h-3.3zM192 499h3.3v3.3h-3.3zM144 502h3.3v3.3h-3.3zM156 502h3.3v3.3h-3.3zM189 502h3.3v3.3h-3.3zM144 505h3.3v3.3h-3.3zM156 505h3.3v3.3h-3.3zM150 511h6.3v3.3h-6.3zM168 517h3.3v3.3h-3.3zM162 520h3.3v3.3h-3.3z"/>
<path fill="#9cd83c" d="M90 397h6.3v3.3h-6.3zM105 415h3.3v3.3h-3.3zM108 418h15.3v3.3h-15.3zM105 433h6.3v3.3h-6.3zM129 433h3.3v3.3h-3.3zM120 448h3.3v3.3h-3.3zM117 451h3.3v3.3h-3.3zM111 454h3.3v3.3h-3.3zM102 460h3.3v3.3h-3.3zM87 463h3.3v3.3h-3.3zM90 466h6.3v3.3h-6.3zM99 466h3.3v3.3h-3.3zM150 472h3.3v3.3h-3.3zM147 475h9.3v3.3h-9.3zM147 478h3.3v3.3h-3.3zM156 478h3.3v3.3h-3.3zM147 481h3.3v3.3h-3.3zM147 484h3.3v3.3h-3.3zM144 490h3.3v3.3h-3.3zM144 493h3.3v3.3h-3.3zM144 496h3.3v3.3h-3.3zM156 508h3.3v3.3h-3.3zM156 511h3.3v3.3h-3.3zM174 511h3.3v3.3h-3.3zM153 514h6.3v3.3h-6.3zM168 514h6.3v3.3h-6.3zM156 517h3.3v3.3h-3.3zM165 517h3.3v3.3h-3.3z"/>
<path fill="#acdc31" d="M84 394h3.3v3.3h-3.3zM105 403h3.3v3.3h-3.3zM105 406h3.3v3.3h-3.3zM105 409h3.3v3.3h-3.3zM105 412h3.3v3.3h-3.3zM108 415h3.3v3.3h-3.3zM123 418h3.3v3.3h-3.3zM39 421h3.3v3.3h-3.3zM129 421h3.3v3.3h-3.3zM132 427h3.3v3.3h-3.3zM132 430h3.3v3.3h-3.3zM126 436h3.3v3.3h-3.3zM123 439h3.3v3.3h-3.3zM123 442h3.3v3.3h-3.3zM123 445h3.3v3.3h-3.3zM123 448h3.3v3.3h-3.3zM120 451h6.3v3.3h-6.3zM108 457h3.3v3.3h-3.3zM105 460h3.3v3.3h-3.3zM102 463h3.3v3.3h-3.3zM177 463h3.3v3.3h-3.3zM147 466h6.3v3.3h-6.3zM177 466h3.3v3.3h-3.3zM96 469h6.3v3.3h-6.3zM147 469h9.3v3.3h-9.3zM177 469h3.3v3.3h-3.3zM144 472h6.3v3.3h-6.3zM153 472h3.3v3.3h-3.3zM144 475h3.3v3.3h-3.3zM156 475h3.3v3.3h-3.3zM144 478h3.3v3.3h-3.3zM144 481h3.3v3.3h-3.3zM159 481h3.3v3.3h-3.3zM144 484h3.3v3.3h-3.3zM159 484h3.3v3.3h-3.3zM141 487h6.3v3.3h-6.3zM159 487h3.3v3.3h-3.3zM141 490h3.3v3.3h-3.3zM159 490h3.3v3.3h-3.3zM141 493h3.3v3.3h-3.3zM159 493h3.3v3.3h-3.3zM159 496h3.3v3.3h-3.3zM159 499h3.3v3.3h-3.3zM159 502h3.3v3.3h-3.3zM159 505h3.3v3.3h-3.3zM159 508h3.3v3.3h-3.3zM171 508h3.3v3.3h-3.3zM159 511h3.3v3.3h-3.3zM168 511h6.3v3.3h-6.3zM159 514h9.3v3.3h-9.3zM159 517h6.3v3.3h-6.3z"/>
<path fill="#bddf26" d="M87 394h3.3v3.3h-3.3zM108 406h3.3v3.3h-3.3zM108 412h6.3v3.3h-6.3zM111 415h15.3v3.3h-15.3zM126 418h3.3v3.3h-3.3zM132 424h3.3v3.3h-3.3zM132 433h3.3v3.3h-3.3zM129 436h3.3v3.3h-3.3zM126 439h3.3v3.3h-3.3zM126 442h3.3v3.3h-3.3zM126 445h3.3v3.3h-3.3zM126 448h6.3v3.3h-6.3zM126 451h3.3v3.3h-3.3zM114 454h15.3v3.3h-15.3zM174 457h9.3v3.3h-9.3zM144 460h12.3v3.3h-12.3zM174 460h12.3v3.3h-12.3zM141 463h18.3v3.3h-18.3zM171 463h6.3v3.3h-6.3zM102 466h3.3v3.3h-3.3zM141 466h6.3v3.3h-6.3zM153 466h6.3v3.3h-6.3zM171 466h6.3v3.3h-6.3zM102 469h3.3v3.3h-3.3zM141 469h6.3v3.3h-6.3zM156 469h3.3v3.3h-3.3zM168 469h9.3v3.3h-9.3zM99 472h6.3v3.3h-6.3zM141 472h3.3v3.3h-3.3zM156 472h6.3v3.3h-6.3zM165 472h12.3v3.3h-12.3zM141 475h3.3v3.3h-3.3zM159 475h15.3v3.3h-15.3zM138 478h6.3v3.3h-6.3zM159 478h3.3v3.3h-3.3zM168 478h6.3v3.3h-6.3zM129 481h15.3v3.3h-15.3zM171 481h3.3v3.3h-3.3zM132 484h12.3v3.3h-12.3zM162 484h3.3v3.3h-3.3zM171 484h6.3v3.3h-6.3zM135 487h6.3v3.3h-6.3zM171 487h6.3v3.3h-6.3zM135 490h6.3v3.3h-6.3zM165 490h12.3v3.3h-12.3zM162 493h12.3v3.3h-12.3zM162 496h12.3v3.3h-12.3zM162 499h12.3v3.3h-12.3zM162 502h9.3v3.3h-9.3zM162 505h9.3v3.3h-9.3zM162 508h9.3v3.3h-9.3zM162 511h6.3v3.3h-6.3z"/>
<path fill="#cde126" d="M111 406h3.3v3.3h-3.3zM108 409h15.3v3.3h-15.3zM114 412h12.3v3.3h-12.3zM126 415h3.3v3.3h-3.3zM132 421h3.3v3.3h-3.3zM135 433h3.3v3.3h-3.3zM132 436h15.3v3.3h-15.3zM129 439h24.3v3.3h-24.3zM129 442h24.3v3.3h-24.3zM129 445h18.3v3.3h-18.3zM153 445h3.3v3.3h-3.3zM132 448h15.3v3.3h-15.3zM129 451h18.3v3.3h-18.3zM159 451h9.3v3.3h-9.3zM129 454h45.3v3.3h-45.3zM111 457h3.3v3.3h-3.3zM120 457h54.3v3.3h-54.3zM108 460h3.3v3.3h-3.3zM123 460h21.3v3.3h-21.3zM156 460h18.3v3.3h-18.3zM105 463h3.3v3.3h-3.3zM123 463h6.3v3.3h-6.3zM135 463h6.3v3.3h-6.3zM159 463h12.3v3.3h-12.3zM105 466h3.3v3.3h-3.3zM138 466h3.3v3.3h-3.3zM159 466h12.3v3.3h-12.3zM105 469h3.3v3.3h-3.3zM138 469h3.3v3.3h-3.3zM159 469h9.3v3.3h-9.3zM105 472h6.3v3.3h-6.3zM135 472h6.3v3.3h-6.3zM162 472h3.3v3.3h-3.3zM102 475h9.3v3.3h-9.3zM123 475h18.3v3.3h-18.3zM105 478h9.3v3.3h-9.3zM117 478h21.3v3.3h-21.3zM162 478h6.3v3.3h-6.3zM111 481h3.3v3.3h-3.3zM117 481h12.3v3.3h-12.3zM162 481h9.3v3.3h-9.3zM120 484h12.3v3.3h-12.3zM165 484h6.3v3.3h-6.3zM123 487h12.3v3.3h-12.3zM162 487h9.3v3.3h-9.3zM126 490h9.3v3.3h-9.3zM162 490h3.3v3.3h-3.3z"/>
<path fill="#dde326" d="M123 409h6.3v3.3h-6.3zM126 412h3.3v3.3h-3.3zM36 415h3.3v3.3h-3.3zM129 415h3.3v3.3h-3.3zM129 418h6.3v3.3h-6.3zM135 427h3.3v3.3h-3.3zM135 430h3.3v3.3h-3.3zM138 433h6.3v3.3h-6.3zM147 445h6.3v3.3h-6.3zM147 448h9.3v3.3h-9.3zM147 451h9.3v3.3h-9.3zM114 457h6.3v3.3h-6.3zM111 460h3.3v3.3h-3.3zM117 460h6.3v3.3h-6.3zM108 463h6.3v3.3h-6.3zM117 463h6.3v3.3h-6.3zM129 463h6.3v3.3h-6.3zM108 466h30.3v3.3h-30.3zM108 469h30.3v3.3h-30.3zM111 472h24.3v3.3h-24.3zM111 475h12.3v3.3h-12.3zM114 478h3.3v3.3h-3.3zM114 481h3.3v3.3h-3.3zM114 484h6.3v3.3h-6.3zM117 487h6.3v3.3h-6.3zM123 490h3.3v3.3h-3.3z"/>
<path fill="#ede525" d="M129 409h3.3v3.3h-3.3zM129 412h3.3v3.3h-3.3zM132 415h3.3v3.3h-3.3zM135 418h3.3v3.3h-3.3zM135 421h3.3v3.3h-3.3zM135 424h3.3v3.3h-3.3zM138 430h3.3v3.3h-3.3zM114 460h3.3v3.3h-3.3zM114 463h3.3v3.3h-3.3z"/>
<path fill="#fde725" d="M132 412h3.3v3.3h-3.3zM36 418h3.3v3.3h-3.3zM138 421h3.3v3.3h-3.3zM138 424h3.3v3.3h-3.3zM138 427h3.3v3.3h-3.3z"/>
</g>
<polyline points="88.4,396.5 96.2,401.0 105.2,404.3 113.0,408.8 122.0,411.6 129.9,412.2 134.3,416.1 135.5,420.0 138.3,421.2 138.3,427.9 140.3,435.7 144.0,436.5 147.0,440.5 152.0,442.5 153.5,447.0 154.0,452.0 156.5,456.5 160.5,455.9 162.0,453.0 165.5,453.4 171.0,456.5 177.3,457.6 182.3,461.0 179.0,462.0 177.3,470.1 174.0,474.0 172.2,478.5 174.0,484.0 174.8,490.3 172.0,496.0 170.6,502.0 170.5,507.0 171.4,511.3 174.0,513.5 177.3,513.8 181.0,511.0 185.7,508.8 189.0,505.0 192.4,502.0 194.5,498.0 196.6,494.5 197.4,494.0" fill="none" stroke="#3a3d3c" stroke-width="0.55"/>
<polygon points="155,447.5 158.5,445.5 160.5,450 160.5,455.9 156.5,456.5 154,452" fill="#4a4d4c"/>
<polygon points="104.6,403.2 111.9,404.3 117.5,407.1 123.1,408.8 123.7,411.6 118.6,410.8 113,408.8 107.4,406" fill="#2c2c2a"/>
<polygon points="72.5,428.0 74.0,426.3 76.5,426.8 77.8,429.5 77.6,433.0 76.0,435.8 73.5,436.6 71.6,435.0 71.2,431.5" fill="#fff" stroke="#222" stroke-width="0.6"/>
<polygon points="72.8,441.8 74.5,441.6 77.0,444.0 79.0,447.0 80.6,450.5 79.8,451.2 77.5,449.5 75.0,446.5 73.0,444.0" fill="#fff" stroke="#222" stroke-width="0.6"/>
<polygon points="102.4,468.5 104.5,466.5 107.0,464.0 109.5,464.3 111.5,466.5 113.6,469.0 113.2,471.8 110.5,472.8 108.0,471.2 105.0,471.8 102.8,470.5" fill="#fff" stroke="#222" stroke-width="0.6"/>
<polygon points="120.5,470.5 122.5,469.2 126.0,469.5 128.4,471.5 128.6,475.0 127.0,478.0 123.5,478.6 121.0,477.0 120.0,473.5" fill="#fff" stroke="#222" stroke-width="0.6"/>
</g></g>
<rect x="27.80" y="395.30" width="169.60" height="134.50" fill="none" stroke="#6e6e6e" stroke-width="0.85"/>
<line x1="27.80" y1="529.80" x2="27.80" y2="531.60" stroke="#6e6e6e" stroke-width="0.85"/>
<text x="27.80" y="537.70" class="k">0</text>
<line x1="45.28" y1="529.80" x2="45.28" y2="531.60" stroke="#6e6e6e" stroke-width="0.85"/>
<text x="45.28" y="537.70" class="k">63</text>
<line x1="62.76" y1="529.80" x2="62.76" y2="531.60" stroke="#6e6e6e" stroke-width="0.85"/>
<text x="62.76" y="537.70" class="k">126</text>
<line x1="80.24" y1="529.80" x2="80.24" y2="531.60" stroke="#6e6e6e" stroke-width="0.85"/>
<text x="80.24" y="537.70" class="k">189</text>
<line x1="97.72" y1="529.80" x2="97.72" y2="531.60" stroke="#6e6e6e" stroke-width="0.85"/>
<text x="97.72" y="537.70" class="k">251</text>
<line x1="115.20" y1="529.80" x2="115.20" y2="531.60" stroke="#6e6e6e" stroke-width="0.85"/>
<text x="115.20" y="537.70" class="k">314</text>
<line x1="132.68" y1="529.80" x2="132.68" y2="531.60" stroke="#6e6e6e" stroke-width="0.85"/>
<text x="132.68" y="537.70" class="k">377</text>
<line x1="150.16" y1="529.80" x2="150.16" y2="531.60" stroke="#6e6e6e" stroke-width="0.85"/>
<text x="150.16" y="537.70" class="k">440</text>
<line x1="167.64" y1="529.80" x2="167.64" y2="531.60" stroke="#6e6e6e" stroke-width="0.85"/>
<text x="167.64" y="537.70" class="k">503</text>
<line x1="185.12" y1="529.80" x2="185.12" y2="531.60" stroke="#6e6e6e" stroke-width="0.85"/>
<text x="185.12" y="537.70" class="k">566</text>
<line x1="26.00" y1="529.80" x2="27.80" y2="529.80" stroke="#6e6e6e" stroke-width="0.85"/>
<text x="23.70" y="531.38" class="k e">0</text>
<line x1="26.00" y1="512.32" x2="27.80" y2="512.32" stroke="#6e6e6e" stroke-width="0.85"/>
<text x="23.70" y="513.90" class="k e">63</text>
<line x1="26.00" y1="494.84" x2="27.80" y2="494.84" stroke="#6e6e6e" stroke-width="0.85"/>
<text x="23.70" y="496.42" class="k e">126</text>
<line x1="26.00" y1="477.36" x2="27.80" y2="477.36" stroke="#6e6e6e" stroke-width="0.85"/>
<text x="23.70" y="478.94" class="k e">189</text>
<line x1="26.00" y1="459.88" x2="27.80" y2="459.88" stroke="#6e6e6e" stroke-width="0.85"/>
<text x="23.70" y="461.46" class="k e">251</text>
<line x1="26.00" y1="442.40" x2="27.80" y2="442.40" stroke="#6e6e6e" stroke-width="0.85"/>
<text x="23.70" y="443.98" class="k e">314</text>
<line x1="26.00" y1="424.92" x2="27.80" y2="424.92" stroke="#6e6e6e" stroke-width="0.85"/>
<text x="23.70" y="426.50" class="k e">377</text>
<line x1="26.00" y1="407.44" x2="27.80" y2="407.44" stroke="#6e6e6e" stroke-width="0.85"/>
<text x="23.70" y="409.02" class="k e">440</text>
<text x="112.60" y="391.80" class="h">CNN Estimation</text>
<text x="112.60" y="545.80" class="l">Local X (m)</text>
<text x="10.60" y="462.55" class="l" transform="rotate(-90 10.60 462.55)">Local Y (m)</text>
<rect x="207.70" y="378.90" width="8.80" height="167.50" fill="url(#vir)" stroke="#333" stroke-width="0.4"/>
<line x1="216.50" y1="404.40" x2="218.30" y2="404.40" stroke="#6e6e6e" stroke-width="0.85"/>
<text x="220.50" y="405.98" class="k s">−1.0</text>
<line x1="216.50" y1="431.25" x2="218.30" y2="431.25" stroke="#6e6e6e" stroke-width="0.85"/>
<text x="220.50" y="432.83" class="k s">−1.5</text>
<line x1="216.50" y1="458.10" x2="218.30" y2="458.10" stroke="#6e6e6e" stroke-width="0.85"/>
<text x="220.50" y="459.68" class="k s">−2.0</text>
<line x1="216.50" y1="484.95" x2="218.30" y2="484.95" stroke="#6e6e6e" stroke-width="0.85"/>
<text x="220.50" y="486.53" class="k s">−2.5</text>
<line x1="216.50" y1="511.80" x2="218.30" y2="511.80" stroke="#6e6e6e" stroke-width="0.85"/>
<text x="220.50" y="513.38" class="k s">−3.0</text>
<line x1="216.50" y1="538.65" x2="218.30" y2="538.65" stroke="#6e6e6e" stroke-width="0.85"/>
<text x="220.50" y="540.23" class="k s">−3.5</text>
<text x="239.00" y="462.50" class="l" transform="rotate(-90 239.00 462.50)">Depth (m)</text>
<text x="231.30" y="533.70" class="b s">(E)</text>
<rect x="298.30" y="380.90" width="211.50" height="148.60" fill="none" stroke="#6e6e6e" stroke-width="0.85"/>
<line x1="298.50" y1="529.50" x2="298.50" y2="531.30" stroke="#6e6e6e" stroke-width="0.85"/>
<text x="298.50" y="537.10" class="k">−4.5</text>
<line x1="323.90" y1="529.50" x2="323.90" y2="531.30" stroke="#6e6e6e" stroke-width="0.85"/>
<text x="323.90" y="537.10" class="k">−4.0</text>
<line x1="349.30" y1="529.50" x2="349.30" y2="531.30" stroke="#6e6e6e" stroke-width="0.85"/>
<text x="349.30" y="537.10" class="k">−3.5</text>
<line x1="374.70" y1="529.50" x2="374.70" y2="531.30" stroke="#6e6e6e" stroke-width="0.85"/>
<text x="374.70" y="537.10" class="k">−3.0</text>
<line x1="400.10" y1="529.50" x2="400.10" y2="531.30" stroke="#6e6e6e" stroke-width="0.85"/>
<text x="400.10" y="537.10" class="k">−2.5</text>
<line x1="425.50" y1="529.50" x2="425.50" y2="531.30" stroke="#6e6e6e" stroke-width="0.85"/>
<text x="425.50" y="537.10" class="k">−2.0</text>
<line x1="450.90" y1="529.50" x2="450.90" y2="531.30" stroke="#6e6e6e" stroke-width="0.85"/>
<text x="450.90" y="537.10" class="k">−1.5</text>
<line x1="476.30" y1="529.50" x2="476.30" y2="531.30" stroke="#6e6e6e" stroke-width="0.85"/>
<text x="476.30" y="537.10" class="k">−1.0</text>
<line x1="501.70" y1="529.50" x2="501.70" y2="531.30" stroke="#6e6e6e" stroke-width="0.85"/>
<text x="501.70" y="537.10" class="k">−0.5</text>
<line x1="296.50" y1="401.10" x2="298.30" y2="401.10" stroke="#6e6e6e" stroke-width="0.85"/>
<text x="293.90" y="402.68" class="k e">−1.0</text>
<line x1="296.50" y1="424.57" x2="298.30" y2="424.57" stroke="#6e6e6e" stroke-width="0.85"/>
<text x="293.90" y="426.15" class="k e">−1.5</text>
<line x1="296.50" y1="448.04" x2="298.30" y2="448.04" stroke="#6e6e6e" stroke-width="0.85"/>
<text x="293.90" y="449.62" class="k e">−2.0</text>
<line x1="296.50" y1="471.51" x2="298.30" y2="471.51" stroke="#6e6e6e" stroke-width="0.85"/>
<text x="293.90" y="473.09" class="k e">−2.5</text>
<line x1="296.50" y1="494.98" x2="298.30" y2="494.98" stroke="#6e6e6e" stroke-width="0.85"/>
<text x="293.90" y="496.56" class="k e">−3.0</text>
<line x1="296.50" y1="518.45" x2="298.30" y2="518.45" stroke="#6e6e6e" stroke-width="0.85"/>
<text x="293.90" y="520.03" class="k e">−3.5</text>
<text x="404.05" y="377.80" class="h">Scatterplot of USV test points</text>
<text x="404.05" y="545.80" class="l">USV measurement (m)</text>
<text x="277.90" y="456.50" class="l" transform="rotate(-90 277.90 456.50)">CNN Estimations (m)</text>
<g id="ptsF" fill="#1f77b4"><circle cx="307.7" cy="505.5" r="1.0"/><circle cx="324.3" cy="480.8" r="1.0"/><circle cx="325.8" cy="482.4" r="1.0"/><circle cx="326.8" cy="477.7" r="1.0"/><circle cx="327.8" cy="480.4" r="1.0"/><circle cx="328.8" cy="486.1" r="1.0"/><circle cx="334.0" cy="471.1" r="1.0"/><circle cx="336.4" cy="488.2" r="1.0"/><circle cx="339.1" cy="473.8" r="1.0"/><circle cx="339.1" cy="477.3" r="1.0"/><circle cx="342.2" cy="477.7" r="1.0"/><circle cx="346.7" cy="478.7" r="1.0"/><circle cx="339.1" cy="510.6" r="1.0"/><circle cx="340.8" cy="511.6" r="1.0"/><circle cx="343.6" cy="509.8" r="1.0"/><circle cx="346.7" cy="508.5" r="1.0"/><circle cx="346.9" cy="502.0" r="1.0"/><circle cx="353.1" cy="485.9" r="1.0"/><circle cx="354.9" cy="473.2" r="1.0"/><circle cx="354.9" cy="476.3" r="1.0"/><circle cx="357.0" cy="479.3" r="1.0"/><circle cx="358.0" cy="480.4" r="1.0"/><circle cx="358.2" cy="499.3" r="1.0"/><circle cx="359.7" cy="471.5" r="1.0"/><circle cx="360.3" cy="451.0" r="1.0"/><circle cx="362.4" cy="457.8" r="1.0"/><circle cx="363.4" cy="461.9" r="1.0"/><circle cx="365.2" cy="462.9" r="1.0"/><circle cx="366.3" cy="472.6" r="1.0"/><circle cx="366.9" cy="494.4" r="1.0"/><circle cx="367.9" cy="459.8" r="1.0"/><circle cx="370.0" cy="456.3" r="1.0"/><circle cx="370.4" cy="496.2" r="1.0"/><circle cx="372.4" cy="455.7" r="1.0"/><circle cx="375.7" cy="494.4" r="1.0"/><circle cx="376.1" cy="462.5" r="1.0"/><circle cx="377.2" cy="457.8" r="1.0"/><circle cx="377.2" cy="483.5" r="1.0"/><circle cx="378.2" cy="465.4" r="1.0"/><circle cx="377.2" cy="508.7" r="1.0"/><circle cx="378.2" cy="507.7" r="1.0"/><circle cx="381.3" cy="468.0" r="1.0"/><circle cx="381.7" cy="455.3" r="1.0"/><circle cx="382.3" cy="505.7" r="1.0"/><circle cx="382.9" cy="463.9" r="1.0"/><circle cx="384.3" cy="479.3" r="1.0"/><circle cx="383.9" cy="469.1" r="1.0"/><circle cx="386.4" cy="460.8" r="1.0"/><circle cx="387.8" cy="502.4" r="1.0"/><circle cx="392.6" cy="498.5" r="1.0"/><circle cx="393.6" cy="466.6" r="1.0"/><circle cx="394.6" cy="464.5" r="1.0"/><circle cx="395.7" cy="461.9" r="1.0"/><circle cx="401.8" cy="458.8" r="1.0"/><circle cx="402.4" cy="461.9" r="1.0"/><circle cx="402.9" cy="454.7" r="1.0"/><circle cx="403.9" cy="448.1" r="1.0"/><circle cx="404.9" cy="452.2" r="1.0"/><circle cx="405.9" cy="456.7" r="1.0"/><circle cx="407.0" cy="445.4" r="1.0"/><circle cx="407.0" cy="450.6" r="1.0"/><circle cx="402.9" cy="476.9" r="1.0"/><circle cx="403.9" cy="473.2" r="1.0"/><circle cx="404.9" cy="472.1" r="1.0"/><circle cx="405.9" cy="474.2" r="1.0"/><circle cx="403.3" cy="478.3" r="1.0"/><circle cx="407.0" cy="479.3" r="1.0"/><circle cx="407.0" cy="481.4" r="1.0"/><circle cx="406.6" cy="471.1" r="1.0"/><circle cx="483.3" cy="422.4" r="1.0"/><circle cx="484.8" cy="421.5" r="1.0"/><circle cx="486.2" cy="420.9" r="1.0"/><circle cx="487.9" cy="419.4" r="1.0"/><circle cx="490.0" cy="417.4" r="1.0"/><circle cx="491.5" cy="415.3" r="1.0"/><circle cx="492.1" cy="412.5" r="1.0"/><circle cx="493.6" cy="410.4" r="1.0"/><circle cx="495.2" cy="409.4" r="1.0"/><circle cx="496.7" cy="409.0" r="1.0"/><circle cx="452.3" cy="391.0" r="1.0"/><circle cx="455.5" cy="392.2" r="1.0"/><circle cx="456.1" cy="391.0" r="1.0"/><circle cx="462.8" cy="391.6" r="1.0"/><circle cx="454.8" cy="396.8" r="1.0"/><circle cx="445.0" cy="398.3" r="1.0"/><circle cx="444.0" cy="400.6" r="1.0"/><circle cx="465.9" cy="395.8" r="1.0"/><circle cx="468.0" cy="397.9" r="1.0"/><circle cx="467.0" cy="403.1" r="1.0"/><circle cx="462.8" cy="405.2" r="1.0"/><circle cx="449.2" cy="407.9" r="1.0"/><circle cx="446.1" cy="413.6" r="1.0"/><circle cx="473.3" cy="410.4" r="1.0"/><circle cx="473.7" cy="414.0" r="1.0"/><circle cx="471.2" cy="404.2" r="1.0"/><circle cx="451.3" cy="423.0" r="1.0"/><circle cx="452.3" cy="425.1" r="1.0"/><circle cx="453.4" cy="420.9" r="1.0"/><circle cx="454.8" cy="418.8" r="1.0"/><circle cx="456.5" cy="416.7" r="1.0"/><circle cx="457.6" cy="415.7" r="1.0"/><circle cx="458.6" cy="413.6" r="1.0"/><circle cx="459.7" cy="417.8" r="1.0"/><circle cx="460.7" cy="419.9" r="1.0"/><circle cx="461.8" cy="416.7" r="1.0"/><circle cx="462.8" cy="418.8" r="1.0"/><circle cx="463.8" cy="415.7" r="1.0"/><circle cx="464.9" cy="414.6" r="1.0"/><circle cx="465.9" cy="416.7" r="1.0"/><circle cx="456.5" cy="411.5" r="1.0"/><circle cx="459.7" cy="411.1" r="1.0"/><circle cx="450.2" cy="428.2" r="1.0"/><circle cx="452.3" cy="430.3" r="1.0"/><circle cx="454.4" cy="431.4" r="1.0"/><circle cx="456.5" cy="429.3" r="1.0"/><circle cx="455.5" cy="427.2" r="1.0"/><circle cx="448.6" cy="427.8" r="1.0"/><circle cx="438.7" cy="436.6" r="1.0"/><circle cx="439.8" cy="436.0" r="1.0"/><circle cx="440.8" cy="434.9" r="1.0"/><circle cx="441.9" cy="434.1" r="1.0"/><circle cx="442.9" cy="433.1" r="1.0"/><circle cx="444.0" cy="432.0" r="1.0"/><circle cx="427.2" cy="425.1" r="1.0"/><circle cx="436.6" cy="423.6" r="1.0"/><circle cx="438.7" cy="421.5" r="1.0"/><circle cx="434.5" cy="428.2" r="1.0"/><circle cx="435.6" cy="430.3" r="1.0"/><circle cx="437.3" cy="428.7" r="1.0"/><circle cx="439.8" cy="429.3" r="1.0"/><circle cx="441.9" cy="428.2" r="1.0"/><circle cx="422.4" cy="434.1" r="1.0"/><circle cx="425.1" cy="435.6" r="1.0"/><circle cx="428.3" cy="432.8" r="1.0"/><circle cx="429.3" cy="434.9" r="1.0"/><circle cx="431.4" cy="433.5" r="1.0"/><circle cx="426.8" cy="438.7" r="1.0"/><circle cx="429.3" cy="440.8" r="1.0"/><circle cx="431.4" cy="443.3" r="1.0"/><circle cx="420.5" cy="437.7" r="1.0"/><circle cx="415.7" cy="439.3" r="1.0"/><circle cx="404.2" cy="473.2" r="1.0"/><circle cx="405.9" cy="472.2" r="1.0"/><circle cx="407.3" cy="471.2" r="1.0"/><circle cx="408.8" cy="471.8" r="1.0"/><circle cx="410.0" cy="470.1" r="1.0"/><circle cx="406.3" cy="475.3" r="1.0"/><circle cx="409.4" cy="476.4" r="1.0"/><circle cx="402.1" cy="460.7" r="1.0"/><circle cx="402.5" cy="462.8" r="1.0"/><circle cx="483.7" cy="396.1" r="1.0"/><circle cx="480.5" cy="395.3" r="1.0"/><circle cx="479.3" cy="395.9" r="1.0"/><circle cx="485.3" cy="397.6" r="1.0"/><circle cx="479.5" cy="396.7" r="1.0"/><circle cx="486.7" cy="394.0" r="1.0"/><circle cx="482.8" cy="393.5" r="1.0"/><circle cx="484.0" cy="396.9" r="1.0"/><circle cx="474.5" cy="400.7" r="1.0"/><circle cx="470.1" cy="401.8" r="1.0"/><circle cx="471.8" cy="403.3" r="1.0"/><circle cx="475.9" cy="401.6" r="1.0"/><circle cx="484.0" cy="394.6" r="1.0"/><circle cx="467.3" cy="405.8" r="1.0"/><circle cx="483.2" cy="396.0" r="1.0"/><circle cx="473.4" cy="401.5" r="1.0"/><circle cx="476.3" cy="398.5" r="1.0"/><circle cx="488.8" cy="389.5" r="1.0"/><circle cx="484.2" cy="397.2" r="1.0"/><circle cx="479.6" cy="398.0" r="1.0"/><circle cx="484.1" cy="395.2" r="1.0"/><circle cx="475.9" cy="401.1" r="1.0"/><circle cx="489.7" cy="387.0" r="1.0"/><circle cx="488.7" cy="392.0" r="1.0"/><circle cx="481.8" cy="401.8" r="1.0"/><circle cx="486.5" cy="390.2" r="1.0"/><circle cx="484.5" cy="396.2" r="1.0"/><circle cx="483.0" cy="397.6" r="1.0"/><circle cx="483.7" cy="397.0" r="1.0"/><circle cx="491.3" cy="388.1" r="1.0"/><circle cx="484.0" cy="393.9" r="1.0"/><circle cx="482.6" cy="393.0" r="1.0"/><circle cx="479.5" cy="397.8" r="1.0"/><circle cx="490.2" cy="393.6" r="1.0"/><circle cx="474.2" cy="400.1" r="1.0"/><circle cx="484.8" cy="389.4" r="1.0"/><circle cx="480.4" cy="397.5" r="1.0"/><circle cx="491.8" cy="391.2" r="1.0"/><circle cx="480.9" cy="396.4" r="1.0"/><circle cx="483.6" cy="399.3" r="1.0"/><circle cx="480.3" cy="397.0" r="1.0"/><circle cx="485.3" cy="393.8" r="1.0"/><circle cx="480.7" cy="394.6" r="1.0"/><circle cx="482.7" cy="394.9" r="1.0"/><circle cx="491.2" cy="391.6" r="1.0"/><circle cx="484.0" cy="396.8" r="1.0"/><circle cx="482.5" cy="398.9" r="1.0"/><circle cx="484.0" cy="396.6" r="1.0"/><circle cx="475.8" cy="401.9" r="1.0"/><circle cx="470.5" cy="399.6" r="1.0"/><circle cx="480.4" cy="395.4" r="1.0"/><circle cx="487.1" cy="398.7" r="1.0"/><circle cx="477.5" cy="398.2" r="1.0"/><circle cx="485.2" cy="395.5" r="1.0"/><circle cx="482.0" cy="396.0" r="1.0"/><circle cx="488.2" cy="393.4" r="1.0"/><circle cx="476.9" cy="400.0" r="1.0"/><circle cx="482.2" cy="393.6" r="1.0"/><circle cx="483.9" cy="393.0" r="1.0"/><circle cx="489.5" cy="391.6" r="1.0"/><circle cx="483.1" cy="394.2" r="1.0"/><circle cx="480.1" cy="392.7" r="1.0"/><circle cx="476.8" cy="401.2" r="1.0"/><circle cx="471.3" cy="406.4" r="1.0"/><circle cx="473.6" cy="404.6" r="1.0"/><circle cx="479.1" cy="400.6" r="1.0"/><circle cx="482.2" cy="392.4" r="1.0"/><circle cx="492.7" cy="392.5" r="1.0"/><circle cx="482.6" cy="395.4" r="1.0"/><circle cx="481.1" cy="394.6" r="1.0"/><circle cx="489.4" cy="389.8" r="1.0"/><circle cx="482.0" cy="394.5" r="1.0"/><circle cx="477.9" cy="396.2" r="1.0"/><circle cx="490.8" cy="389.8" r="1.0"/><circle cx="489.2" cy="391.4" r="1.0"/><circle cx="478.7" cy="398.1" r="1.0"/><circle cx="479.9" cy="398.1" r="1.0"/><circle cx="480.7" cy="396.7" r="1.0"/><circle cx="473.9" cy="400.3" r="1.0"/><circle cx="492.6" cy="387.2" r="1.0"/><circle cx="477.3" cy="400.8" r="1.0"/><circle cx="490.1" cy="386.9" r="1.0"/><circle cx="481.3" cy="395.4" r="1.0"/><circle cx="473.4" cy="404.6" r="1.0"/><circle cx="483.3" cy="395.8" r="1.0"/><circle cx="479.3" cy="399.7" r="1.0"/><circle cx="479.8" cy="397.7" r="1.0"/><circle cx="475.1" cy="398.4" r="1.0"/><circle cx="490.9" cy="388.8" r="1.0"/><circle cx="485.1" cy="394.2" r="1.0"/><circle cx="480.0" cy="396.7" r="1.0"/><circle cx="486.8" cy="392.3" r="1.0"/><circle cx="482.4" cy="396.3" r="1.0"/><circle cx="491.3" cy="391.6" r="1.0"/><circle cx="485.0" cy="392.9" r="1.0"/><circle cx="490.1" cy="396.3" r="1.0"/><circle cx="497.3" cy="392.1" r="1.0"/><circle cx="496.4" cy="394.6" r="1.0"/><circle cx="497.4" cy="394.8" r="1.0"/><circle cx="493.5" cy="397.1" r="1.0"/><circle cx="490.5" cy="396.0" r="1.0"/><circle cx="496.3" cy="394.9" r="1.0"/><circle cx="501.1" cy="395.5" r="1.0"/><circle cx="489.6" cy="389.7" r="1.0"/><circle cx="496.4" cy="390.0" r="1.0"/><circle cx="494.6" cy="395.1" r="1.0"/><circle cx="487.8" cy="389.0" r="1.0"/><circle cx="495.1" cy="393.0" r="1.0"/><circle cx="493.4" cy="393.3" r="1.0"/><circle cx="490.6" cy="389.9" r="1.0"/><circle cx="493.2" cy="390.8" r="1.0"/><circle cx="489.1" cy="395.4" r="1.0"/><circle cx="494.2" cy="394.1" r="1.0"/><circle cx="490.6" cy="392.1" r="1.0"/><circle cx="490.5" cy="391.5" r="1.0"/><circle cx="494.5" cy="391.0" r="1.0"/><circle cx="495.5" cy="393.7" r="1.0"/><circle cx="500.2" cy="388.3" r="1.0"/><circle cx="497.1" cy="392.3" r="1.0"/><circle cx="493.4" cy="389.5" r="1.0"/><circle cx="493.1" cy="395.2" r="1.0"/><circle cx="494.0" cy="393.3" r="1.0"/><circle cx="493.8" cy="396.1" r="1.0"/><circle cx="493.0" cy="387.7" r="1.0"/><circle cx="491.0" cy="388.7" r="1.0"/><circle cx="443.3" cy="428.4" r="1.0"/><circle cx="464.1" cy="414.7" r="1.0"/><circle cx="452.0" cy="421.1" r="1.0"/><circle cx="463.4" cy="415.5" r="1.0"/><circle cx="458.3" cy="418.6" r="1.0"/><circle cx="459.3" cy="419.9" r="1.0"/><circle cx="460.9" cy="417.4" r="1.0"/><circle cx="454.2" cy="422.9" r="1.0"/><circle cx="456.4" cy="422.7" r="1.0"/><circle cx="452.4" cy="422.7" r="1.0"/><circle cx="456.7" cy="416.8" r="1.0"/><circle cx="467.4" cy="415.6" r="1.0"/><circle cx="457.0" cy="421.5" r="1.0"/><circle cx="457.0" cy="413.6" r="1.0"/><circle cx="459.2" cy="417.9" r="1.0"/><circle cx="457.4" cy="416.9" r="1.0"/><circle cx="456.8" cy="419.4" r="1.0"/><circle cx="463.8" cy="415.6" r="1.0"/><circle cx="459.9" cy="421.2" r="1.0"/><circle cx="455.3" cy="420.0" r="1.0"/><circle cx="451.9" cy="427.0" r="1.0"/><circle cx="463.5" cy="417.2" r="1.0"/><circle cx="461.3" cy="416.9" r="1.0"/><circle cx="458.9" cy="417.7" r="1.0"/><circle cx="457.4" cy="419.6" r="1.0"/><circle cx="465.5" cy="414.9" r="1.0"/><circle cx="457.3" cy="418.1" r="1.0"/><circle cx="457.2" cy="423.3" r="1.0"/><circle cx="425.1" cy="447.2" r="1.0"/><circle cx="418.0" cy="448.0" r="1.0"/><circle cx="423.1" cy="451.5" r="1.0"/><circle cx="419.3" cy="450.3" r="1.0"/><circle cx="420.9" cy="450.4" r="1.0"/><circle cx="412.1" cy="455.4" r="1.0"/><circle cx="418.4" cy="454.9" r="1.0"/><circle cx="418.4" cy="453.8" r="1.0"/><circle cx="430.5" cy="441.9" r="1.0"/><circle cx="418.7" cy="452.2" r="1.0"/><circle cx="420.3" cy="446.8" r="1.0"/><circle cx="428.2" cy="452.0" r="1.0"/><circle cx="420.1" cy="449.8" r="1.0"/><circle cx="416.3" cy="454.4" r="1.0"/><circle cx="412.7" cy="451.9" r="1.0"/><circle cx="428.0" cy="441.5" r="1.0"/><circle cx="431.0" cy="448.2" r="1.0"/><circle cx="424.5" cy="449.4" r="1.0"/><circle cx="433.3" cy="440.3" r="1.0"/><circle cx="416.1" cy="448.5" r="1.0"/><circle cx="424.8" cy="452.5" r="1.0"/><circle cx="426.1" cy="442.8" r="1.0"/><circle cx="416.0" cy="451.6" r="1.0"/><circle cx="423.4" cy="447.4" r="1.0"/><circle cx="423.8" cy="449.0" r="1.0"/><circle cx="420.1" cy="450.4" r="1.0"/><circle cx="423.1" cy="448.1" r="1.0"/><circle cx="428.2" cy="451.5" r="1.0"/><circle cx="425.6" cy="446.8" r="1.0"/><circle cx="412.6" cy="457.3" r="1.0"/><circle cx="408.0" cy="454.2" r="1.0"/><circle cx="428.3" cy="447.2" r="1.0"/><circle cx="418.2" cy="445.7" r="1.0"/><circle cx="418.6" cy="449.1" r="1.0"/><circle cx="429.6" cy="451.8" r="1.0"/><circle cx="421.9" cy="446.4" r="1.0"/><circle cx="414.9" cy="454.1" r="1.0"/><circle cx="419.0" cy="447.2" r="1.0"/><circle cx="420.7" cy="445.9" r="1.0"/><circle cx="430.4" cy="446.9" r="1.0"/><circle cx="427.6" cy="443.4" r="1.0"/><circle cx="424.8" cy="446.7" r="1.0"/><circle cx="419.1" cy="450.0" r="1.0"/><circle cx="411.8" cy="451.3" r="1.0"/><circle cx="426.4" cy="445.3" r="1.0"/><circle cx="425.0" cy="450.6" r="1.0"/><circle cx="410.3" cy="454.7" r="1.0"/><circle cx="423.7" cy="449.4" r="1.0"/><circle cx="421.5" cy="453.2" r="1.0"/><circle cx="421.2" cy="445.4" r="1.0"/><circle cx="417.8" cy="455.1" r="1.0"/><circle cx="421.5" cy="442.7" r="1.0"/><circle cx="431.0" cy="444.8" r="1.0"/><circle cx="429.3" cy="442.5" r="1.0"/><circle cx="418.3" cy="447.8" r="1.0"/><circle cx="436.8" cy="437.9" r="1.0"/><circle cx="430.3" cy="440.8" r="1.0"/><circle cx="420.1" cy="444.5" r="1.0"/><circle cx="421.4" cy="453.2" r="1.0"/><circle cx="416.4" cy="457.1" r="1.0"/><circle cx="408.1" cy="444.6" r="1.0"/><circle cx="406.3" cy="447.4" r="1.0"/><circle cx="407.6" cy="446.3" r="1.0"/><circle cx="405.5" cy="448.4" r="1.0"/><circle cx="403.7" cy="447.2" r="1.0"/><circle cx="409.3" cy="448.7" r="1.0"/><circle cx="403.7" cy="450.5" r="1.0"/><circle cx="405.2" cy="446.9" r="1.0"/><circle cx="410.3" cy="444.3" r="1.0"/><circle cx="412.0" cy="442.5" r="1.0"/><circle cx="409.3" cy="445.8" r="1.0"/><circle cx="406.8" cy="449.7" r="1.0"/><circle cx="408.6" cy="448.4" r="1.0"/><circle cx="406.9" cy="445.3" r="1.0"/></g>
<line x1="307.40" y1="522.70" x2="500.20" y2="387.70" stroke="#ff7f0e" stroke-width="1.1" stroke-linecap="round"/>
<text x="509.90" y="533.50" class="b s">(F)</text>
</svg></body></html>
